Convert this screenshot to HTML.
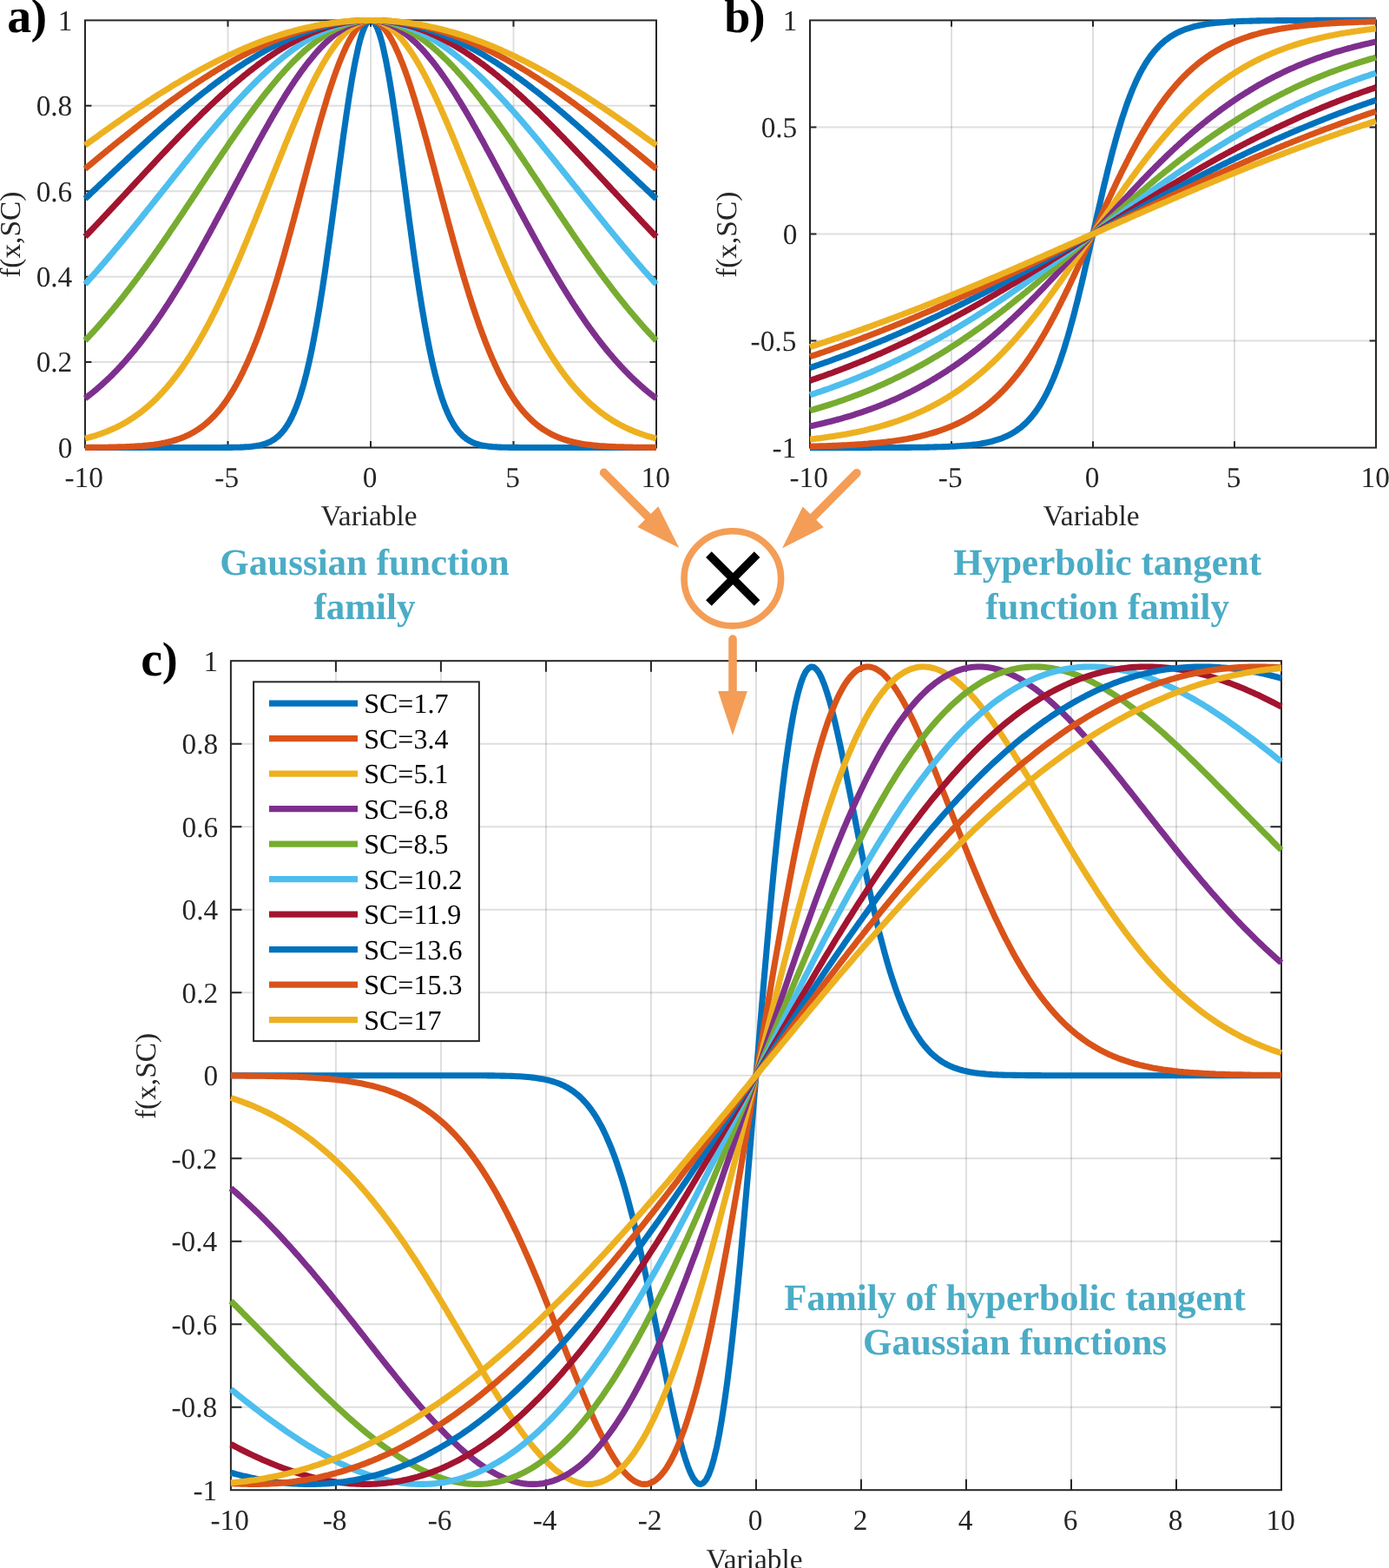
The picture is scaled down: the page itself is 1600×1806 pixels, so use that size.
<!DOCTYPE html>
<html lang="en">
<head>
<meta charset="utf-8">
<title>Gaussian and hyperbolic tangent function families</title>
<style>
html,body{margin:0;padding:0;background:#fff;}
body{width:1600px;height:1806px;overflow:hidden;}
svg{display:block;}
text{font-family:"Liberation Serif","Times New Roman",serif;text-rendering:geometricPrecision;}
.tl{font-size:33.33px;fill:#262626;}
.lg{font-size:32px;fill:#000;}
.pl{font-weight:bold;fill:#000;}
.ti{font-size:43px;font-weight:bold;fill:#4BACC6;}
</style>
</head>
<body>
<svg width="1600" height="1806" viewBox="0 0 1600 1806">
<defs><clipPath id="clipa"><rect x="0" y="20" width="1600" height="600"/></clipPath></defs>
<rect width="1600" height="1806" fill="#fff"/>
<g class="axes">
<path d="M262.5 23.4V515.5M427 23.4V515.5M591.5 23.4V515.5" stroke="#262626" stroke-opacity="0.15" stroke-width="2.0" fill="none"/>
<path d="M98 417.08H756M98 318.66H756M98 220.24H756M98 121.82H756" stroke="#262626" stroke-opacity="0.15" stroke-width="2.0" fill="none"/>
<path d="M262.5 515.5v-7.4M262.5 23.4v7.4M427 515.5v-7.4M427 23.4v7.4M591.5 515.5v-7.4M591.5 23.4v7.4M98 417.08h7.4M756 417.08h-7.4M98 318.66h7.4M756 318.66h-7.4M98 220.24h7.4M756 220.24h-7.4M98 121.82h7.4M756 121.82h-7.4" stroke="#262626" stroke-width="2.0" fill="none"/>
<rect x="98" y="23.4" width="658" height="492.1" stroke="#262626" stroke-width="2.0" fill="none"/>
<g class="tl" text-anchor="middle">
<text x="96.7" y="561">-10</text>
<text x="261.2" y="561">-5</text>
<text x="426.2" y="561">0</text>
<text x="590.7" y="561">5</text>
<text x="755.2" y="561">10</text>
</g>
<g class="tl" text-anchor="end">
<text x="83.3" y="527">0</text>
<text x="83.3" y="428">0.2</text>
<text x="83.3" y="330">0.4</text>
<text x="83.3" y="232">0.6</text>
<text x="83.3" y="133">0.8</text>
<text x="83.3" y="35">1</text>
</g>
<text class="tl" text-anchor="middle" x="425" y="605">Variable</text>
<text class="tl" text-anchor="middle" transform="translate(23.1 270.25) rotate(-90)">f(x,SC)</text>
<g fill="none" stroke-width="7.1" stroke-linejoin="round" clip-path="url(#clipa)">
<polyline stroke="#0072BD" points="98.0,515.5 99.6,515.5 101.3,515.5 102.9,515.5 104.6,515.5 106.2,515.5 107.9,515.5 109.5,515.5 111.2,515.5 112.8,515.5 114.5,515.5 116.1,515.5 117.7,515.5 119.4,515.5 121.0,515.5 122.7,515.5 124.3,515.5 126.0,515.5 127.6,515.5 129.3,515.5 130.9,515.5 132.5,515.5 134.2,515.5 135.8,515.5 137.5,515.5 139.1,515.5 140.8,515.5 142.4,515.5 144.1,515.5 145.7,515.5 147.3,515.5 149.0,515.5 150.6,515.5 152.3,515.5 153.9,515.5 155.6,515.5 157.2,515.5 158.9,515.5 160.5,515.5 162.2,515.5 163.8,515.5 165.4,515.5 167.1,515.5 168.7,515.5 170.4,515.5 172.0,515.5 173.7,515.5 175.3,515.5 177.0,515.5 178.6,515.5 180.2,515.5 181.9,515.5 183.5,515.5 185.2,515.5 186.8,515.5 188.5,515.5 190.1,515.5 191.8,515.5 193.4,515.5 195.1,515.5 196.7,515.5 198.3,515.5 200.0,515.5 201.6,515.5 203.3,515.5 204.9,515.5 206.6,515.5 208.2,515.5 209.9,515.5 211.5,515.5 213.1,515.5 214.8,515.5 216.4,515.5 218.1,515.5 219.7,515.5 221.4,515.5 223.0,515.5 224.7,515.5 226.3,515.5 228.0,515.5 229.6,515.5 231.2,515.5 232.9,515.5 234.5,515.5 236.2,515.5 237.8,515.5 239.5,515.5 241.1,515.5 242.8,515.5 244.4,515.5 246.1,515.5 247.7,515.5 249.3,515.5 251.0,515.5 252.6,515.5 254.3,515.5 255.9,515.5 257.6,515.4 259.2,515.4 260.9,515.4 262.5,515.4 264.1,515.4 265.8,515.4 267.4,515.4 269.1,515.3 270.7,515.3 272.4,515.3 274.0,515.2 275.7,515.2 277.3,515.1 279.0,515.1 280.6,515.0 282.2,514.9 283.9,514.8 285.5,514.7 287.2,514.6 288.8,514.4 290.5,514.2 292.1,514.0 293.8,513.8 295.4,513.6 297.0,513.3 298.7,513.0 300.3,512.6 302.0,512.2 303.6,511.7 305.3,511.2 306.9,510.6 308.6,509.9 310.2,509.2 311.9,508.4 313.5,507.5 315.1,506.5 316.8,505.4 318.4,504.1 320.1,502.8 321.7,501.3 323.4,499.6 325.0,497.8 326.7,495.8 328.3,493.6 329.9,491.3 331.6,488.7 333.2,485.9 334.9,482.8 336.5,479.6 338.2,476.0 339.8,472.2 341.5,468.1 343.1,463.6 344.8,458.9 346.4,453.8 348.0,448.4 349.7,442.7 351.3,436.6 353.0,430.1 354.6,423.3 356.3,416.1 357.9,408.5 359.6,400.5 361.2,392.2 362.8,383.5 364.5,374.4 366.1,364.9 367.8,355.1 369.4,345.0 371.1,334.5 372.7,323.7 374.4,312.6 376.0,301.2 377.6,289.6 379.3,277.8 380.9,265.7 382.6,253.6 384.2,241.3 385.9,228.9 387.5,216.5 389.2,204.1 390.8,191.7 392.5,179.5 394.1,167.3 395.7,155.4 397.4,143.7 399.0,132.3 400.7,121.2 402.3,110.4 404.0,100.1 405.6,90.3 407.3,81.0 408.9,72.3 410.6,64.2 412.2,56.7 413.8,49.9 415.5,43.8 417.1,38.5 418.8,33.9 420.4,30.2 422.1,27.2 423.7,25.1 425.4,23.8 427.0,23.4 428.6,23.8 430.3,25.1 431.9,27.2 433.6,30.2 435.2,33.9 436.9,38.5 438.5,43.8 440.2,49.9 441.8,56.7 443.4,64.2 445.1,72.3 446.7,81.0 448.4,90.3 450.0,100.1 451.7,110.4 453.3,121.2 455.0,132.3 456.6,143.7 458.3,155.4 459.9,167.3 461.5,179.5 463.2,191.7 464.8,204.1 466.5,216.5 468.1,228.9 469.8,241.3 471.4,253.6 473.1,265.7 474.7,277.8 476.3,289.6 478.0,301.2 479.6,312.6 481.3,323.7 482.9,334.5 484.6,345.0 486.2,355.1 487.9,364.9 489.5,374.4 491.2,383.5 492.8,392.2 494.4,400.5 496.1,408.5 497.7,416.1 499.4,423.3 501.0,430.1 502.7,436.6 504.3,442.7 506.0,448.4 507.6,453.8 509.2,458.9 510.9,463.6 512.5,468.1 514.2,472.2 515.8,476.0 517.5,479.6 519.1,482.8 520.8,485.9 522.4,488.7 524.1,491.3 525.7,493.6 527.3,495.8 529.0,497.8 530.6,499.6 532.3,501.3 533.9,502.8 535.6,504.1 537.2,505.4 538.9,506.5 540.5,507.5 542.2,508.4 543.8,509.2 545.4,509.9 547.1,510.6 548.7,511.2 550.4,511.7 552.0,512.2 553.7,512.6 555.3,513.0 557.0,513.3 558.6,513.6 560.2,513.8 561.9,514.0 563.5,514.2 565.2,514.4 566.8,514.6 568.5,514.7 570.1,514.8 571.8,514.9 573.4,515.0 575.0,515.1 576.7,515.1 578.3,515.2 580.0,515.2 581.6,515.3 583.3,515.3 584.9,515.3 586.6,515.4 588.2,515.4 589.9,515.4 591.5,515.4 593.1,515.4 594.8,515.4 596.4,515.4 598.1,515.5 599.7,515.5 601.4,515.5 603.0,515.5 604.7,515.5 606.3,515.5 608.0,515.5 609.6,515.5 611.2,515.5 612.9,515.5 614.5,515.5 616.2,515.5 617.8,515.5 619.5,515.5 621.1,515.5 622.8,515.5 624.4,515.5 626.0,515.5 627.7,515.5 629.3,515.5 631.0,515.5 632.6,515.5 634.3,515.5 635.9,515.5 637.6,515.5 639.2,515.5 640.9,515.5 642.5,515.5 644.1,515.5 645.8,515.5 647.4,515.5 649.1,515.5 650.7,515.5 652.4,515.5 654.0,515.5 655.7,515.5 657.3,515.5 658.9,515.5 660.6,515.5 662.2,515.5 663.9,515.5 665.5,515.5 667.2,515.5 668.8,515.5 670.5,515.5 672.1,515.5 673.8,515.5 675.4,515.5 677.0,515.5 678.7,515.5 680.3,515.5 682.0,515.5 683.6,515.5 685.3,515.5 686.9,515.5 688.6,515.5 690.2,515.5 691.8,515.5 693.5,515.5 695.1,515.5 696.8,515.5 698.4,515.5 700.1,515.5 701.7,515.5 703.4,515.5 705.0,515.5 706.6,515.5 708.3,515.5 709.9,515.5 711.6,515.5 713.2,515.5 714.9,515.5 716.5,515.5 718.2,515.5 719.8,515.5 721.5,515.5 723.1,515.5 724.7,515.5 726.4,515.5 728.0,515.5 729.7,515.5 731.3,515.5 733.0,515.5 734.6,515.5 736.3,515.5 737.9,515.5 739.5,515.5 741.2,515.5 742.8,515.5 744.5,515.5 746.1,515.5 747.8,515.5 749.4,515.5 751.1,515.5 752.7,515.5 754.4,515.5 756.0,515.5"/>
<polyline stroke="#D95319" points="98.0,515.4 99.6,515.4 101.3,515.4 102.9,515.4 104.6,515.4 106.2,515.4 107.9,515.4 109.5,515.3 111.2,515.3 112.8,515.3 114.5,515.3 116.1,515.3 117.7,515.3 119.4,515.2 121.0,515.2 122.7,515.2 124.3,515.2 126.0,515.1 127.6,515.1 129.3,515.1 130.9,515.1 132.5,515.0 134.2,515.0 135.8,514.9 137.5,514.9 139.1,514.8 140.8,514.8 142.4,514.7 144.1,514.7 145.7,514.6 147.3,514.6 149.0,514.5 150.6,514.4 152.3,514.3 153.9,514.2 155.6,514.1 157.2,514.0 158.9,513.9 160.5,513.8 162.2,513.7 163.8,513.6 165.4,513.4 167.1,513.3 168.7,513.1 170.4,513.0 172.0,512.8 173.7,512.6 175.3,512.4 177.0,512.2 178.6,511.9 180.2,511.7 181.9,511.5 183.5,511.2 185.2,510.9 186.8,510.6 188.5,510.3 190.1,509.9 191.8,509.6 193.4,509.2 195.1,508.8 196.7,508.4 198.3,508.0 200.0,507.5 201.6,507.0 203.3,506.5 204.9,505.9 206.6,505.4 208.2,504.8 209.9,504.1 211.5,503.5 213.1,502.8 214.8,502.0 216.4,501.3 218.1,500.5 219.7,499.6 221.4,498.7 223.0,497.8 224.7,496.8 226.3,495.8 228.0,494.8 229.6,493.6 231.2,492.5 232.9,491.3 234.5,490.0 236.2,488.7 237.8,487.3 239.5,485.9 241.1,484.4 242.8,482.8 244.4,481.2 246.1,479.6 247.7,477.8 249.3,476.0 251.0,474.1 252.6,472.2 254.3,470.2 255.9,468.1 257.6,465.9 259.2,463.6 260.9,461.3 262.5,458.9 264.1,456.4 265.8,453.8 267.4,451.2 269.1,448.4 270.7,445.6 272.4,442.7 274.0,439.7 275.7,436.6 277.3,433.4 279.0,430.1 280.6,426.8 282.2,423.3 283.9,419.7 285.5,416.1 287.2,412.4 288.8,408.5 290.5,404.6 292.1,400.5 293.8,396.4 295.4,392.2 297.0,387.9 298.7,383.5 300.3,379.0 302.0,374.4 303.6,369.7 305.3,364.9 306.9,360.1 308.6,355.1 310.2,350.1 311.9,345.0 313.5,339.8 315.1,334.5 316.8,329.1 318.4,323.7 320.1,318.2 321.7,312.6 323.4,306.9 325.0,301.2 326.7,295.4 328.3,289.6 329.9,283.7 331.6,277.8 333.2,271.8 334.9,265.7 336.5,259.7 338.2,253.6 339.8,247.4 341.5,241.3 343.1,235.1 344.8,228.9 346.4,222.7 348.0,216.5 349.7,210.3 351.3,204.1 353.0,197.9 354.6,191.7 356.3,185.6 357.9,179.5 359.6,173.4 361.2,167.3 362.8,161.3 364.5,155.4 366.1,149.5 367.8,143.7 369.4,137.9 371.1,132.3 372.7,126.7 374.4,121.2 376.0,115.7 377.6,110.4 379.3,105.2 380.9,100.1 382.6,95.2 384.2,90.3 385.9,85.6 387.5,81.0 389.2,76.6 390.8,72.3 392.5,68.2 394.1,64.2 395.7,60.4 397.4,56.7 399.0,53.2 400.7,49.9 402.3,46.8 404.0,43.8 405.6,41.1 407.3,38.5 408.9,36.1 410.6,33.9 412.2,31.9 413.8,30.2 415.5,28.6 417.1,27.2 418.8,26.1 420.4,25.1 422.1,24.4 423.7,23.8 425.4,23.5 427.0,23.4 428.6,23.5 430.3,23.8 431.9,24.4 433.6,25.1 435.2,26.1 436.9,27.2 438.5,28.6 440.2,30.2 441.8,31.9 443.4,33.9 445.1,36.1 446.7,38.5 448.4,41.1 450.0,43.8 451.7,46.8 453.3,49.9 455.0,53.2 456.6,56.7 458.3,60.4 459.9,64.2 461.5,68.2 463.2,72.3 464.8,76.6 466.5,81.0 468.1,85.6 469.8,90.3 471.4,95.2 473.1,100.1 474.7,105.2 476.3,110.4 478.0,115.7 479.6,121.2 481.3,126.7 482.9,132.3 484.6,137.9 486.2,143.7 487.9,149.5 489.5,155.4 491.2,161.3 492.8,167.3 494.4,173.4 496.1,179.5 497.7,185.6 499.4,191.7 501.0,197.9 502.7,204.1 504.3,210.3 506.0,216.5 507.6,222.7 509.2,228.9 510.9,235.1 512.5,241.3 514.2,247.4 515.8,253.6 517.5,259.7 519.1,265.7 520.8,271.8 522.4,277.8 524.1,283.7 525.7,289.6 527.3,295.4 529.0,301.2 530.6,306.9 532.3,312.6 533.9,318.2 535.6,323.7 537.2,329.1 538.9,334.5 540.5,339.8 542.2,345.0 543.8,350.1 545.4,355.1 547.1,360.1 548.7,364.9 550.4,369.7 552.0,374.4 553.7,379.0 555.3,383.5 557.0,387.9 558.6,392.2 560.2,396.4 561.9,400.5 563.5,404.6 565.2,408.5 566.8,412.4 568.5,416.1 570.1,419.7 571.8,423.3 573.4,426.8 575.0,430.1 576.7,433.4 578.3,436.6 580.0,439.7 581.6,442.7 583.3,445.6 584.9,448.4 586.6,451.2 588.2,453.8 589.9,456.4 591.5,458.9 593.1,461.3 594.8,463.6 596.4,465.9 598.1,468.1 599.7,470.2 601.4,472.2 603.0,474.1 604.7,476.0 606.3,477.8 608.0,479.6 609.6,481.2 611.2,482.8 612.9,484.4 614.5,485.9 616.2,487.3 617.8,488.7 619.5,490.0 621.1,491.3 622.8,492.5 624.4,493.6 626.0,494.8 627.7,495.8 629.3,496.8 631.0,497.8 632.6,498.7 634.3,499.6 635.9,500.5 637.6,501.3 639.2,502.0 640.9,502.8 642.5,503.5 644.1,504.1 645.8,504.8 647.4,505.4 649.1,505.9 650.7,506.5 652.4,507.0 654.0,507.5 655.7,508.0 657.3,508.4 658.9,508.8 660.6,509.2 662.2,509.6 663.9,509.9 665.5,510.3 667.2,510.6 668.8,510.9 670.5,511.2 672.1,511.5 673.8,511.7 675.4,511.9 677.0,512.2 678.7,512.4 680.3,512.6 682.0,512.8 683.6,513.0 685.3,513.1 686.9,513.3 688.6,513.4 690.2,513.6 691.8,513.7 693.5,513.8 695.1,513.9 696.8,514.0 698.4,514.1 700.1,514.2 701.7,514.3 703.4,514.4 705.0,514.5 706.6,514.6 708.3,514.6 709.9,514.7 711.6,514.7 713.2,514.8 714.9,514.8 716.5,514.9 718.2,514.9 719.8,515.0 721.5,515.0 723.1,515.1 724.7,515.1 726.4,515.1 728.0,515.1 729.7,515.2 731.3,515.2 733.0,515.2 734.6,515.2 736.3,515.3 737.9,515.3 739.5,515.3 741.2,515.3 742.8,515.3 744.5,515.3 746.1,515.4 747.8,515.4 749.4,515.4 751.1,515.4 752.7,515.4 754.4,515.4 756.0,515.4"/>
<polyline stroke="#EDB120" points="98.0,505.0 99.6,504.6 101.3,504.1 102.9,503.7 104.6,503.2 106.2,502.8 107.9,502.3 109.5,501.8 111.2,501.3 112.8,500.7 114.5,500.2 116.1,499.6 117.7,499.0 119.4,498.4 121.0,497.8 122.7,497.2 124.3,496.5 126.0,495.8 127.6,495.1 129.3,494.4 130.9,493.6 132.5,492.9 134.2,492.1 135.8,491.3 137.5,490.4 139.1,489.6 140.8,488.7 142.4,487.8 144.1,486.8 145.7,485.9 147.3,484.9 149.0,483.9 150.6,482.8 152.3,481.8 153.9,480.7 155.6,479.6 157.2,478.4 158.9,477.2 160.5,476.0 162.2,474.8 163.8,473.5 165.4,472.2 167.1,470.8 168.7,469.5 170.4,468.1 172.0,466.6 173.7,465.1 175.3,463.6 177.0,462.1 178.6,460.5 180.2,458.9 181.9,457.2 183.5,455.6 185.2,453.8 186.8,452.1 188.5,450.3 190.1,448.4 191.8,446.6 193.4,444.6 195.1,442.7 196.7,440.7 198.3,438.7 200.0,436.6 201.6,434.5 203.3,432.3 204.9,430.1 206.6,427.9 208.2,425.6 209.9,423.3 211.5,420.9 213.1,418.5 214.8,416.1 216.4,413.6 218.1,411.1 219.7,408.5 221.4,405.9 223.0,403.2 224.7,400.5 226.3,397.8 228.0,395.0 229.6,392.2 231.2,389.3 232.9,386.4 234.5,383.5 236.2,380.5 237.8,377.5 239.5,374.4 241.1,371.3 242.8,368.1 244.4,364.9 246.1,361.7 247.7,358.4 249.3,355.1 251.0,351.8 252.6,348.4 254.3,345.0 255.9,341.5 257.6,338.0 259.2,334.5 260.9,330.9 262.5,327.3 264.1,323.7 265.8,320.0 267.4,316.3 269.1,312.6 270.7,308.8 272.4,305.0 274.0,301.2 275.7,297.4 277.3,293.5 279.0,289.6 280.6,285.7 282.2,281.7 283.9,277.8 285.5,273.8 287.2,269.8 288.8,265.7 290.5,261.7 292.1,257.6 293.8,253.6 295.4,249.5 297.0,245.4 298.7,241.3 300.3,237.2 302.0,233.0 303.6,228.9 305.3,224.8 306.9,220.6 308.6,216.5 310.2,212.4 311.9,208.2 313.5,204.1 315.1,200.0 316.8,195.9 318.4,191.7 320.1,187.6 321.7,183.5 323.4,179.5 325.0,175.4 326.7,171.4 328.3,167.3 329.9,163.3 331.6,159.4 333.2,155.4 334.9,151.5 336.5,147.6 338.2,143.7 339.8,139.8 341.5,136.0 343.1,132.3 344.8,128.5 346.4,124.8 348.0,121.2 349.7,117.5 351.3,114.0 353.0,110.4 354.6,107.0 356.3,103.5 357.9,100.1 359.6,96.8 361.2,93.5 362.8,90.3 364.5,87.2 366.1,84.1 367.8,81.0 369.4,78.1 371.1,75.1 372.7,72.3 374.4,69.5 376.0,66.8 377.6,64.2 379.3,61.6 380.9,59.1 382.6,56.7 384.2,54.4 385.9,52.1 387.5,49.9 389.2,47.8 390.8,45.8 392.5,43.8 394.1,42.0 395.7,40.2 397.4,38.5 399.0,36.9 400.7,35.4 402.3,33.9 404.0,32.6 405.6,31.3 407.3,30.2 408.9,29.1 410.6,28.1 412.2,27.2 413.8,26.4 415.5,25.7 417.1,25.1 418.8,24.6 420.4,24.2 422.1,23.8 423.7,23.6 425.4,23.4 427.0,23.4 428.6,23.4 430.3,23.6 431.9,23.8 433.6,24.2 435.2,24.6 436.9,25.1 438.5,25.7 440.2,26.4 441.8,27.2 443.4,28.1 445.1,29.1 446.7,30.2 448.4,31.3 450.0,32.6 451.7,33.9 453.3,35.4 455.0,36.9 456.6,38.5 458.3,40.2 459.9,42.0 461.5,43.8 463.2,45.8 464.8,47.8 466.5,49.9 468.1,52.1 469.8,54.4 471.4,56.7 473.1,59.1 474.7,61.6 476.3,64.2 478.0,66.8 479.6,69.5 481.3,72.3 482.9,75.1 484.6,78.1 486.2,81.0 487.9,84.1 489.5,87.2 491.2,90.3 492.8,93.5 494.4,96.8 496.1,100.1 497.7,103.5 499.4,107.0 501.0,110.4 502.7,114.0 504.3,117.5 506.0,121.2 507.6,124.8 509.2,128.5 510.9,132.3 512.5,136.0 514.2,139.8 515.8,143.7 517.5,147.6 519.1,151.5 520.8,155.4 522.4,159.4 524.1,163.3 525.7,167.3 527.3,171.4 529.0,175.4 530.6,179.5 532.3,183.5 533.9,187.6 535.6,191.7 537.2,195.9 538.9,200.0 540.5,204.1 542.2,208.2 543.8,212.4 545.4,216.5 547.1,220.6 548.7,224.8 550.4,228.9 552.0,233.0 553.7,237.2 555.3,241.3 557.0,245.4 558.6,249.5 560.2,253.6 561.9,257.6 563.5,261.7 565.2,265.7 566.8,269.8 568.5,273.8 570.1,277.8 571.8,281.7 573.4,285.7 575.0,289.6 576.7,293.5 578.3,297.4 580.0,301.2 581.6,305.0 583.3,308.8 584.9,312.6 586.6,316.3 588.2,320.0 589.9,323.7 591.5,327.3 593.1,330.9 594.8,334.5 596.4,338.0 598.1,341.5 599.7,345.0 601.4,348.4 603.0,351.8 604.7,355.1 606.3,358.4 608.0,361.7 609.6,364.9 611.2,368.1 612.9,371.3 614.5,374.4 616.2,377.5 617.8,380.5 619.5,383.5 621.1,386.4 622.8,389.3 624.4,392.2 626.0,395.0 627.7,397.8 629.3,400.5 631.0,403.2 632.6,405.9 634.3,408.5 635.9,411.1 637.6,413.6 639.2,416.1 640.9,418.5 642.5,420.9 644.1,423.3 645.8,425.6 647.4,427.9 649.1,430.1 650.7,432.3 652.4,434.5 654.0,436.6 655.7,438.7 657.3,440.7 658.9,442.7 660.6,444.6 662.2,446.6 663.9,448.4 665.5,450.3 667.2,452.1 668.8,453.8 670.5,455.6 672.1,457.2 673.8,458.9 675.4,460.5 677.0,462.1 678.7,463.6 680.3,465.1 682.0,466.6 683.6,468.1 685.3,469.5 686.9,470.8 688.6,472.2 690.2,473.5 691.8,474.8 693.5,476.0 695.1,477.2 696.8,478.4 698.4,479.6 700.1,480.7 701.7,481.8 703.4,482.8 705.0,483.9 706.6,484.9 708.3,485.9 709.9,486.8 711.6,487.8 713.2,488.7 714.9,489.6 716.5,490.4 718.2,491.3 719.8,492.1 721.5,492.9 723.1,493.6 724.7,494.4 726.4,495.1 728.0,495.8 729.7,496.5 731.3,497.2 733.0,497.8 734.6,498.4 736.3,499.0 737.9,499.6 739.5,500.2 741.2,500.7 742.8,501.3 744.5,501.8 746.1,502.3 747.8,502.8 749.4,503.2 751.1,503.7 752.7,504.1 754.4,504.6 756.0,505.0"/>
<polyline stroke="#7E2F8E" points="98.0,458.9 99.6,457.7 101.3,456.4 102.9,455.1 104.6,453.8 106.2,452.5 107.9,451.2 109.5,449.8 111.2,448.4 112.8,447.0 114.5,445.6 116.1,444.2 117.7,442.7 119.4,441.2 121.0,439.7 122.7,438.2 124.3,436.6 126.0,435.0 127.6,433.4 129.3,431.8 130.9,430.1 132.5,428.5 134.2,426.8 135.8,425.0 137.5,423.3 139.1,421.5 140.8,419.7 142.4,417.9 144.1,416.1 145.7,414.2 147.3,412.4 149.0,410.4 150.6,408.5 152.3,406.6 153.9,404.6 155.6,402.6 157.2,400.5 158.9,398.5 160.5,396.4 162.2,394.3 163.8,392.2 165.4,390.1 167.1,387.9 168.7,385.7 170.4,383.5 172.0,381.2 173.7,379.0 175.3,376.7 177.0,374.4 178.6,372.1 180.2,369.7 181.9,367.3 183.5,364.9 185.2,362.5 186.8,360.1 188.5,357.6 190.1,355.1 191.8,352.6 193.4,350.1 195.1,347.5 196.7,345.0 198.3,342.4 200.0,339.8 201.6,337.1 203.3,334.5 204.9,331.8 206.6,329.1 208.2,326.4 209.9,323.7 211.5,320.9 213.1,318.2 214.8,315.4 216.4,312.6 218.1,309.8 219.7,306.9 221.4,304.1 223.0,301.2 224.7,298.3 226.3,295.4 228.0,292.5 229.6,289.6 231.2,286.7 232.9,283.7 234.5,280.7 236.2,277.8 237.8,274.8 239.5,271.8 241.1,268.8 242.8,265.7 244.4,262.7 246.1,259.7 247.7,256.6 249.3,253.6 251.0,250.5 252.6,247.4 254.3,244.4 255.9,241.3 257.6,238.2 259.2,235.1 260.9,232.0 262.5,228.9 264.1,225.8 265.8,222.7 267.4,219.6 269.1,216.5 270.7,213.4 272.4,210.3 274.0,207.2 275.7,204.1 277.3,201.0 279.0,197.9 280.6,194.8 282.2,191.7 283.9,188.7 285.5,185.6 287.2,182.5 288.8,179.5 290.5,176.4 292.1,173.4 293.8,170.4 295.4,167.3 297.0,164.3 298.7,161.3 300.3,158.4 302.0,155.4 303.6,152.4 305.3,149.5 306.9,146.6 308.6,143.7 310.2,140.8 311.9,137.9 313.5,135.1 315.1,132.3 316.8,129.4 318.4,126.7 320.1,123.9 321.7,121.2 323.4,118.4 325.0,115.7 326.7,113.1 328.3,110.4 329.9,107.8 331.6,105.2 333.2,102.7 334.9,100.1 336.5,97.6 338.2,95.2 339.8,92.7 341.5,90.3 343.1,88.0 344.8,85.6 346.4,83.3 348.0,81.0 349.7,78.8 351.3,76.6 353.0,74.4 354.6,72.3 356.3,70.2 357.9,68.2 359.6,66.2 361.2,64.2 362.8,62.2 364.5,60.4 366.1,58.5 367.8,56.7 369.4,54.9 371.1,53.2 372.7,51.5 374.4,49.9 376.0,48.3 377.6,46.8 379.3,45.3 380.9,43.8 382.6,42.4 384.2,41.1 385.9,39.8 387.5,38.5 389.2,37.3 390.8,36.1 392.5,35.0 394.1,33.9 395.7,32.9 397.4,31.9 399.0,31.0 400.7,30.2 402.3,29.4 404.0,28.6 405.6,27.9 407.3,27.2 408.9,26.6 410.6,26.1 412.2,25.6 413.8,25.1 415.5,24.7 417.1,24.4 418.8,24.1 420.4,23.8 422.1,23.6 423.7,23.5 425.4,23.4 427.0,23.4 428.6,23.4 430.3,23.5 431.9,23.6 433.6,23.8 435.2,24.1 436.9,24.4 438.5,24.7 440.2,25.1 441.8,25.6 443.4,26.1 445.1,26.6 446.7,27.2 448.4,27.9 450.0,28.6 451.7,29.4 453.3,30.2 455.0,31.0 456.6,31.9 458.3,32.9 459.9,33.9 461.5,35.0 463.2,36.1 464.8,37.3 466.5,38.5 468.1,39.8 469.8,41.1 471.4,42.4 473.1,43.8 474.7,45.3 476.3,46.8 478.0,48.3 479.6,49.9 481.3,51.5 482.9,53.2 484.6,54.9 486.2,56.7 487.9,58.5 489.5,60.4 491.2,62.2 492.8,64.2 494.4,66.2 496.1,68.2 497.7,70.2 499.4,72.3 501.0,74.4 502.7,76.6 504.3,78.8 506.0,81.0 507.6,83.3 509.2,85.6 510.9,88.0 512.5,90.3 514.2,92.7 515.8,95.2 517.5,97.6 519.1,100.1 520.8,102.7 522.4,105.2 524.1,107.8 525.7,110.4 527.3,113.1 529.0,115.7 530.6,118.4 532.3,121.2 533.9,123.9 535.6,126.7 537.2,129.4 538.9,132.3 540.5,135.1 542.2,137.9 543.8,140.8 545.4,143.7 547.1,146.6 548.7,149.5 550.4,152.4 552.0,155.4 553.7,158.4 555.3,161.3 557.0,164.3 558.6,167.3 560.2,170.4 561.9,173.4 563.5,176.4 565.2,179.5 566.8,182.5 568.5,185.6 570.1,188.7 571.8,191.7 573.4,194.8 575.0,197.9 576.7,201.0 578.3,204.1 580.0,207.2 581.6,210.3 583.3,213.4 584.9,216.5 586.6,219.6 588.2,222.7 589.9,225.8 591.5,228.9 593.1,232.0 594.8,235.1 596.4,238.2 598.1,241.3 599.7,244.4 601.4,247.4 603.0,250.5 604.7,253.6 606.3,256.6 608.0,259.7 609.6,262.7 611.2,265.7 612.9,268.8 614.5,271.8 616.2,274.8 617.8,277.8 619.5,280.7 621.1,283.7 622.8,286.7 624.4,289.6 626.0,292.5 627.7,295.4 629.3,298.3 631.0,301.2 632.6,304.1 634.3,306.9 635.9,309.8 637.6,312.6 639.2,315.4 640.9,318.2 642.5,320.9 644.1,323.7 645.8,326.4 647.4,329.1 649.1,331.8 650.7,334.5 652.4,337.1 654.0,339.8 655.7,342.4 657.3,345.0 658.9,347.5 660.6,350.1 662.2,352.6 663.9,355.1 665.5,357.6 667.2,360.1 668.8,362.5 670.5,364.9 672.1,367.3 673.8,369.7 675.4,372.1 677.0,374.4 678.7,376.7 680.3,379.0 682.0,381.2 683.6,383.5 685.3,385.7 686.9,387.9 688.6,390.1 690.2,392.2 691.8,394.3 693.5,396.4 695.1,398.5 696.8,400.5 698.4,402.6 700.1,404.6 701.7,406.6 703.4,408.5 705.0,410.4 706.6,412.4 708.3,414.2 709.9,416.1 711.6,417.9 713.2,419.7 714.9,421.5 716.5,423.3 718.2,425.0 719.8,426.8 721.5,428.5 723.1,430.1 724.7,431.8 726.4,433.4 728.0,435.0 729.7,436.6 731.3,438.2 733.0,439.7 734.6,441.2 736.3,442.7 737.9,444.2 739.5,445.6 741.2,447.0 742.8,448.4 744.5,449.8 746.1,451.2 747.8,452.5 749.4,453.8 751.1,455.1 752.7,456.4 754.4,457.7 756.0,458.9"/>
<polyline stroke="#77AC30" points="98.0,392.2 99.6,390.5 101.3,388.8 102.9,387.0 104.6,385.3 106.2,383.5 107.9,381.7 109.5,379.9 111.2,378.1 112.8,376.2 114.5,374.4 116.1,372.5 117.7,370.6 119.4,368.8 121.0,366.9 122.7,364.9 124.3,363.0 126.0,361.0 127.6,359.1 129.3,357.1 130.9,355.1 132.5,353.1 134.2,351.1 135.8,349.1 137.5,347.0 139.1,345.0 140.8,342.9 142.4,340.8 144.1,338.7 145.7,336.6 147.3,334.5 149.0,332.3 150.6,330.2 152.3,328.0 153.9,325.8 155.6,323.7 157.2,321.5 158.9,319.3 160.5,317.0 162.2,314.8 163.8,312.6 165.4,310.3 167.1,308.1 168.7,305.8 170.4,303.5 172.0,301.2 173.7,298.9 175.3,296.6 177.0,294.3 178.6,291.9 180.2,289.6 181.9,287.2 183.5,284.9 185.2,282.5 186.8,280.1 188.5,277.8 190.1,275.4 191.8,273.0 193.4,270.6 195.1,268.2 196.7,265.7 198.3,263.3 200.0,260.9 201.6,258.5 203.3,256.0 204.9,253.6 206.6,251.1 208.2,248.7 209.9,246.2 211.5,243.8 213.1,241.3 214.8,238.8 216.4,236.3 218.1,233.9 219.7,231.4 221.4,228.9 223.0,226.4 224.7,224.0 226.3,221.5 228.0,219.0 229.6,216.5 231.2,214.0 232.9,211.5 234.5,209.1 236.2,206.6 237.8,204.1 239.5,201.6 241.1,199.2 242.8,196.7 244.4,194.2 246.1,191.7 247.7,189.3 249.3,186.8 251.0,184.4 252.6,181.9 254.3,179.5 255.9,177.0 257.6,174.6 259.2,172.2 260.9,169.8 262.5,167.3 264.1,164.9 265.8,162.5 267.4,160.1 269.1,157.8 270.7,155.4 272.4,153.0 274.0,150.7 275.7,148.3 277.3,146.0 279.0,143.7 280.6,141.4 282.2,139.1 283.9,136.8 285.5,134.5 287.2,132.3 288.8,130.0 290.5,127.8 292.1,125.6 293.8,123.3 295.4,121.2 297.0,119.0 298.7,116.8 300.3,114.7 302.0,112.5 303.6,110.4 305.3,108.3 306.9,106.3 308.6,104.2 310.2,102.2 311.9,100.1 313.5,98.1 315.1,96.2 316.8,94.2 318.4,92.3 320.1,90.3 321.7,88.4 323.4,86.5 325.0,84.7 326.7,82.9 328.3,81.0 329.9,79.2 331.6,77.5 333.2,75.7 334.9,74.0 336.5,72.3 338.2,70.6 339.8,69.0 341.5,67.4 343.1,65.8 344.8,64.2 346.4,62.6 348.0,61.1 349.7,59.6 351.3,58.1 353.0,56.7 354.6,55.3 356.3,53.9 357.9,52.5 359.6,51.2 361.2,49.9 362.8,48.6 364.5,47.4 366.1,46.2 367.8,45.0 369.4,43.8 371.1,42.7 372.7,41.6 374.4,40.5 376.0,39.5 377.6,38.5 379.3,37.5 380.9,36.6 382.6,35.7 384.2,34.8 385.9,33.9 387.5,33.1 389.2,32.3 390.8,31.6 392.5,30.9 394.1,30.2 395.7,29.5 397.4,28.9 399.0,28.3 400.7,27.7 402.3,27.2 404.0,26.7 405.6,26.3 407.3,25.8 408.9,25.5 410.6,25.1 412.2,24.8 413.8,24.5 415.5,24.2 417.1,24.0 418.8,23.8 420.4,23.7 422.1,23.6 423.7,23.5 425.4,23.4 427.0,23.4 428.6,23.4 430.3,23.5 431.9,23.6 433.6,23.7 435.2,23.8 436.9,24.0 438.5,24.2 440.2,24.5 441.8,24.8 443.4,25.1 445.1,25.5 446.7,25.8 448.4,26.3 450.0,26.7 451.7,27.2 453.3,27.7 455.0,28.3 456.6,28.9 458.3,29.5 459.9,30.2 461.5,30.9 463.2,31.6 464.8,32.3 466.5,33.1 468.1,33.9 469.8,34.8 471.4,35.7 473.1,36.6 474.7,37.5 476.3,38.5 478.0,39.5 479.6,40.5 481.3,41.6 482.9,42.7 484.6,43.8 486.2,45.0 487.9,46.2 489.5,47.4 491.2,48.6 492.8,49.9 494.4,51.2 496.1,52.5 497.7,53.9 499.4,55.3 501.0,56.7 502.7,58.1 504.3,59.6 506.0,61.1 507.6,62.6 509.2,64.2 510.9,65.8 512.5,67.4 514.2,69.0 515.8,70.6 517.5,72.3 519.1,74.0 520.8,75.7 522.4,77.5 524.1,79.2 525.7,81.0 527.3,82.9 529.0,84.7 530.6,86.5 532.3,88.4 533.9,90.3 535.6,92.3 537.2,94.2 538.9,96.2 540.5,98.1 542.2,100.1 543.8,102.2 545.4,104.2 547.1,106.3 548.7,108.3 550.4,110.4 552.0,112.5 553.7,114.7 555.3,116.8 557.0,119.0 558.6,121.2 560.2,123.3 561.9,125.6 563.5,127.8 565.2,130.0 566.8,132.3 568.5,134.5 570.1,136.8 571.8,139.1 573.4,141.4 575.0,143.7 576.7,146.0 578.3,148.3 580.0,150.7 581.6,153.0 583.3,155.4 584.9,157.8 586.6,160.1 588.2,162.5 589.9,164.9 591.5,167.3 593.1,169.8 594.8,172.2 596.4,174.6 598.1,177.0 599.7,179.5 601.4,181.9 603.0,184.4 604.7,186.8 606.3,189.3 608.0,191.7 609.6,194.2 611.2,196.7 612.9,199.2 614.5,201.6 616.2,204.1 617.8,206.6 619.5,209.1 621.1,211.5 622.8,214.0 624.4,216.5 626.0,219.0 627.7,221.5 629.3,224.0 631.0,226.4 632.6,228.9 634.3,231.4 635.9,233.9 637.6,236.3 639.2,238.8 640.9,241.3 642.5,243.8 644.1,246.2 645.8,248.7 647.4,251.1 649.1,253.6 650.7,256.0 652.4,258.5 654.0,260.9 655.7,263.3 657.3,265.7 658.9,268.2 660.6,270.6 662.2,273.0 663.9,275.4 665.5,277.8 667.2,280.1 668.8,282.5 670.5,284.9 672.1,287.2 673.8,289.6 675.4,291.9 677.0,294.3 678.7,296.6 680.3,298.9 682.0,301.2 683.6,303.5 685.3,305.8 686.9,308.1 688.6,310.3 690.2,312.6 691.8,314.8 693.5,317.0 695.1,319.3 696.8,321.5 698.4,323.7 700.1,325.8 701.7,328.0 703.4,330.2 705.0,332.3 706.6,334.5 708.3,336.6 709.9,338.7 711.6,340.8 713.2,342.9 714.9,345.0 716.5,347.0 718.2,349.1 719.8,351.1 721.5,353.1 723.1,355.1 724.7,357.1 726.4,359.1 728.0,361.0 729.7,363.0 731.3,364.9 733.0,366.9 734.6,368.8 736.3,370.6 737.9,372.5 739.5,374.4 741.2,376.2 742.8,378.1 744.5,379.9 746.1,381.7 747.8,383.5 749.4,385.3 751.1,387.0 752.7,388.8 754.4,390.5 756.0,392.2"/>
<polyline stroke="#4DBEEE" points="98.0,327.3 99.6,325.5 101.3,323.7 102.9,321.8 104.6,320.0 106.2,318.2 107.9,316.3 109.5,314.4 111.2,312.6 112.8,310.7 114.5,308.8 116.1,306.9 117.7,305.0 119.4,303.1 121.0,301.2 122.7,299.3 124.3,297.4 126.0,295.4 127.6,293.5 129.3,291.5 130.9,289.6 132.5,287.6 134.2,285.7 135.8,283.7 137.5,281.7 139.1,279.7 140.8,277.8 142.4,275.8 144.1,273.8 145.7,271.8 147.3,269.8 149.0,267.8 150.6,265.7 152.3,263.7 153.9,261.7 155.6,259.7 157.2,257.6 158.9,255.6 160.5,253.6 162.2,251.5 163.8,249.5 165.4,247.4 167.1,245.4 168.7,243.3 170.4,241.3 172.0,239.2 173.7,237.2 175.3,235.1 177.0,233.0 178.6,231.0 180.2,228.9 181.9,226.9 183.5,224.8 185.2,222.7 186.8,220.6 188.5,218.6 190.1,216.5 191.8,214.4 193.4,212.4 195.1,210.3 196.7,208.2 198.3,206.2 200.0,204.1 201.6,202.0 203.3,200.0 204.9,197.9 206.6,195.9 208.2,193.8 209.9,191.7 211.5,189.7 213.1,187.6 214.8,185.6 216.4,183.5 218.1,181.5 219.7,179.5 221.4,177.4 223.0,175.4 224.7,173.4 226.3,171.4 228.0,169.4 229.6,167.3 231.2,165.3 232.9,163.3 234.5,161.3 236.2,159.4 237.8,157.4 239.5,155.4 241.1,153.4 242.8,151.5 244.4,149.5 246.1,147.6 247.7,145.6 249.3,143.7 251.0,141.8 252.6,139.8 254.3,137.9 255.9,136.0 257.6,134.1 259.2,132.3 260.9,130.4 262.5,128.5 264.1,126.7 265.8,124.8 267.4,123.0 269.1,121.2 270.7,119.3 272.4,117.5 274.0,115.7 275.7,114.0 277.3,112.2 279.0,110.4 280.6,108.7 282.2,107.0 283.9,105.2 285.5,103.5 287.2,101.8 288.8,100.1 290.5,98.5 292.1,96.8 293.8,95.2 295.4,93.5 297.0,91.9 298.7,90.3 300.3,88.7 302.0,87.2 303.6,85.6 305.3,84.1 306.9,82.5 308.6,81.0 310.2,79.5 311.9,78.1 313.5,76.6 315.1,75.1 316.8,73.7 318.4,72.3 320.1,70.9 321.7,69.5 323.4,68.2 325.0,66.8 326.7,65.5 328.3,64.2 329.9,62.9 331.6,61.6 333.2,60.4 334.9,59.1 336.5,57.9 338.2,56.7 339.8,55.5 341.5,54.4 343.1,53.2 344.8,52.1 346.4,51.0 348.0,49.9 349.7,48.8 351.3,47.8 353.0,46.8 354.6,45.8 356.3,44.8 357.9,43.8 359.6,42.9 361.2,42.0 362.8,41.1 364.5,40.2 366.1,39.3 367.8,38.5 369.4,37.7 371.1,36.9 372.7,36.1 374.4,35.4 376.0,34.6 377.6,33.9 379.3,33.2 380.9,32.6 382.6,31.9 384.2,31.3 385.9,30.7 387.5,30.2 389.2,29.6 390.8,29.1 392.5,28.6 394.1,28.1 395.7,27.7 397.4,27.2 399.0,26.8 400.7,26.4 402.3,26.1 404.0,25.7 405.6,25.4 407.3,25.1 408.9,24.8 410.6,24.6 412.2,24.4 413.8,24.2 415.5,24.0 417.1,23.8 418.8,23.7 420.4,23.6 422.1,23.5 423.7,23.4 425.4,23.4 427.0,23.4 428.6,23.4 430.3,23.4 431.9,23.5 433.6,23.6 435.2,23.7 436.9,23.8 438.5,24.0 440.2,24.2 441.8,24.4 443.4,24.6 445.1,24.8 446.7,25.1 448.4,25.4 450.0,25.7 451.7,26.1 453.3,26.4 455.0,26.8 456.6,27.2 458.3,27.7 459.9,28.1 461.5,28.6 463.2,29.1 464.8,29.6 466.5,30.2 468.1,30.7 469.8,31.3 471.4,31.9 473.1,32.6 474.7,33.2 476.3,33.9 478.0,34.6 479.6,35.4 481.3,36.1 482.9,36.9 484.6,37.7 486.2,38.5 487.9,39.3 489.5,40.2 491.2,41.1 492.8,42.0 494.4,42.9 496.1,43.8 497.7,44.8 499.4,45.8 501.0,46.8 502.7,47.8 504.3,48.8 506.0,49.9 507.6,51.0 509.2,52.1 510.9,53.2 512.5,54.4 514.2,55.5 515.8,56.7 517.5,57.9 519.1,59.1 520.8,60.4 522.4,61.6 524.1,62.9 525.7,64.2 527.3,65.5 529.0,66.8 530.6,68.2 532.3,69.5 533.9,70.9 535.6,72.3 537.2,73.7 538.9,75.1 540.5,76.6 542.2,78.1 543.8,79.5 545.4,81.0 547.1,82.5 548.7,84.1 550.4,85.6 552.0,87.2 553.7,88.7 555.3,90.3 557.0,91.9 558.6,93.5 560.2,95.2 561.9,96.8 563.5,98.5 565.2,100.1 566.8,101.8 568.5,103.5 570.1,105.2 571.8,107.0 573.4,108.7 575.0,110.4 576.7,112.2 578.3,114.0 580.0,115.7 581.6,117.5 583.3,119.3 584.9,121.2 586.6,123.0 588.2,124.8 589.9,126.7 591.5,128.5 593.1,130.4 594.8,132.3 596.4,134.1 598.1,136.0 599.7,137.9 601.4,139.8 603.0,141.8 604.7,143.7 606.3,145.6 608.0,147.6 609.6,149.5 611.2,151.5 612.9,153.4 614.5,155.4 616.2,157.4 617.8,159.4 619.5,161.3 621.1,163.3 622.8,165.3 624.4,167.3 626.0,169.4 627.7,171.4 629.3,173.4 631.0,175.4 632.6,177.4 634.3,179.5 635.9,181.5 637.6,183.5 639.2,185.6 640.9,187.6 642.5,189.7 644.1,191.7 645.8,193.8 647.4,195.9 649.1,197.9 650.7,200.0 652.4,202.0 654.0,204.1 655.7,206.2 657.3,208.2 658.9,210.3 660.6,212.4 662.2,214.4 663.9,216.5 665.5,218.6 667.2,220.6 668.8,222.7 670.5,224.8 672.1,226.9 673.8,228.9 675.4,231.0 677.0,233.0 678.7,235.1 680.3,237.2 682.0,239.2 683.6,241.3 685.3,243.3 686.9,245.4 688.6,247.4 690.2,249.5 691.8,251.5 693.5,253.6 695.1,255.6 696.8,257.6 698.4,259.7 700.1,261.7 701.7,263.7 703.4,265.7 705.0,267.8 706.6,269.8 708.3,271.8 709.9,273.8 711.6,275.8 713.2,277.8 714.9,279.7 716.5,281.7 718.2,283.7 719.8,285.7 721.5,287.6 723.1,289.6 724.7,291.5 726.4,293.5 728.0,295.4 729.7,297.4 731.3,299.3 733.0,301.2 734.6,303.1 736.3,305.0 737.9,306.9 739.5,308.8 741.2,310.7 742.8,312.6 744.5,314.4 746.1,316.3 747.8,318.2 749.4,320.0 751.1,321.8 752.7,323.7 754.4,325.5 756.0,327.3"/>
<polyline stroke="#A2142F" points="98.0,272.6 99.6,270.9 101.3,269.2 102.9,267.5 104.6,265.7 106.2,264.0 107.9,262.3 109.5,260.5 111.2,258.8 112.8,257.1 114.5,255.3 116.1,253.6 117.7,251.8 119.4,250.1 121.0,248.3 122.7,246.6 124.3,244.8 126.0,243.0 127.6,241.3 129.3,239.5 130.9,237.8 132.5,236.0 134.2,234.2 135.8,232.5 137.5,230.7 139.1,228.9 140.8,227.1 142.4,225.4 144.1,223.6 145.7,221.8 147.3,220.1 149.0,218.3 150.6,216.5 152.3,214.7 153.9,213.0 155.6,211.2 157.2,209.4 158.9,207.6 160.5,205.9 162.2,204.1 163.8,202.3 165.4,200.6 167.1,198.8 168.7,197.0 170.4,195.3 172.0,193.5 173.7,191.7 175.3,190.0 177.0,188.2 178.6,186.5 180.2,184.7 181.9,183.0 183.5,181.2 185.2,179.5 186.8,177.7 188.5,176.0 190.1,174.3 191.8,172.5 193.4,170.8 195.1,169.1 196.7,167.3 198.3,165.6 200.0,163.9 201.6,162.2 203.3,160.5 204.9,158.8 206.6,157.1 208.2,155.4 209.9,153.7 211.5,152.0 213.1,150.3 214.8,148.7 216.4,147.0 218.1,145.3 219.7,143.7 221.4,142.0 223.0,140.4 224.7,138.7 226.3,137.1 228.0,135.5 229.6,133.9 231.2,132.3 232.9,130.6 234.5,129.0 236.2,127.5 237.8,125.9 239.5,124.3 241.1,122.7 242.8,121.2 244.4,119.6 246.1,118.1 247.7,116.5 249.3,115.0 251.0,113.5 252.6,111.9 254.3,110.4 255.9,108.9 257.6,107.5 259.2,106.0 260.9,104.5 262.5,103.0 264.1,101.6 265.8,100.1 267.4,98.7 269.1,97.3 270.7,95.9 272.4,94.5 274.0,93.1 275.7,91.7 277.3,90.3 279.0,89.0 280.6,87.6 282.2,86.3 283.9,85.0 285.5,83.6 287.2,82.3 288.8,81.0 290.5,79.8 292.1,78.5 293.8,77.2 295.4,76.0 297.0,74.7 298.7,73.5 300.3,72.3 302.0,71.1 303.6,69.9 305.3,68.7 306.9,67.6 308.6,66.4 310.2,65.3 311.9,64.2 313.5,63.1 315.1,62.0 316.8,60.9 318.4,59.8 320.1,58.8 321.7,57.7 323.4,56.7 325.0,55.7 326.7,54.7 328.3,53.7 329.9,52.7 331.6,51.8 333.2,50.8 334.9,49.9 336.5,49.0 338.2,48.1 339.8,47.2 341.5,46.3 343.1,45.5 344.8,44.6 346.4,43.8 348.0,43.0 349.7,42.2 351.3,41.4 353.0,40.7 354.6,39.9 356.3,39.2 357.9,38.5 359.6,37.8 361.2,37.1 362.8,36.4 364.5,35.8 366.1,35.2 367.8,34.5 369.4,33.9 371.1,33.3 372.7,32.8 374.4,32.2 376.0,31.7 377.6,31.2 379.3,30.7 380.9,30.2 382.6,29.7 384.2,29.2 385.9,28.8 387.5,28.4 389.2,28.0 390.8,27.6 392.5,27.2 394.1,26.9 395.7,26.5 397.4,26.2 399.0,25.9 400.7,25.6 402.3,25.4 404.0,25.1 405.6,24.9 407.3,24.6 408.9,24.5 410.6,24.3 412.2,24.1 413.8,24.0 415.5,23.8 417.1,23.7 418.8,23.6 420.4,23.5 422.1,23.5 423.7,23.4 425.4,23.4 427.0,23.4 428.6,23.4 430.3,23.4 431.9,23.5 433.6,23.5 435.2,23.6 436.9,23.7 438.5,23.8 440.2,24.0 441.8,24.1 443.4,24.3 445.1,24.5 446.7,24.6 448.4,24.9 450.0,25.1 451.7,25.4 453.3,25.6 455.0,25.9 456.6,26.2 458.3,26.5 459.9,26.9 461.5,27.2 463.2,27.6 464.8,28.0 466.5,28.4 468.1,28.8 469.8,29.2 471.4,29.7 473.1,30.2 474.7,30.7 476.3,31.2 478.0,31.7 479.6,32.2 481.3,32.8 482.9,33.3 484.6,33.9 486.2,34.5 487.9,35.2 489.5,35.8 491.2,36.4 492.8,37.1 494.4,37.8 496.1,38.5 497.7,39.2 499.4,39.9 501.0,40.7 502.7,41.4 504.3,42.2 506.0,43.0 507.6,43.8 509.2,44.6 510.9,45.5 512.5,46.3 514.2,47.2 515.8,48.1 517.5,49.0 519.1,49.9 520.8,50.8 522.4,51.8 524.1,52.7 525.7,53.7 527.3,54.7 529.0,55.7 530.6,56.7 532.3,57.7 533.9,58.8 535.6,59.8 537.2,60.9 538.9,62.0 540.5,63.1 542.2,64.2 543.8,65.3 545.4,66.4 547.1,67.6 548.7,68.7 550.4,69.9 552.0,71.1 553.7,72.3 555.3,73.5 557.0,74.7 558.6,76.0 560.2,77.2 561.9,78.5 563.5,79.8 565.2,81.0 566.8,82.3 568.5,83.6 570.1,85.0 571.8,86.3 573.4,87.6 575.0,89.0 576.7,90.3 578.3,91.7 580.0,93.1 581.6,94.5 583.3,95.9 584.9,97.3 586.6,98.7 588.2,100.1 589.9,101.6 591.5,103.0 593.1,104.5 594.8,106.0 596.4,107.5 598.1,108.9 599.7,110.4 601.4,111.9 603.0,113.5 604.7,115.0 606.3,116.5 608.0,118.1 609.6,119.6 611.2,121.2 612.9,122.7 614.5,124.3 616.2,125.9 617.8,127.5 619.5,129.0 621.1,130.6 622.8,132.3 624.4,133.9 626.0,135.5 627.7,137.1 629.3,138.7 631.0,140.4 632.6,142.0 634.3,143.7 635.9,145.3 637.6,147.0 639.2,148.7 640.9,150.3 642.5,152.0 644.1,153.7 645.8,155.4 647.4,157.1 649.1,158.8 650.7,160.5 652.4,162.2 654.0,163.9 655.7,165.6 657.3,167.3 658.9,169.1 660.6,170.8 662.2,172.5 663.9,174.3 665.5,176.0 667.2,177.7 668.8,179.5 670.5,181.2 672.1,183.0 673.8,184.7 675.4,186.5 677.0,188.2 678.7,190.0 680.3,191.7 682.0,193.5 683.6,195.3 685.3,197.0 686.9,198.8 688.6,200.6 690.2,202.3 691.8,204.1 693.5,205.9 695.1,207.6 696.8,209.4 698.4,211.2 700.1,213.0 701.7,214.7 703.4,216.5 705.0,218.3 706.6,220.1 708.3,221.8 709.9,223.6 711.6,225.4 713.2,227.1 714.9,228.9 716.5,230.7 718.2,232.5 719.8,234.2 721.5,236.0 723.1,237.8 724.7,239.5 726.4,241.3 728.0,243.0 729.7,244.8 731.3,246.6 733.0,248.3 734.6,250.1 736.3,251.8 737.9,253.6 739.5,255.3 741.2,257.1 742.8,258.8 744.5,260.5 746.1,262.3 747.8,264.0 749.4,265.7 751.1,267.5 752.7,269.2 754.4,270.9 756.0,272.6"/>
<polyline stroke="#0072BD" points="98.0,228.9 99.6,227.4 101.3,225.8 102.9,224.3 104.6,222.7 106.2,221.2 107.9,219.6 109.5,218.1 111.2,216.5 112.8,215.0 114.5,213.4 116.1,211.9 117.7,210.3 119.4,208.8 121.0,207.2 122.7,205.7 124.3,204.1 126.0,202.6 127.6,201.0 129.3,199.5 130.9,197.9 132.5,196.4 134.2,194.8 135.8,193.3 137.5,191.7 139.1,190.2 140.8,188.7 142.4,187.1 144.1,185.6 145.7,184.1 147.3,182.5 149.0,181.0 150.6,179.5 152.3,177.9 153.9,176.4 155.6,174.9 157.2,173.4 158.9,171.9 160.5,170.4 162.2,168.8 163.8,167.3 165.4,165.8 167.1,164.3 168.7,162.8 170.4,161.3 172.0,159.8 173.7,158.4 175.3,156.9 177.0,155.4 178.6,153.9 180.2,152.4 181.9,151.0 183.5,149.5 185.2,148.0 186.8,146.6 188.5,145.1 190.1,143.7 191.8,142.2 193.4,140.8 195.1,139.4 196.7,137.9 198.3,136.5 200.0,135.1 201.6,133.7 203.3,132.3 204.9,130.8 206.6,129.4 208.2,128.0 209.9,126.7 211.5,125.3 213.1,123.9 214.8,122.5 216.4,121.2 218.1,119.8 219.7,118.4 221.4,117.1 223.0,115.7 224.7,114.4 226.3,113.1 228.0,111.8 229.6,110.4 231.2,109.1 232.9,107.8 234.5,106.5 236.2,105.2 237.8,104.0 239.5,102.7 241.1,101.4 242.8,100.1 244.4,98.9 246.1,97.6 247.7,96.4 249.3,95.2 251.0,94.0 252.6,92.7 254.3,91.5 255.9,90.3 257.6,89.1 259.2,88.0 260.9,86.8 262.5,85.6 264.1,84.5 265.8,83.3 267.4,82.2 269.1,81.0 270.7,79.9 272.4,78.8 274.0,77.7 275.7,76.6 277.3,75.5 279.0,74.4 280.6,73.4 282.2,72.3 283.9,71.3 285.5,70.2 287.2,69.2 288.8,68.2 290.5,67.2 292.1,66.2 293.8,65.2 295.4,64.2 297.0,63.2 298.7,62.2 300.3,61.3 302.0,60.4 303.6,59.4 305.3,58.5 306.9,57.6 308.6,56.7 310.2,55.8 311.9,54.9 313.5,54.1 315.1,53.2 316.8,52.4 318.4,51.5 320.1,50.7 321.7,49.9 323.4,49.1 325.0,48.3 326.7,47.5 328.3,46.8 329.9,46.0 331.6,45.3 333.2,44.5 334.9,43.8 336.5,43.1 338.2,42.4 339.8,41.7 341.5,41.1 343.1,40.4 344.8,39.8 346.4,39.1 348.0,38.5 349.7,37.9 351.3,37.3 353.0,36.7 354.6,36.1 356.3,35.5 357.9,35.0 359.6,34.5 361.2,33.9 362.8,33.4 364.5,32.9 366.1,32.4 367.8,31.9 369.4,31.5 371.1,31.0 372.7,30.6 374.4,30.2 376.0,29.8 377.6,29.4 379.3,29.0 380.9,28.6 382.6,28.2 384.2,27.9 385.9,27.5 387.5,27.2 389.2,26.9 390.8,26.6 392.5,26.3 394.1,26.1 395.7,25.8 397.4,25.6 399.0,25.3 400.7,25.1 402.3,24.9 404.0,24.7 405.6,24.5 407.3,24.4 408.9,24.2 410.6,24.1 412.2,23.9 413.8,23.8 415.5,23.7 417.1,23.6 418.8,23.6 420.4,23.5 422.1,23.5 423.7,23.4 425.4,23.4 427.0,23.4 428.6,23.4 430.3,23.4 431.9,23.5 433.6,23.5 435.2,23.6 436.9,23.6 438.5,23.7 440.2,23.8 441.8,23.9 443.4,24.1 445.1,24.2 446.7,24.4 448.4,24.5 450.0,24.7 451.7,24.9 453.3,25.1 455.0,25.3 456.6,25.6 458.3,25.8 459.9,26.1 461.5,26.3 463.2,26.6 464.8,26.9 466.5,27.2 468.1,27.5 469.8,27.9 471.4,28.2 473.1,28.6 474.7,29.0 476.3,29.4 478.0,29.8 479.6,30.2 481.3,30.6 482.9,31.0 484.6,31.5 486.2,31.9 487.9,32.4 489.5,32.9 491.2,33.4 492.8,33.9 494.4,34.5 496.1,35.0 497.7,35.5 499.4,36.1 501.0,36.7 502.7,37.3 504.3,37.9 506.0,38.5 507.6,39.1 509.2,39.8 510.9,40.4 512.5,41.1 514.2,41.7 515.8,42.4 517.5,43.1 519.1,43.8 520.8,44.5 522.4,45.3 524.1,46.0 525.7,46.8 527.3,47.5 529.0,48.3 530.6,49.1 532.3,49.9 533.9,50.7 535.6,51.5 537.2,52.4 538.9,53.2 540.5,54.1 542.2,54.9 543.8,55.8 545.4,56.7 547.1,57.6 548.7,58.5 550.4,59.4 552.0,60.4 553.7,61.3 555.3,62.2 557.0,63.2 558.6,64.2 560.2,65.2 561.9,66.2 563.5,67.2 565.2,68.2 566.8,69.2 568.5,70.2 570.1,71.3 571.8,72.3 573.4,73.4 575.0,74.4 576.7,75.5 578.3,76.6 580.0,77.7 581.6,78.8 583.3,79.9 584.9,81.0 586.6,82.2 588.2,83.3 589.9,84.5 591.5,85.6 593.1,86.8 594.8,88.0 596.4,89.1 598.1,90.3 599.7,91.5 601.4,92.7 603.0,94.0 604.7,95.2 606.3,96.4 608.0,97.6 609.6,98.9 611.2,100.1 612.9,101.4 614.5,102.7 616.2,104.0 617.8,105.2 619.5,106.5 621.1,107.8 622.8,109.1 624.4,110.4 626.0,111.8 627.7,113.1 629.3,114.4 631.0,115.7 632.6,117.1 634.3,118.4 635.9,119.8 637.6,121.2 639.2,122.5 640.9,123.9 642.5,125.3 644.1,126.7 645.8,128.0 647.4,129.4 649.1,130.8 650.7,132.3 652.4,133.7 654.0,135.1 655.7,136.5 657.3,137.9 658.9,139.4 660.6,140.8 662.2,142.2 663.9,143.7 665.5,145.1 667.2,146.6 668.8,148.0 670.5,149.5 672.1,151.0 673.8,152.4 675.4,153.9 677.0,155.4 678.7,156.9 680.3,158.4 682.0,159.8 683.6,161.3 685.3,162.8 686.9,164.3 688.6,165.8 690.2,167.3 691.8,168.8 693.5,170.4 695.1,171.9 696.8,173.4 698.4,174.9 700.1,176.4 701.7,177.9 703.4,179.5 705.0,181.0 706.6,182.5 708.3,184.1 709.9,185.6 711.6,187.1 713.2,188.7 714.9,190.2 716.5,191.7 718.2,193.3 719.8,194.8 721.5,196.4 723.1,197.9 724.7,199.5 726.4,201.0 728.0,202.6 729.7,204.1 731.3,205.7 733.0,207.2 734.6,208.8 736.3,210.3 737.9,211.9 739.5,213.4 741.2,215.0 742.8,216.5 744.5,218.1 746.1,219.6 747.8,221.2 749.4,222.7 751.1,224.3 752.7,225.8 754.4,227.4 756.0,228.9"/>
<polyline stroke="#D95319" points="98.0,194.5 99.6,193.1 101.3,191.7 102.9,190.4 104.6,189.0 106.2,187.6 107.9,186.3 109.5,184.9 111.2,183.5 112.8,182.2 114.5,180.8 116.1,179.5 117.7,178.1 119.4,176.8 121.0,175.4 122.7,174.1 124.3,172.7 126.0,171.4 127.6,170.0 129.3,168.7 130.9,167.3 132.5,166.0 134.2,164.7 135.8,163.3 137.5,162.0 139.1,160.7 140.8,159.4 142.4,158.0 144.1,156.7 145.7,155.4 147.3,154.1 149.0,152.8 150.6,151.5 152.3,150.2 153.9,148.9 155.6,147.6 157.2,146.3 158.9,145.0 160.5,143.7 162.2,142.4 163.8,141.1 165.4,139.8 167.1,138.6 168.7,137.3 170.4,136.0 172.0,134.8 173.7,133.5 175.3,132.3 177.0,131.0 178.6,129.8 180.2,128.5 181.9,127.3 183.5,126.0 185.2,124.8 186.8,123.6 188.5,122.4 190.1,121.2 191.8,119.9 193.4,118.7 195.1,117.5 196.7,116.3 198.3,115.1 200.0,114.0 201.6,112.8 203.3,111.6 204.9,110.4 206.6,109.3 208.2,108.1 209.9,107.0 211.5,105.8 213.1,104.7 214.8,103.5 216.4,102.4 218.1,101.3 219.7,100.1 221.4,99.0 223.0,97.9 224.7,96.8 226.3,95.7 228.0,94.6 229.6,93.5 231.2,92.5 232.9,91.4 234.5,90.3 236.2,89.3 237.8,88.2 239.5,87.2 241.1,86.1 242.8,85.1 244.4,84.1 246.1,83.1 247.7,82.0 249.3,81.0 251.0,80.0 252.6,79.0 254.3,78.1 255.9,77.1 257.6,76.1 259.2,75.1 260.9,74.2 262.5,73.2 264.1,72.3 265.8,71.4 267.4,70.4 269.1,69.5 270.7,68.6 272.4,67.7 274.0,66.8 275.7,65.9 277.3,65.1 279.0,64.2 280.6,63.3 282.2,62.5 283.9,61.6 285.5,60.8 287.2,59.9 288.8,59.1 290.5,58.3 292.1,57.5 293.8,56.7 295.4,55.9 297.0,55.1 298.7,54.4 300.3,53.6 302.0,52.8 303.6,52.1 305.3,51.4 306.9,50.6 308.6,49.9 310.2,49.2 311.9,48.5 313.5,47.8 315.1,47.1 316.8,46.4 318.4,45.8 320.1,45.1 321.7,44.5 323.4,43.8 325.0,43.2 326.7,42.6 328.3,42.0 329.9,41.4 331.6,40.8 333.2,40.2 334.9,39.6 336.5,39.0 338.2,38.5 339.8,37.9 341.5,37.4 343.1,36.9 344.8,36.4 346.4,35.9 348.0,35.4 349.7,34.9 351.3,34.4 353.0,33.9 354.6,33.5 356.3,33.0 357.9,32.6 359.6,32.2 361.2,31.7 362.8,31.3 364.5,30.9 366.1,30.5 367.8,30.2 369.4,29.8 371.1,29.4 372.7,29.1 374.4,28.8 376.0,28.4 377.6,28.1 379.3,27.8 380.9,27.5 382.6,27.2 384.2,26.9 385.9,26.7 387.5,26.4 389.2,26.2 390.8,25.9 392.5,25.7 394.1,25.5 395.7,25.3 397.4,25.1 399.0,24.9 400.7,24.7 402.3,24.6 404.0,24.4 405.6,24.3 407.3,24.2 408.9,24.0 410.6,23.9 412.2,23.8 413.8,23.7 415.5,23.7 417.1,23.6 418.8,23.5 420.4,23.5 422.1,23.4 423.7,23.4 425.4,23.4 427.0,23.4 428.6,23.4 430.3,23.4 431.9,23.4 433.6,23.5 435.2,23.5 436.9,23.6 438.5,23.7 440.2,23.7 441.8,23.8 443.4,23.9 445.1,24.0 446.7,24.2 448.4,24.3 450.0,24.4 451.7,24.6 453.3,24.7 455.0,24.9 456.6,25.1 458.3,25.3 459.9,25.5 461.5,25.7 463.2,25.9 464.8,26.2 466.5,26.4 468.1,26.7 469.8,26.9 471.4,27.2 473.1,27.5 474.7,27.8 476.3,28.1 478.0,28.4 479.6,28.8 481.3,29.1 482.9,29.4 484.6,29.8 486.2,30.2 487.9,30.5 489.5,30.9 491.2,31.3 492.8,31.7 494.4,32.2 496.1,32.6 497.7,33.0 499.4,33.5 501.0,33.9 502.7,34.4 504.3,34.9 506.0,35.4 507.6,35.9 509.2,36.4 510.9,36.9 512.5,37.4 514.2,37.9 515.8,38.5 517.5,39.0 519.1,39.6 520.8,40.2 522.4,40.8 524.1,41.4 525.7,42.0 527.3,42.6 529.0,43.2 530.6,43.8 532.3,44.5 533.9,45.1 535.6,45.8 537.2,46.4 538.9,47.1 540.5,47.8 542.2,48.5 543.8,49.2 545.4,49.9 547.1,50.6 548.7,51.4 550.4,52.1 552.0,52.8 553.7,53.6 555.3,54.4 557.0,55.1 558.6,55.9 560.2,56.7 561.9,57.5 563.5,58.3 565.2,59.1 566.8,59.9 568.5,60.8 570.1,61.6 571.8,62.5 573.4,63.3 575.0,64.2 576.7,65.1 578.3,65.9 580.0,66.8 581.6,67.7 583.3,68.6 584.9,69.5 586.6,70.4 588.2,71.4 589.9,72.3 591.5,73.2 593.1,74.2 594.8,75.1 596.4,76.1 598.1,77.1 599.7,78.1 601.4,79.0 603.0,80.0 604.7,81.0 606.3,82.0 608.0,83.1 609.6,84.1 611.2,85.1 612.9,86.1 614.5,87.2 616.2,88.2 617.8,89.3 619.5,90.3 621.1,91.4 622.8,92.5 624.4,93.5 626.0,94.6 627.7,95.7 629.3,96.8 631.0,97.9 632.6,99.0 634.3,100.1 635.9,101.3 637.6,102.4 639.2,103.5 640.9,104.7 642.5,105.8 644.1,107.0 645.8,108.1 647.4,109.3 649.1,110.4 650.7,111.6 652.4,112.8 654.0,114.0 655.7,115.1 657.3,116.3 658.9,117.5 660.6,118.7 662.2,119.9 663.9,121.2 665.5,122.4 667.2,123.6 668.8,124.8 670.5,126.0 672.1,127.3 673.8,128.5 675.4,129.8 677.0,131.0 678.7,132.3 680.3,133.5 682.0,134.8 683.6,136.0 685.3,137.3 686.9,138.6 688.6,139.8 690.2,141.1 691.8,142.4 693.5,143.7 695.1,145.0 696.8,146.3 698.4,147.6 700.1,148.9 701.7,150.2 703.4,151.5 705.0,152.8 706.6,154.1 708.3,155.4 709.9,156.7 711.6,158.0 713.2,159.4 714.9,160.7 716.5,162.0 718.2,163.3 719.8,164.7 721.5,166.0 723.1,167.3 724.7,168.7 726.4,170.0 728.0,171.4 729.7,172.7 731.3,174.1 733.0,175.4 734.6,176.8 736.3,178.1 737.9,179.5 739.5,180.8 741.2,182.2 742.8,183.5 744.5,184.9 746.1,186.3 747.8,187.6 749.4,189.0 751.1,190.4 752.7,191.7 754.4,193.1 756.0,194.5"/>
<polyline stroke="#EDB120" points="98.0,167.3 99.6,166.1 101.3,164.9 102.9,163.7 104.6,162.5 106.2,161.3 107.9,160.1 109.5,159.0 111.2,157.8 112.8,156.6 114.5,155.4 116.1,154.2 117.7,153.0 119.4,151.9 121.0,150.7 122.7,149.5 124.3,148.3 126.0,147.2 127.6,146.0 129.3,144.8 130.9,143.7 132.5,142.5 134.2,141.4 135.8,140.2 137.5,139.1 139.1,137.9 140.8,136.8 142.4,135.6 144.1,134.5 145.7,133.4 147.3,132.3 149.0,131.1 150.6,130.0 152.3,128.9 153.9,127.8 155.6,126.7 157.2,125.6 158.9,124.4 160.5,123.3 162.2,122.2 163.8,121.2 165.4,120.1 167.1,119.0 168.7,117.9 170.4,116.8 172.0,115.7 173.7,114.7 175.3,113.6 177.0,112.5 178.6,111.5 180.2,110.4 181.9,109.4 183.5,108.3 185.2,107.3 186.8,106.3 188.5,105.2 190.1,104.2 191.8,103.2 193.4,102.2 195.1,101.2 196.7,100.1 198.3,99.1 200.0,98.1 201.6,97.1 203.3,96.2 204.9,95.2 206.6,94.2 208.2,93.2 209.9,92.3 211.5,91.3 213.1,90.3 214.8,89.4 216.4,88.4 218.1,87.5 219.7,86.5 221.4,85.6 223.0,84.7 224.7,83.8 226.3,82.9 228.0,81.9 229.6,81.0 231.2,80.1 232.9,79.2 234.5,78.4 236.2,77.5 237.8,76.6 239.5,75.7 241.1,74.9 242.8,74.0 244.4,73.2 246.1,72.3 247.7,71.5 249.3,70.6 251.0,69.8 252.6,69.0 254.3,68.2 255.9,67.4 257.6,66.6 259.2,65.8 260.9,65.0 262.5,64.2 264.1,63.4 265.8,62.6 267.4,61.9 269.1,61.1 270.7,60.4 272.4,59.6 274.0,58.9 275.7,58.1 277.3,57.4 279.0,56.7 280.6,56.0 282.2,55.3 283.9,54.6 285.5,53.9 287.2,53.2 288.8,52.5 290.5,51.9 292.1,51.2 293.8,50.6 295.4,49.9 297.0,49.3 298.7,48.6 300.3,48.0 302.0,47.4 303.6,46.8 305.3,46.2 306.9,45.6 308.6,45.0 310.2,44.4 311.9,43.8 313.5,43.3 315.1,42.7 316.8,42.1 318.4,41.6 320.1,41.1 321.7,40.5 323.4,40.0 325.0,39.5 326.7,39.0 328.3,38.5 329.9,38.0 331.6,37.5 333.2,37.0 334.9,36.6 336.5,36.1 338.2,35.7 339.8,35.2 341.5,34.8 343.1,34.3 344.8,33.9 346.4,33.5 348.0,33.1 349.7,32.7 351.3,32.3 353.0,31.9 354.6,31.6 356.3,31.2 357.9,30.9 359.6,30.5 361.2,30.2 362.8,29.8 364.5,29.5 366.1,29.2 367.8,28.9 369.4,28.6 371.1,28.3 372.7,28.0 374.4,27.7 376.0,27.5 377.6,27.2 379.3,27.0 380.9,26.7 382.6,26.5 384.2,26.3 385.9,26.1 387.5,25.8 389.2,25.6 390.8,25.5 392.5,25.3 394.1,25.1 395.7,24.9 397.4,24.8 399.0,24.6 400.7,24.5 402.3,24.4 404.0,24.2 405.6,24.1 407.3,24.0 408.9,23.9 410.6,23.8 412.2,23.7 413.8,23.7 415.5,23.6 417.1,23.6 418.8,23.5 420.4,23.5 422.1,23.4 423.7,23.4 425.4,23.4 427.0,23.4 428.6,23.4 430.3,23.4 431.9,23.4 433.6,23.5 435.2,23.5 436.9,23.6 438.5,23.6 440.2,23.7 441.8,23.7 443.4,23.8 445.1,23.9 446.7,24.0 448.4,24.1 450.0,24.2 451.7,24.4 453.3,24.5 455.0,24.6 456.6,24.8 458.3,24.9 459.9,25.1 461.5,25.3 463.2,25.5 464.8,25.6 466.5,25.8 468.1,26.1 469.8,26.3 471.4,26.5 473.1,26.7 474.7,27.0 476.3,27.2 478.0,27.5 479.6,27.7 481.3,28.0 482.9,28.3 484.6,28.6 486.2,28.9 487.9,29.2 489.5,29.5 491.2,29.8 492.8,30.2 494.4,30.5 496.1,30.9 497.7,31.2 499.4,31.6 501.0,31.9 502.7,32.3 504.3,32.7 506.0,33.1 507.6,33.5 509.2,33.9 510.9,34.3 512.5,34.8 514.2,35.2 515.8,35.7 517.5,36.1 519.1,36.6 520.8,37.0 522.4,37.5 524.1,38.0 525.7,38.5 527.3,39.0 529.0,39.5 530.6,40.0 532.3,40.5 533.9,41.1 535.6,41.6 537.2,42.1 538.9,42.7 540.5,43.3 542.2,43.8 543.8,44.4 545.4,45.0 547.1,45.6 548.7,46.2 550.4,46.8 552.0,47.4 553.7,48.0 555.3,48.6 557.0,49.3 558.6,49.9 560.2,50.6 561.9,51.2 563.5,51.9 565.2,52.5 566.8,53.2 568.5,53.9 570.1,54.6 571.8,55.3 573.4,56.0 575.0,56.7 576.7,57.4 578.3,58.1 580.0,58.9 581.6,59.6 583.3,60.4 584.9,61.1 586.6,61.9 588.2,62.6 589.9,63.4 591.5,64.2 593.1,65.0 594.8,65.8 596.4,66.6 598.1,67.4 599.7,68.2 601.4,69.0 603.0,69.8 604.7,70.6 606.3,71.5 608.0,72.3 609.6,73.2 611.2,74.0 612.9,74.9 614.5,75.7 616.2,76.6 617.8,77.5 619.5,78.4 621.1,79.2 622.8,80.1 624.4,81.0 626.0,81.9 627.7,82.9 629.3,83.8 631.0,84.7 632.6,85.6 634.3,86.5 635.9,87.5 637.6,88.4 639.2,89.4 640.9,90.3 642.5,91.3 644.1,92.3 645.8,93.2 647.4,94.2 649.1,95.2 650.7,96.2 652.4,97.1 654.0,98.1 655.7,99.1 657.3,100.1 658.9,101.2 660.6,102.2 662.2,103.2 663.9,104.2 665.5,105.2 667.2,106.3 668.8,107.3 670.5,108.3 672.1,109.4 673.8,110.4 675.4,111.5 677.0,112.5 678.7,113.6 680.3,114.7 682.0,115.7 683.6,116.8 685.3,117.9 686.9,119.0 688.6,120.1 690.2,121.2 691.8,122.2 693.5,123.3 695.1,124.4 696.8,125.6 698.4,126.7 700.1,127.8 701.7,128.9 703.4,130.0 705.0,131.1 706.6,132.3 708.3,133.4 709.9,134.5 711.6,135.6 713.2,136.8 714.9,137.9 716.5,139.1 718.2,140.2 719.8,141.4 721.5,142.5 723.1,143.7 724.7,144.8 726.4,146.0 728.0,147.2 729.7,148.3 731.3,149.5 733.0,150.7 734.6,151.9 736.3,153.0 737.9,154.2 739.5,155.4 741.2,156.6 742.8,157.8 744.5,159.0 746.1,160.1 747.8,161.3 749.4,162.5 751.1,163.7 752.7,164.9 754.4,166.1 756.0,167.3"/>
</g>
</g>
<g class="axes">
<path d="M1096 23.4V515.6M1259 23.4V515.6M1422 23.4V515.6" stroke="#262626" stroke-opacity="0.15" stroke-width="2.0" fill="none"/>
<path d="M933 392.55H1585M933 269.5H1585M933 146.45H1585" stroke="#262626" stroke-opacity="0.15" stroke-width="2.0" fill="none"/>
<path d="M1096 515.6v-7.4M1096 23.4v7.4M1259 515.6v-7.4M1259 23.4v7.4M1422 515.6v-7.4M1422 23.4v7.4M933 392.55h7.4M1585 392.55h-7.4M933 269.5h7.4M1585 269.5h-7.4M933 146.45h7.4M1585 146.45h-7.4" stroke="#262626" stroke-width="2.0" fill="none"/>
<rect x="933" y="23.4" width="652" height="492.2" stroke="#262626" stroke-width="2.0" fill="none"/>
<g class="tl" text-anchor="middle">
<text x="931.7" y="561">-10</text>
<text x="1094.7" y="561">-5</text>
<text x="1258.2" y="561">0</text>
<text x="1421.2" y="561">5</text>
<text x="1584.2" y="561">10</text>
</g>
<g class="tl" text-anchor="end">
<text x="917.3" y="527">-1</text>
<text x="917.3" y="404">-0.5</text>
<text x="918.3" y="281">0</text>
<text x="918.3" y="158">0.5</text>
<text x="918.3" y="35">1</text>
</g>
<text class="tl" text-anchor="middle" x="1257" y="605">Variable</text>
<text class="tl" text-anchor="middle" transform="translate(848.1 270.3) rotate(-90)">f(x,SC)</text>
<g fill="none" stroke-width="7.1" stroke-linejoin="round">
<polyline stroke="#0072BD" points="933.0,515.6 934.6,515.6 936.3,515.6 937.9,515.6 939.5,515.6 941.1,515.6 942.8,515.6 944.4,515.6 946.0,515.6 947.7,515.6 949.3,515.6 950.9,515.6 952.6,515.6 954.2,515.6 955.8,515.6 957.5,515.6 959.1,515.6 960.7,515.6 962.3,515.6 964.0,515.6 965.6,515.6 967.2,515.6 968.9,515.6 970.5,515.6 972.1,515.6 973.8,515.6 975.4,515.6 977.0,515.6 978.6,515.6 980.3,515.6 981.9,515.6 983.5,515.6 985.2,515.6 986.8,515.6 988.4,515.6 990.0,515.6 991.7,515.6 993.3,515.6 994.9,515.6 996.6,515.6 998.2,515.6 999.8,515.6 1001.5,515.6 1003.1,515.6 1004.7,515.5 1006.4,515.5 1008.0,515.5 1009.6,515.5 1011.2,515.5 1012.9,515.5 1014.5,515.5 1016.1,515.5 1017.8,515.5 1019.4,515.5 1021.0,515.5 1022.6,515.5 1024.3,515.5 1025.9,515.5 1027.5,515.5 1029.2,515.5 1030.8,515.5 1032.4,515.5 1034.1,515.5 1035.7,515.4 1037.3,515.4 1039.0,515.4 1040.6,515.4 1042.2,515.4 1043.8,515.4 1045.5,515.4 1047.1,515.4 1048.7,515.4 1050.4,515.3 1052.0,515.3 1053.6,515.3 1055.2,515.3 1056.9,515.3 1058.5,515.2 1060.1,515.2 1061.8,515.2 1063.4,515.2 1065.0,515.2 1066.7,515.1 1068.3,515.1 1069.9,515.1 1071.5,515.0 1073.2,515.0 1074.8,515.0 1076.4,514.9 1078.1,514.9 1079.7,514.8 1081.3,514.8 1083.0,514.7 1084.6,514.7 1086.2,514.6 1087.8,514.6 1089.5,514.5 1091.1,514.5 1092.7,514.4 1094.4,514.3 1096.0,514.2 1097.6,514.1 1099.3,514.1 1100.9,514.0 1102.5,513.9 1104.2,513.8 1105.8,513.7 1107.4,513.5 1109.0,513.4 1110.7,513.3 1112.3,513.1 1113.9,513.0 1115.6,512.8 1117.2,512.7 1118.8,512.5 1120.5,512.3 1122.1,512.1 1123.7,511.9 1125.3,511.7 1127.0,511.4 1128.6,511.2 1130.2,510.9 1131.9,510.6 1133.5,510.3 1135.1,510.0 1136.8,509.7 1138.4,509.3 1140.0,509.0 1141.6,508.6 1143.3,508.2 1144.9,507.7 1146.5,507.2 1148.2,506.7 1149.8,506.2 1151.4,505.7 1153.0,505.1 1154.7,504.5 1156.3,503.8 1157.9,503.1 1159.6,502.4 1161.2,501.6 1162.8,500.8 1164.5,499.9 1166.1,499.0 1167.7,498.0 1169.3,497.0 1171.0,495.9 1172.6,494.7 1174.2,493.5 1175.9,492.3 1177.5,490.9 1179.1,489.5 1180.8,488.0 1182.4,486.4 1184.0,484.8 1185.7,483.0 1187.3,481.2 1188.9,479.3 1190.5,477.2 1192.2,475.1 1193.8,472.9 1195.4,470.5 1197.1,468.0 1198.7,465.5 1200.3,462.7 1202.0,459.9 1203.6,456.9 1205.2,453.8 1206.8,450.6 1208.5,447.2 1210.1,443.6 1211.7,439.9 1213.4,436.1 1215.0,432.1 1216.6,427.9 1218.2,423.6 1219.9,419.2 1221.5,414.5 1223.1,409.7 1224.8,404.7 1226.4,399.6 1228.0,394.3 1229.7,388.8 1231.3,383.2 1232.9,377.5 1234.5,371.5 1236.2,365.5 1237.8,359.3 1239.4,352.9 1241.1,346.5 1242.7,339.9 1244.3,333.2 1246.0,326.4 1247.6,319.5 1249.2,312.5 1250.8,305.4 1252.5,298.3 1254.1,291.2 1255.7,284.0 1257.4,276.7 1259.0,269.5 1260.6,262.3 1262.3,255.0 1263.9,247.8 1265.5,240.7 1267.2,233.6 1268.8,226.5 1270.4,219.5 1272.0,212.6 1273.7,205.8 1275.3,199.1 1276.9,192.5 1278.6,186.1 1280.2,179.7 1281.8,173.5 1283.5,167.5 1285.1,161.5 1286.7,155.8 1288.3,150.2 1290.0,144.7 1291.6,139.4 1293.2,134.3 1294.9,129.3 1296.5,124.5 1298.1,119.8 1299.8,115.4 1301.4,111.1 1303.0,106.9 1304.6,102.9 1306.3,99.1 1307.9,95.4 1309.5,91.8 1311.2,88.4 1312.8,85.2 1314.4,82.1 1316.0,79.1 1317.7,76.3 1319.3,73.5 1320.9,71.0 1322.6,68.5 1324.2,66.1 1325.8,63.9 1327.5,61.8 1329.1,59.7 1330.7,57.8 1332.3,56.0 1334.0,54.2 1335.6,52.6 1337.2,51.0 1338.9,49.5 1340.5,48.1 1342.1,46.7 1343.8,45.5 1345.4,44.3 1347.0,43.1 1348.7,42.0 1350.3,41.0 1351.9,40.0 1353.5,39.1 1355.2,38.2 1356.8,37.4 1358.4,36.6 1360.1,35.9 1361.7,35.2 1363.3,34.5 1365.0,33.9 1366.6,33.3 1368.2,32.8 1369.8,32.3 1371.5,31.8 1373.1,31.3 1374.7,30.8 1376.4,30.4 1378.0,30.0 1379.6,29.7 1381.2,29.3 1382.9,29.0 1384.5,28.7 1386.1,28.4 1387.8,28.1 1389.4,27.8 1391.0,27.6 1392.7,27.3 1394.3,27.1 1395.9,26.9 1397.5,26.7 1399.2,26.5 1400.8,26.3 1402.4,26.2 1404.1,26.0 1405.7,25.9 1407.3,25.7 1409.0,25.6 1410.6,25.5 1412.2,25.3 1413.8,25.2 1415.5,25.1 1417.1,25.0 1418.7,24.9 1420.4,24.9 1422.0,24.8 1423.6,24.7 1425.3,24.6 1426.9,24.5 1428.5,24.5 1430.2,24.4 1431.8,24.4 1433.4,24.3 1435.0,24.3 1436.7,24.2 1438.3,24.2 1439.9,24.1 1441.6,24.1 1443.2,24.0 1444.8,24.0 1446.4,24.0 1448.1,23.9 1449.7,23.9 1451.3,23.9 1453.0,23.8 1454.6,23.8 1456.2,23.8 1457.9,23.8 1459.5,23.8 1461.1,23.7 1462.8,23.7 1464.4,23.7 1466.0,23.7 1467.6,23.7 1469.3,23.6 1470.9,23.6 1472.5,23.6 1474.2,23.6 1475.8,23.6 1477.4,23.6 1479.1,23.6 1480.7,23.6 1482.3,23.6 1483.9,23.5 1485.6,23.5 1487.2,23.5 1488.8,23.5 1490.5,23.5 1492.1,23.5 1493.7,23.5 1495.3,23.5 1497.0,23.5 1498.6,23.5 1500.2,23.5 1501.9,23.5 1503.5,23.5 1505.1,23.5 1506.8,23.5 1508.4,23.5 1510.0,23.5 1511.7,23.5 1513.3,23.5 1514.9,23.4 1516.5,23.4 1518.2,23.4 1519.8,23.4 1521.4,23.4 1523.1,23.4 1524.7,23.4 1526.3,23.4 1527.9,23.4 1529.6,23.4 1531.2,23.4 1532.8,23.4 1534.5,23.4 1536.1,23.4 1537.7,23.4 1539.4,23.4 1541.0,23.4 1542.6,23.4 1544.2,23.4 1545.9,23.4 1547.5,23.4 1549.1,23.4 1550.8,23.4 1552.4,23.4 1554.0,23.4 1555.7,23.4 1557.3,23.4 1558.9,23.4 1560.6,23.4 1562.2,23.4 1563.8,23.4 1565.4,23.4 1567.1,23.4 1568.7,23.4 1570.3,23.4 1572.0,23.4 1573.6,23.4 1575.2,23.4 1576.8,23.4 1578.5,23.4 1580.1,23.4 1581.7,23.4 1583.4,23.4 1585.0,23.4"/>
<polyline stroke="#D95319" points="933.0,514.2 934.6,514.2 936.3,514.1 937.9,514.1 939.5,514.1 941.1,514.0 942.8,514.0 944.4,513.9 946.0,513.9 947.7,513.8 949.3,513.8 950.9,513.7 952.6,513.7 954.2,513.6 955.8,513.5 957.5,513.5 959.1,513.4 960.7,513.3 962.3,513.3 964.0,513.2 965.6,513.1 967.2,513.1 968.9,513.0 970.5,512.9 972.1,512.8 973.8,512.8 975.4,512.7 977.0,512.6 978.6,512.5 980.3,512.4 981.9,512.3 983.5,512.2 985.2,512.1 986.8,512.0 988.4,511.9 990.0,511.8 991.7,511.7 993.3,511.6 994.9,511.4 996.6,511.3 998.2,511.2 999.8,511.1 1001.5,510.9 1003.1,510.8 1004.7,510.6 1006.4,510.5 1008.0,510.3 1009.6,510.2 1011.2,510.0 1012.9,509.9 1014.5,509.7 1016.1,509.5 1017.8,509.3 1019.4,509.2 1021.0,509.0 1022.6,508.8 1024.3,508.6 1025.9,508.4 1027.5,508.2 1029.2,507.9 1030.8,507.7 1032.4,507.5 1034.1,507.2 1035.7,507.0 1037.3,506.7 1039.0,506.5 1040.6,506.2 1042.2,505.9 1043.8,505.7 1045.5,505.4 1047.1,505.1 1048.7,504.8 1050.4,504.5 1052.0,504.1 1053.6,503.8 1055.2,503.4 1056.9,503.1 1058.5,502.7 1060.1,502.4 1061.8,502.0 1063.4,501.6 1065.0,501.2 1066.7,500.8 1068.3,500.3 1069.9,499.9 1071.5,499.4 1073.2,499.0 1074.8,498.5 1076.4,498.0 1078.1,497.5 1079.7,497.0 1081.3,496.4 1083.0,495.9 1084.6,495.3 1086.2,494.7 1087.8,494.1 1089.5,493.5 1091.1,492.9 1092.7,492.3 1094.4,491.6 1096.0,490.9 1097.6,490.2 1099.3,489.5 1100.9,488.8 1102.5,488.0 1104.2,487.2 1105.8,486.4 1107.4,485.6 1109.0,484.8 1110.7,483.9 1112.3,483.0 1113.9,482.1 1115.6,481.2 1117.2,480.2 1118.8,479.3 1120.5,478.3 1122.1,477.2 1123.7,476.2 1125.3,475.1 1127.0,474.0 1128.6,472.9 1130.2,471.7 1131.9,470.5 1133.5,469.3 1135.1,468.0 1136.8,466.8 1138.4,465.5 1140.0,464.1 1141.6,462.7 1143.3,461.3 1144.9,459.9 1146.5,458.4 1148.2,456.9 1149.8,455.4 1151.4,453.8 1153.0,452.2 1154.7,450.6 1156.3,448.9 1157.9,447.2 1159.6,445.4 1161.2,443.6 1162.8,441.8 1164.5,439.9 1166.1,438.0 1167.7,436.1 1169.3,434.1 1171.0,432.1 1172.6,430.0 1174.2,427.9 1175.9,425.8 1177.5,423.6 1179.1,421.4 1180.8,419.2 1182.4,416.8 1184.0,414.5 1185.7,412.1 1187.3,409.7 1188.9,407.2 1190.5,404.7 1192.2,402.2 1193.8,399.6 1195.4,397.0 1197.1,394.3 1198.7,391.6 1200.3,388.8 1202.0,386.1 1203.6,383.2 1205.2,380.4 1206.8,377.5 1208.5,374.5 1210.1,371.5 1211.7,368.5 1213.4,365.5 1215.0,362.4 1216.6,359.3 1218.2,356.1 1219.9,352.9 1221.5,349.7 1223.1,346.5 1224.8,343.2 1226.4,339.9 1228.0,336.5 1229.7,333.2 1231.3,329.8 1232.9,326.4 1234.5,322.9 1236.2,319.5 1237.8,316.0 1239.4,312.5 1241.1,309.0 1242.7,305.4 1244.3,301.9 1246.0,298.3 1247.6,294.7 1249.2,291.2 1250.8,287.6 1252.5,284.0 1254.1,280.4 1255.7,276.7 1257.4,273.1 1259.0,269.5 1260.6,265.9 1262.3,262.3 1263.9,258.6 1265.5,255.0 1267.2,251.4 1268.8,247.8 1270.4,244.3 1272.0,240.7 1273.7,237.1 1275.3,233.6 1276.9,230.0 1278.6,226.5 1280.2,223.0 1281.8,219.5 1283.5,216.1 1285.1,212.6 1286.7,209.2 1288.3,205.8 1290.0,202.5 1291.6,199.1 1293.2,195.8 1294.9,192.5 1296.5,189.3 1298.1,186.1 1299.8,182.9 1301.4,179.7 1303.0,176.6 1304.6,173.5 1306.3,170.5 1307.9,167.5 1309.5,164.5 1311.2,161.5 1312.8,158.6 1314.4,155.8 1316.0,152.9 1317.7,150.2 1319.3,147.4 1320.9,144.7 1322.6,142.0 1324.2,139.4 1325.8,136.8 1327.5,134.3 1329.1,131.8 1330.7,129.3 1332.3,126.9 1334.0,124.5 1335.6,122.2 1337.2,119.8 1338.9,117.6 1340.5,115.4 1342.1,113.2 1343.8,111.1 1345.4,109.0 1347.0,106.9 1348.7,104.9 1350.3,102.9 1351.9,101.0 1353.5,99.1 1355.2,97.2 1356.8,95.4 1358.4,93.6 1360.1,91.8 1361.7,90.1 1363.3,88.4 1365.0,86.8 1366.6,85.2 1368.2,83.6 1369.8,82.1 1371.5,80.6 1373.1,79.1 1374.7,77.7 1376.4,76.3 1378.0,74.9 1379.6,73.5 1381.2,72.2 1382.9,71.0 1384.5,69.7 1386.1,68.5 1387.8,67.3 1389.4,66.1 1391.0,65.0 1392.7,63.9 1394.3,62.8 1395.9,61.8 1397.5,60.7 1399.2,59.7 1400.8,58.8 1402.4,57.8 1404.1,56.9 1405.7,56.0 1407.3,55.1 1409.0,54.2 1410.6,53.4 1412.2,52.6 1413.8,51.8 1415.5,51.0 1417.1,50.2 1418.7,49.5 1420.4,48.8 1422.0,48.1 1423.6,47.4 1425.3,46.7 1426.9,46.1 1428.5,45.5 1430.2,44.9 1431.8,44.3 1433.4,43.7 1435.0,43.1 1436.7,42.6 1438.3,42.0 1439.9,41.5 1441.6,41.0 1443.2,40.5 1444.8,40.0 1446.4,39.6 1448.1,39.1 1449.7,38.7 1451.3,38.2 1453.0,37.8 1454.6,37.4 1456.2,37.0 1457.9,36.6 1459.5,36.3 1461.1,35.9 1462.8,35.6 1464.4,35.2 1466.0,34.9 1467.6,34.5 1469.3,34.2 1470.9,33.9 1472.5,33.6 1474.2,33.3 1475.8,33.1 1477.4,32.8 1479.1,32.5 1480.7,32.3 1482.3,32.0 1483.9,31.8 1485.6,31.5 1487.2,31.3 1488.8,31.1 1490.5,30.8 1492.1,30.6 1493.7,30.4 1495.3,30.2 1497.0,30.0 1498.6,29.8 1500.2,29.7 1501.9,29.5 1503.5,29.3 1505.1,29.1 1506.8,29.0 1508.4,28.8 1510.0,28.7 1511.7,28.5 1513.3,28.4 1514.9,28.2 1516.5,28.1 1518.2,27.9 1519.8,27.8 1521.4,27.7 1523.1,27.6 1524.7,27.4 1526.3,27.3 1527.9,27.2 1529.6,27.1 1531.2,27.0 1532.8,26.9 1534.5,26.8 1536.1,26.7 1537.7,26.6 1539.4,26.5 1541.0,26.4 1542.6,26.3 1544.2,26.2 1545.9,26.2 1547.5,26.1 1549.1,26.0 1550.8,25.9 1552.4,25.9 1554.0,25.8 1555.7,25.7 1557.3,25.7 1558.9,25.6 1560.6,25.5 1562.2,25.5 1563.8,25.4 1565.4,25.3 1567.1,25.3 1568.7,25.2 1570.3,25.2 1572.0,25.1 1573.6,25.1 1575.2,25.0 1576.8,25.0 1578.5,24.9 1580.1,24.9 1581.7,24.9 1583.4,24.8 1585.0,24.8"/>
<polyline stroke="#EDB120" points="933.0,506.0 934.6,505.9 936.3,505.7 937.9,505.5 939.5,505.3 941.1,505.1 942.8,504.9 944.4,504.7 946.0,504.5 947.7,504.2 949.3,504.0 950.9,503.8 952.6,503.6 954.2,503.3 955.8,503.1 957.5,502.9 959.1,502.6 960.7,502.4 962.3,502.1 964.0,501.8 965.6,501.6 967.2,501.3 968.9,501.0 970.5,500.8 972.1,500.5 973.8,500.2 975.4,499.9 977.0,499.6 978.6,499.3 980.3,499.0 981.9,498.6 983.5,498.3 985.2,498.0 986.8,497.7 988.4,497.3 990.0,497.0 991.7,496.6 993.3,496.2 994.9,495.9 996.6,495.5 998.2,495.1 999.8,494.7 1001.5,494.3 1003.1,493.9 1004.7,493.5 1006.4,493.1 1008.0,492.7 1009.6,492.3 1011.2,491.8 1012.9,491.4 1014.5,490.9 1016.1,490.4 1017.8,490.0 1019.4,489.5 1021.0,489.0 1022.6,488.5 1024.3,488.0 1025.9,487.5 1027.5,487.0 1029.2,486.4 1030.8,485.9 1032.4,485.3 1034.1,484.8 1035.7,484.2 1037.3,483.6 1039.0,483.0 1040.6,482.4 1042.2,481.8 1043.8,481.2 1045.5,480.6 1047.1,479.9 1048.7,479.3 1050.4,478.6 1052.0,477.9 1053.6,477.2 1055.2,476.5 1056.9,475.8 1058.5,475.1 1060.1,474.4 1061.8,473.6 1063.4,472.9 1065.0,472.1 1066.7,471.3 1068.3,470.5 1069.9,469.7 1071.5,468.9 1073.2,468.0 1074.8,467.2 1076.4,466.3 1078.1,465.5 1079.7,464.6 1081.3,463.7 1083.0,462.7 1084.6,461.8 1086.2,460.9 1087.8,459.9 1089.5,458.9 1091.1,457.9 1092.7,456.9 1094.4,455.9 1096.0,454.9 1097.6,453.8 1099.3,452.8 1100.9,451.7 1102.5,450.6 1104.2,449.5 1105.8,448.3 1107.4,447.2 1109.0,446.0 1110.7,444.8 1112.3,443.6 1113.9,442.4 1115.6,441.2 1117.2,439.9 1118.8,438.7 1120.5,437.4 1122.1,436.1 1123.7,434.8 1125.3,433.5 1127.0,432.1 1128.6,430.7 1130.2,429.4 1131.9,427.9 1133.5,426.5 1135.1,425.1 1136.8,423.6 1138.4,422.2 1140.0,420.7 1141.6,419.2 1143.3,417.6 1144.9,416.1 1146.5,414.5 1148.2,412.9 1149.8,411.3 1151.4,409.7 1153.0,408.1 1154.7,406.4 1156.3,404.7 1157.9,403.0 1159.6,401.3 1161.2,399.6 1162.8,397.8 1164.5,396.1 1166.1,394.3 1167.7,392.5 1169.3,390.7 1171.0,388.8 1172.6,387.0 1174.2,385.1 1175.9,383.2 1177.5,381.3 1179.1,379.4 1180.8,377.5 1182.4,375.5 1184.0,373.5 1185.7,371.5 1187.3,369.5 1188.9,367.5 1190.5,365.5 1192.2,363.4 1193.8,361.3 1195.4,359.3 1197.1,357.2 1198.7,355.1 1200.3,352.9 1202.0,350.8 1203.6,348.6 1205.2,346.5 1206.8,344.3 1208.5,342.1 1210.1,339.9 1211.7,337.6 1213.4,335.4 1215.0,333.2 1216.6,330.9 1218.2,328.6 1219.9,326.4 1221.5,324.1 1223.1,321.8 1224.8,319.5 1226.4,317.1 1228.0,314.8 1229.7,312.5 1231.3,310.1 1232.9,307.8 1234.5,305.4 1236.2,303.1 1237.8,300.7 1239.4,298.3 1241.1,295.9 1242.7,293.6 1244.3,291.2 1246.0,288.8 1247.6,286.4 1249.2,284.0 1250.8,281.6 1252.5,279.1 1254.1,276.7 1255.7,274.3 1257.4,271.9 1259.0,269.5 1260.6,267.1 1262.3,264.7 1263.9,262.3 1265.5,259.9 1267.2,257.4 1268.8,255.0 1270.4,252.6 1272.0,250.2 1273.7,247.8 1275.3,245.4 1276.9,243.1 1278.6,240.7 1280.2,238.3 1281.8,235.9 1283.5,233.6 1285.1,231.2 1286.7,228.9 1288.3,226.5 1290.0,224.2 1291.6,221.9 1293.2,219.5 1294.9,217.2 1296.5,214.9 1298.1,212.6 1299.8,210.4 1301.4,208.1 1303.0,205.8 1304.6,203.6 1306.3,201.4 1307.9,199.1 1309.5,196.9 1311.2,194.7 1312.8,192.5 1314.4,190.4 1316.0,188.2 1317.7,186.1 1319.3,183.9 1320.9,181.8 1322.6,179.7 1324.2,177.7 1325.8,175.6 1327.5,173.5 1329.1,171.5 1330.7,169.5 1332.3,167.5 1334.0,165.5 1335.6,163.5 1337.2,161.5 1338.9,159.6 1340.5,157.7 1342.1,155.8 1343.8,153.9 1345.4,152.0 1347.0,150.2 1348.7,148.3 1350.3,146.5 1351.9,144.7 1353.5,142.9 1355.2,141.2 1356.8,139.4 1358.4,137.7 1360.1,136.0 1361.7,134.3 1363.3,132.6 1365.0,130.9 1366.6,129.3 1368.2,127.7 1369.8,126.1 1371.5,124.5 1373.1,122.9 1374.7,121.4 1376.4,119.8 1378.0,118.3 1379.6,116.8 1381.2,115.4 1382.9,113.9 1384.5,112.5 1386.1,111.1 1387.8,109.6 1389.4,108.3 1391.0,106.9 1392.7,105.5 1394.3,104.2 1395.9,102.9 1397.5,101.6 1399.2,100.3 1400.8,99.1 1402.4,97.8 1404.1,96.6 1405.7,95.4 1407.3,94.2 1409.0,93.0 1410.6,91.8 1412.2,90.7 1413.8,89.5 1415.5,88.4 1417.1,87.3 1418.7,86.2 1420.4,85.2 1422.0,84.1 1423.6,83.1 1425.3,82.1 1426.9,81.1 1428.5,80.1 1430.2,79.1 1431.8,78.1 1433.4,77.2 1435.0,76.3 1436.7,75.3 1438.3,74.4 1439.9,73.5 1441.6,72.7 1443.2,71.8 1444.8,71.0 1446.4,70.1 1448.1,69.3 1449.7,68.5 1451.3,67.7 1453.0,66.9 1454.6,66.1 1456.2,65.4 1457.9,64.6 1459.5,63.9 1461.1,63.2 1462.8,62.5 1464.4,61.8 1466.0,61.1 1467.6,60.4 1469.3,59.7 1470.9,59.1 1472.5,58.4 1474.2,57.8 1475.8,57.2 1477.4,56.6 1479.1,56.0 1480.7,55.4 1482.3,54.8 1483.9,54.2 1485.6,53.7 1487.2,53.1 1488.8,52.6 1490.5,52.0 1492.1,51.5 1493.7,51.0 1495.3,50.5 1497.0,50.0 1498.6,49.5 1500.2,49.0 1501.9,48.6 1503.5,48.1 1505.1,47.6 1506.8,47.2 1508.4,46.7 1510.0,46.3 1511.7,45.9 1513.3,45.5 1514.9,45.1 1516.5,44.7 1518.2,44.3 1519.8,43.9 1521.4,43.5 1523.1,43.1 1524.7,42.8 1526.3,42.4 1527.9,42.0 1529.6,41.7 1531.2,41.3 1532.8,41.0 1534.5,40.7 1536.1,40.4 1537.7,40.0 1539.4,39.7 1541.0,39.4 1542.6,39.1 1544.2,38.8 1545.9,38.5 1547.5,38.2 1549.1,38.0 1550.8,37.7 1552.4,37.4 1554.0,37.2 1555.7,36.9 1557.3,36.6 1558.9,36.4 1560.6,36.1 1562.2,35.9 1563.8,35.7 1565.4,35.4 1567.1,35.2 1568.7,35.0 1570.3,34.8 1572.0,34.5 1573.6,34.3 1575.2,34.1 1576.8,33.9 1578.5,33.7 1580.1,33.5 1581.7,33.3 1583.4,33.1 1585.0,33.0"/>
<polyline stroke="#7E2F8E" points="933.0,490.9 934.6,490.6 936.3,490.2 937.9,489.9 939.5,489.5 941.1,489.1 942.8,488.8 944.4,488.4 946.0,488.0 947.7,487.6 949.3,487.2 950.9,486.8 952.6,486.4 954.2,486.0 955.8,485.6 957.5,485.2 959.1,484.8 960.7,484.3 962.3,483.9 964.0,483.5 965.6,483.0 967.2,482.6 968.9,482.1 970.5,481.7 972.1,481.2 973.8,480.7 975.4,480.2 977.0,479.8 978.6,479.3 980.3,478.8 981.9,478.3 983.5,477.8 985.2,477.2 986.8,476.7 988.4,476.2 990.0,475.6 991.7,475.1 993.3,474.6 994.9,474.0 996.6,473.4 998.2,472.9 999.8,472.3 1001.5,471.7 1003.1,471.1 1004.7,470.5 1006.4,469.9 1008.0,469.3 1009.6,468.7 1011.2,468.0 1012.9,467.4 1014.5,466.8 1016.1,466.1 1017.8,465.5 1019.4,464.8 1021.0,464.1 1022.6,463.4 1024.3,462.7 1025.9,462.0 1027.5,461.3 1029.2,460.6 1030.8,459.9 1032.4,459.2 1034.1,458.4 1035.7,457.7 1037.3,456.9 1039.0,456.2 1040.6,455.4 1042.2,454.6 1043.8,453.8 1045.5,453.0 1047.1,452.2 1048.7,451.4 1050.4,450.6 1052.0,449.7 1053.6,448.9 1055.2,448.0 1056.9,447.2 1058.5,446.3 1060.1,445.4 1061.8,444.5 1063.4,443.6 1065.0,442.7 1066.7,441.8 1068.3,440.9 1069.9,439.9 1071.5,439.0 1073.2,438.0 1074.8,437.1 1076.4,436.1 1078.1,435.1 1079.7,434.1 1081.3,433.1 1083.0,432.1 1084.6,431.1 1086.2,430.0 1087.8,429.0 1089.5,427.9 1091.1,426.9 1092.7,425.8 1094.4,424.7 1096.0,423.6 1097.6,422.5 1099.3,421.4 1100.9,420.3 1102.5,419.2 1104.2,418.0 1105.8,416.8 1107.4,415.7 1109.0,414.5 1110.7,413.3 1112.3,412.1 1113.9,410.9 1115.6,409.7 1117.2,408.5 1118.8,407.2 1120.5,406.0 1122.1,404.7 1123.7,403.5 1125.3,402.2 1127.0,400.9 1128.6,399.6 1130.2,398.3 1131.9,397.0 1133.5,395.6 1135.1,394.3 1136.8,392.9 1138.4,391.6 1140.0,390.2 1141.6,388.8 1143.3,387.5 1144.9,386.1 1146.5,384.6 1148.2,383.2 1149.8,381.8 1151.4,380.4 1153.0,378.9 1154.7,377.5 1156.3,376.0 1157.9,374.5 1159.6,373.0 1161.2,371.5 1162.8,370.0 1164.5,368.5 1166.1,367.0 1167.7,365.5 1169.3,363.9 1171.0,362.4 1172.6,360.8 1174.2,359.3 1175.9,357.7 1177.5,356.1 1179.1,354.5 1180.8,352.9 1182.4,351.3 1184.0,349.7 1185.7,348.1 1187.3,346.5 1188.9,344.8 1190.5,343.2 1192.2,341.5 1193.8,339.9 1195.4,338.2 1197.1,336.5 1198.7,334.8 1200.3,333.2 1202.0,331.5 1203.6,329.8 1205.2,328.1 1206.8,326.4 1208.5,324.6 1210.1,322.9 1211.7,321.2 1213.4,319.5 1215.0,317.7 1216.6,316.0 1218.2,314.2 1219.9,312.5 1221.5,310.7 1223.1,309.0 1224.8,307.2 1226.4,305.4 1228.0,303.7 1229.7,301.9 1231.3,300.1 1232.9,298.3 1234.5,296.5 1236.2,294.7 1237.8,293.0 1239.4,291.2 1241.1,289.4 1242.7,287.6 1244.3,285.8 1246.0,284.0 1247.6,282.2 1249.2,280.4 1250.8,278.5 1252.5,276.7 1254.1,274.9 1255.7,273.1 1257.4,271.3 1259.0,269.5 1260.6,267.7 1262.3,265.9 1263.9,264.1 1265.5,262.3 1267.2,260.5 1268.8,258.6 1270.4,256.8 1272.0,255.0 1273.7,253.2 1275.3,251.4 1276.9,249.6 1278.6,247.8 1280.2,246.0 1281.8,244.3 1283.5,242.5 1285.1,240.7 1286.7,238.9 1288.3,237.1 1290.0,235.3 1291.6,233.6 1293.2,231.8 1294.9,230.0 1296.5,228.3 1298.1,226.5 1299.8,224.8 1301.4,223.0 1303.0,221.3 1304.6,219.5 1306.3,217.8 1307.9,216.1 1309.5,214.4 1311.2,212.6 1312.8,210.9 1314.4,209.2 1316.0,207.5 1317.7,205.8 1319.3,204.2 1320.9,202.5 1322.6,200.8 1324.2,199.1 1325.8,197.5 1327.5,195.8 1329.1,194.2 1330.7,192.5 1332.3,190.9 1334.0,189.3 1335.6,187.7 1337.2,186.1 1338.9,184.5 1340.5,182.9 1342.1,181.3 1343.8,179.7 1345.4,178.2 1347.0,176.6 1348.7,175.1 1350.3,173.5 1351.9,172.0 1353.5,170.5 1355.2,169.0 1356.8,167.5 1358.4,166.0 1360.1,164.5 1361.7,163.0 1363.3,161.5 1365.0,160.1 1366.6,158.6 1368.2,157.2 1369.8,155.8 1371.5,154.4 1373.1,152.9 1374.7,151.5 1376.4,150.2 1378.0,148.8 1379.6,147.4 1381.2,146.1 1382.9,144.7 1384.5,143.4 1386.1,142.0 1387.8,140.7 1389.4,139.4 1391.0,138.1 1392.7,136.8 1394.3,135.5 1395.9,134.3 1397.5,133.0 1399.2,131.8 1400.8,130.5 1402.4,129.3 1404.1,128.1 1405.7,126.9 1407.3,125.7 1409.0,124.5 1410.6,123.3 1412.2,122.2 1413.8,121.0 1415.5,119.8 1417.1,118.7 1418.7,117.6 1420.4,116.5 1422.0,115.4 1423.6,114.3 1425.3,113.2 1426.9,112.1 1428.5,111.1 1430.2,110.0 1431.8,109.0 1433.4,107.9 1435.0,106.9 1436.7,105.9 1438.3,104.9 1439.9,103.9 1441.6,102.9 1443.2,101.9 1444.8,101.0 1446.4,100.0 1448.1,99.1 1449.7,98.1 1451.3,97.2 1453.0,96.3 1454.6,95.4 1456.2,94.5 1457.9,93.6 1459.5,92.7 1461.1,91.8 1462.8,91.0 1464.4,90.1 1466.0,89.3 1467.6,88.4 1469.3,87.6 1470.9,86.8 1472.5,86.0 1474.2,85.2 1475.8,84.4 1477.4,83.6 1479.1,82.8 1480.7,82.1 1482.3,81.3 1483.9,80.6 1485.6,79.8 1487.2,79.1 1488.8,78.4 1490.5,77.7 1492.1,77.0 1493.7,76.3 1495.3,75.6 1497.0,74.9 1498.6,74.2 1500.2,73.5 1501.9,72.9 1503.5,72.2 1505.1,71.6 1506.8,71.0 1508.4,70.3 1510.0,69.7 1511.7,69.1 1513.3,68.5 1514.9,67.9 1516.5,67.3 1518.2,66.7 1519.8,66.1 1521.4,65.6 1523.1,65.0 1524.7,64.4 1526.3,63.9 1527.9,63.4 1529.6,62.8 1531.2,62.3 1532.8,61.8 1534.5,61.2 1536.1,60.7 1537.7,60.2 1539.4,59.7 1541.0,59.2 1542.6,58.8 1544.2,58.3 1545.9,57.8 1547.5,57.3 1549.1,56.9 1550.8,56.4 1552.4,56.0 1554.0,55.5 1555.7,55.1 1557.3,54.7 1558.9,54.2 1560.6,53.8 1562.2,53.4 1563.8,53.0 1565.4,52.6 1567.1,52.2 1568.7,51.8 1570.3,51.4 1572.0,51.0 1573.6,50.6 1575.2,50.2 1576.8,49.9 1578.5,49.5 1580.1,49.1 1581.7,48.8 1583.4,48.4 1585.0,48.1"/>
<polyline stroke="#77AC30" points="933.0,472.9 934.6,472.4 936.3,471.9 937.9,471.5 939.5,471.0 941.1,470.5 942.8,470.0 944.4,469.5 946.0,469.0 947.7,468.5 949.3,468.0 950.9,467.5 952.6,467.0 954.2,466.5 955.8,466.0 957.5,465.5 959.1,464.9 960.7,464.4 962.3,463.8 964.0,463.3 965.6,462.7 967.2,462.2 968.9,461.6 970.5,461.1 972.1,460.5 973.8,459.9 975.4,459.3 977.0,458.7 978.6,458.1 980.3,457.5 981.9,456.9 983.5,456.3 985.2,455.7 986.8,455.1 988.4,454.5 990.0,453.8 991.7,453.2 993.3,452.5 994.9,451.9 996.6,451.2 998.2,450.6 999.8,449.9 1001.5,449.2 1003.1,448.6 1004.7,447.9 1006.4,447.2 1008.0,446.5 1009.6,445.8 1011.2,445.1 1012.9,444.4 1014.5,443.6 1016.1,442.9 1017.8,442.2 1019.4,441.4 1021.0,440.7 1022.6,439.9 1024.3,439.2 1025.9,438.4 1027.5,437.7 1029.2,436.9 1030.8,436.1 1032.4,435.3 1034.1,434.5 1035.7,433.7 1037.3,432.9 1039.0,432.1 1040.6,431.3 1042.2,430.5 1043.8,429.6 1045.5,428.8 1047.1,427.9 1048.7,427.1 1050.4,426.2 1052.0,425.4 1053.6,424.5 1055.2,423.6 1056.9,422.7 1058.5,421.9 1060.1,421.0 1061.8,420.1 1063.4,419.2 1065.0,418.2 1066.7,417.3 1068.3,416.4 1069.9,415.4 1071.5,414.5 1073.2,413.6 1074.8,412.6 1076.4,411.6 1078.1,410.7 1079.7,409.7 1081.3,408.7 1083.0,407.7 1084.6,406.7 1086.2,405.7 1087.8,404.7 1089.5,403.7 1091.1,402.7 1092.7,401.7 1094.4,400.6 1096.0,399.6 1097.6,398.5 1099.3,397.5 1100.9,396.4 1102.5,395.4 1104.2,394.3 1105.8,393.2 1107.4,392.1 1109.0,391.0 1110.7,389.9 1112.3,388.8 1113.9,387.7 1115.6,386.6 1117.2,385.5 1118.8,384.4 1120.5,383.2 1122.1,382.1 1123.7,380.9 1125.3,379.8 1127.0,378.6 1128.6,377.5 1130.2,376.3 1131.9,375.1 1133.5,373.9 1135.1,372.7 1136.8,371.5 1138.4,370.3 1140.0,369.1 1141.6,367.9 1143.3,366.7 1144.9,365.5 1146.5,364.2 1148.2,363.0 1149.8,361.8 1151.4,360.5 1153.0,359.3 1154.7,358.0 1156.3,356.7 1157.9,355.5 1159.6,354.2 1161.2,352.9 1162.8,351.6 1164.5,350.4 1166.1,349.1 1167.7,347.8 1169.3,346.5 1171.0,345.1 1172.6,343.8 1174.2,342.5 1175.9,341.2 1177.5,339.9 1179.1,338.5 1180.8,337.2 1182.4,335.9 1184.0,334.5 1185.7,333.2 1187.3,331.8 1188.9,330.5 1190.5,329.1 1192.2,327.7 1193.8,326.4 1195.4,325.0 1197.1,323.6 1198.7,322.2 1200.3,320.8 1202.0,319.5 1203.6,318.1 1205.2,316.7 1206.8,315.3 1208.5,313.9 1210.1,312.5 1211.7,311.1 1213.4,309.7 1215.0,308.3 1216.6,306.8 1218.2,305.4 1219.9,304.0 1221.5,302.6 1223.1,301.2 1224.8,299.7 1226.4,298.3 1228.0,296.9 1229.7,295.5 1231.3,294.0 1232.9,292.6 1234.5,291.2 1236.2,289.7 1237.8,288.3 1239.4,286.8 1241.1,285.4 1242.7,284.0 1244.3,282.5 1246.0,281.1 1247.6,279.6 1249.2,278.2 1250.8,276.7 1252.5,275.3 1254.1,273.8 1255.7,272.4 1257.4,270.9 1259.0,269.5 1260.6,268.1 1262.3,266.6 1263.9,265.2 1265.5,263.7 1267.2,262.3 1268.8,260.8 1270.4,259.4 1272.0,257.9 1273.7,256.5 1275.3,255.0 1276.9,253.6 1278.6,252.2 1280.2,250.7 1281.8,249.3 1283.5,247.8 1285.1,246.4 1286.7,245.0 1288.3,243.5 1290.0,242.1 1291.6,240.7 1293.2,239.3 1294.9,237.8 1296.5,236.4 1298.1,235.0 1299.8,233.6 1301.4,232.2 1303.0,230.7 1304.6,229.3 1306.3,227.9 1307.9,226.5 1309.5,225.1 1311.2,223.7 1312.8,222.3 1314.4,220.9 1316.0,219.5 1317.7,218.2 1319.3,216.8 1320.9,215.4 1322.6,214.0 1324.2,212.6 1325.8,211.3 1327.5,209.9 1329.1,208.5 1330.7,207.2 1332.3,205.8 1334.0,204.5 1335.6,203.1 1337.2,201.8 1338.9,200.5 1340.5,199.1 1342.1,197.8 1343.8,196.5 1345.4,195.2 1347.0,193.9 1348.7,192.5 1350.3,191.2 1351.9,189.9 1353.5,188.6 1355.2,187.4 1356.8,186.1 1358.4,184.8 1360.1,183.5 1361.7,182.3 1363.3,181.0 1365.0,179.7 1366.6,178.5 1368.2,177.2 1369.8,176.0 1371.5,174.8 1373.1,173.5 1374.7,172.3 1376.4,171.1 1378.0,169.9 1379.6,168.7 1381.2,167.5 1382.9,166.3 1384.5,165.1 1386.1,163.9 1387.8,162.7 1389.4,161.5 1391.0,160.4 1392.7,159.2 1394.3,158.1 1395.9,156.9 1397.5,155.8 1399.2,154.6 1400.8,153.5 1402.4,152.4 1404.1,151.3 1405.7,150.2 1407.3,149.1 1409.0,148.0 1410.6,146.9 1412.2,145.8 1413.8,144.7 1415.5,143.6 1417.1,142.6 1418.7,141.5 1420.4,140.5 1422.0,139.4 1423.6,138.4 1425.3,137.3 1426.9,136.3 1428.5,135.3 1430.2,134.3 1431.8,133.3 1433.4,132.3 1435.0,131.3 1436.7,130.3 1438.3,129.3 1439.9,128.3 1441.6,127.4 1443.2,126.4 1444.8,125.4 1446.4,124.5 1448.1,123.6 1449.7,122.6 1451.3,121.7 1453.0,120.8 1454.6,119.8 1456.2,118.9 1457.9,118.0 1459.5,117.1 1461.1,116.3 1462.8,115.4 1464.4,114.5 1466.0,113.6 1467.6,112.8 1469.3,111.9 1470.9,111.1 1472.5,110.2 1474.2,109.4 1475.8,108.5 1477.4,107.7 1479.1,106.9 1480.7,106.1 1482.3,105.3 1483.9,104.5 1485.6,103.7 1487.2,102.9 1488.8,102.1 1490.5,101.3 1492.1,100.6 1493.7,99.8 1495.3,99.1 1497.0,98.3 1498.6,97.6 1500.2,96.8 1501.9,96.1 1503.5,95.4 1505.1,94.6 1506.8,93.9 1508.4,93.2 1510.0,92.5 1511.7,91.8 1513.3,91.1 1514.9,90.4 1516.5,89.8 1518.2,89.1 1519.8,88.4 1521.4,87.8 1523.1,87.1 1524.7,86.5 1526.3,85.8 1527.9,85.2 1529.6,84.5 1531.2,83.9 1532.8,83.3 1534.5,82.7 1536.1,82.1 1537.7,81.5 1539.4,80.9 1541.0,80.3 1542.6,79.7 1544.2,79.1 1545.9,78.5 1547.5,77.9 1549.1,77.4 1550.8,76.8 1552.4,76.3 1554.0,75.7 1555.7,75.2 1557.3,74.6 1558.9,74.1 1560.6,73.5 1562.2,73.0 1563.8,72.5 1565.4,72.0 1567.1,71.5 1568.7,71.0 1570.3,70.5 1572.0,70.0 1573.6,69.5 1575.2,69.0 1576.8,68.5 1578.5,68.0 1580.1,67.5 1581.7,67.1 1583.4,66.6 1585.0,66.1"/>
<polyline stroke="#4DBEEE" points="933.0,454.9 934.6,454.3 936.3,453.8 937.9,453.3 939.5,452.8 941.1,452.2 942.8,451.7 944.4,451.1 946.0,450.6 947.7,450.0 949.3,449.5 950.9,448.9 952.6,448.3 954.2,447.8 955.8,447.2 957.5,446.6 959.1,446.0 960.7,445.4 962.3,444.8 964.0,444.2 965.6,443.6 967.2,443.0 968.9,442.4 970.5,441.8 972.1,441.2 973.8,440.6 975.4,439.9 977.0,439.3 978.6,438.7 980.3,438.0 981.9,437.4 983.5,436.8 985.2,436.1 986.8,435.5 988.4,434.8 990.0,434.1 991.7,433.5 993.3,432.8 994.9,432.1 996.6,431.4 998.2,430.7 999.8,430.0 1001.5,429.4 1003.1,428.7 1004.7,427.9 1006.4,427.2 1008.0,426.5 1009.6,425.8 1011.2,425.1 1012.9,424.4 1014.5,423.6 1016.1,422.9 1017.8,422.2 1019.4,421.4 1021.0,420.7 1022.6,419.9 1024.3,419.2 1025.9,418.4 1027.5,417.6 1029.2,416.8 1030.8,416.1 1032.4,415.3 1034.1,414.5 1035.7,413.7 1037.3,412.9 1039.0,412.1 1040.6,411.3 1042.2,410.5 1043.8,409.7 1045.5,408.9 1047.1,408.1 1048.7,407.2 1050.4,406.4 1052.0,405.6 1053.6,404.7 1055.2,403.9 1056.9,403.0 1058.5,402.2 1060.1,401.3 1061.8,400.5 1063.4,399.6 1065.0,398.7 1066.7,397.8 1068.3,397.0 1069.9,396.1 1071.5,395.2 1073.2,394.3 1074.8,393.4 1076.4,392.5 1078.1,391.6 1079.7,390.7 1081.3,389.8 1083.0,388.8 1084.6,387.9 1086.2,387.0 1087.8,386.1 1089.5,385.1 1091.1,384.2 1092.7,383.2 1094.4,382.3 1096.0,381.3 1097.6,380.4 1099.3,379.4 1100.9,378.4 1102.5,377.5 1104.2,376.5 1105.8,375.5 1107.4,374.5 1109.0,373.5 1110.7,372.5 1112.3,371.5 1113.9,370.5 1115.6,369.5 1117.2,368.5 1118.8,367.5 1120.5,366.5 1122.1,365.5 1123.7,364.4 1125.3,363.4 1127.0,362.4 1128.6,361.3 1130.2,360.3 1131.9,359.3 1133.5,358.2 1135.1,357.2 1136.8,356.1 1138.4,355.1 1140.0,354.0 1141.6,352.9 1143.3,351.9 1144.9,350.8 1146.5,349.7 1148.2,348.6 1149.8,347.5 1151.4,346.5 1153.0,345.4 1154.7,344.3 1156.3,343.2 1157.9,342.1 1159.6,341.0 1161.2,339.9 1162.8,338.8 1164.5,337.6 1166.1,336.5 1167.7,335.4 1169.3,334.3 1171.0,333.2 1172.6,332.0 1174.2,330.9 1175.9,329.8 1177.5,328.6 1179.1,327.5 1180.8,326.4 1182.4,325.2 1184.0,324.1 1185.7,322.9 1187.3,321.8 1188.9,320.6 1190.5,319.5 1192.2,318.3 1193.8,317.1 1195.4,316.0 1197.1,314.8 1198.7,313.7 1200.3,312.5 1202.0,311.3 1203.6,310.1 1205.2,309.0 1206.8,307.8 1208.5,306.6 1210.1,305.4 1211.7,304.3 1213.4,303.1 1215.0,301.9 1216.6,300.7 1218.2,299.5 1219.9,298.3 1221.5,297.1 1223.1,295.9 1224.8,294.7 1226.4,293.6 1228.0,292.4 1229.7,291.2 1231.3,290.0 1232.9,288.8 1234.5,287.6 1236.2,286.4 1237.8,285.2 1239.4,284.0 1241.1,282.8 1242.7,281.6 1244.3,280.4 1246.0,279.1 1247.6,277.9 1249.2,276.7 1250.8,275.5 1252.5,274.3 1254.1,273.1 1255.7,271.9 1257.4,270.7 1259.0,269.5 1260.6,268.3 1262.3,267.1 1263.9,265.9 1265.5,264.7 1267.2,263.5 1268.8,262.3 1270.4,261.1 1272.0,259.9 1273.7,258.6 1275.3,257.4 1276.9,256.2 1278.6,255.0 1280.2,253.8 1281.8,252.6 1283.5,251.4 1285.1,250.2 1286.7,249.0 1288.3,247.8 1290.0,246.6 1291.6,245.4 1293.2,244.3 1294.9,243.1 1296.5,241.9 1298.1,240.7 1299.8,239.5 1301.4,238.3 1303.0,237.1 1304.6,235.9 1306.3,234.7 1307.9,233.6 1309.5,232.4 1311.2,231.2 1312.8,230.0 1314.4,228.9 1316.0,227.7 1317.7,226.5 1319.3,225.3 1320.9,224.2 1322.6,223.0 1324.2,221.9 1325.8,220.7 1327.5,219.5 1329.1,218.4 1330.7,217.2 1332.3,216.1 1334.0,214.9 1335.6,213.8 1337.2,212.6 1338.9,211.5 1340.5,210.4 1342.1,209.2 1343.8,208.1 1345.4,207.0 1347.0,205.8 1348.7,204.7 1350.3,203.6 1351.9,202.5 1353.5,201.4 1355.2,200.2 1356.8,199.1 1358.4,198.0 1360.1,196.9 1361.7,195.8 1363.3,194.7 1365.0,193.6 1366.6,192.5 1368.2,191.5 1369.8,190.4 1371.5,189.3 1373.1,188.2 1374.7,187.1 1376.4,186.1 1378.0,185.0 1379.6,183.9 1381.2,182.9 1382.9,181.8 1384.5,180.8 1386.1,179.7 1387.8,178.7 1389.4,177.7 1391.0,176.6 1392.7,175.6 1394.3,174.6 1395.9,173.5 1397.5,172.5 1399.2,171.5 1400.8,170.5 1402.4,169.5 1404.1,168.5 1405.7,167.5 1407.3,166.5 1409.0,165.5 1410.6,164.5 1412.2,163.5 1413.8,162.5 1415.5,161.5 1417.1,160.6 1418.7,159.6 1420.4,158.6 1422.0,157.7 1423.6,156.7 1425.3,155.8 1426.9,154.8 1428.5,153.9 1430.2,152.9 1431.8,152.0 1433.4,151.1 1435.0,150.2 1436.7,149.2 1438.3,148.3 1439.9,147.4 1441.6,146.5 1443.2,145.6 1444.8,144.7 1446.4,143.8 1448.1,142.9 1449.7,142.0 1451.3,141.2 1453.0,140.3 1454.6,139.4 1456.2,138.5 1457.9,137.7 1459.5,136.8 1461.1,136.0 1462.8,135.1 1464.4,134.3 1466.0,133.4 1467.6,132.6 1469.3,131.8 1470.9,130.9 1472.5,130.1 1474.2,129.3 1475.8,128.5 1477.4,127.7 1479.1,126.9 1480.7,126.1 1482.3,125.3 1483.9,124.5 1485.6,123.7 1487.2,122.9 1488.8,122.2 1490.5,121.4 1492.1,120.6 1493.7,119.8 1495.3,119.1 1497.0,118.3 1498.6,117.6 1500.2,116.8 1501.9,116.1 1503.5,115.4 1505.1,114.6 1506.8,113.9 1508.4,113.2 1510.0,112.5 1511.7,111.8 1513.3,111.1 1514.9,110.3 1516.5,109.6 1518.2,109.0 1519.8,108.3 1521.4,107.6 1523.1,106.9 1524.7,106.2 1526.3,105.5 1527.9,104.9 1529.6,104.2 1531.2,103.5 1532.8,102.9 1534.5,102.2 1536.1,101.6 1537.7,101.0 1539.4,100.3 1541.0,99.7 1542.6,99.1 1544.2,98.4 1545.9,97.8 1547.5,97.2 1549.1,96.6 1550.8,96.0 1552.4,95.4 1554.0,94.8 1555.7,94.2 1557.3,93.6 1558.9,93.0 1560.6,92.4 1562.2,91.8 1563.8,91.2 1565.4,90.7 1567.1,90.1 1568.7,89.5 1570.3,89.0 1572.0,88.4 1573.6,87.9 1575.2,87.3 1576.8,86.8 1578.5,86.2 1580.1,85.7 1581.7,85.2 1583.4,84.7 1585.0,84.1"/>
<polyline stroke="#A2142F" points="933.0,438.3 934.6,437.8 936.3,437.2 937.9,436.7 939.5,436.1 941.1,435.5 942.8,435.0 944.4,434.4 946.0,433.8 947.7,433.3 949.3,432.7 950.9,432.1 952.6,431.5 954.2,430.9 955.8,430.3 957.5,429.8 959.1,429.2 960.7,428.6 962.3,427.9 964.0,427.3 965.6,426.7 967.2,426.1 968.9,425.5 970.5,424.9 972.1,424.3 973.8,423.6 975.4,423.0 977.0,422.4 978.6,421.7 980.3,421.1 981.9,420.4 983.5,419.8 985.2,419.2 986.8,418.5 988.4,417.8 990.0,417.2 991.7,416.5 993.3,415.9 994.9,415.2 996.6,414.5 998.2,413.8 999.8,413.2 1001.5,412.5 1003.1,411.8 1004.7,411.1 1006.4,410.4 1008.0,409.7 1009.6,409.0 1011.2,408.3 1012.9,407.6 1014.5,406.9 1016.1,406.2 1017.8,405.4 1019.4,404.7 1021.0,404.0 1022.6,403.3 1024.3,402.5 1025.9,401.8 1027.5,401.1 1029.2,400.3 1030.8,399.6 1032.4,398.8 1034.1,398.1 1035.7,397.3 1037.3,396.6 1039.0,395.8 1040.6,395.1 1042.2,394.3 1043.8,393.5 1045.5,392.8 1047.1,392.0 1048.7,391.2 1050.4,390.4 1052.0,389.6 1053.6,388.8 1055.2,388.0 1056.9,387.3 1058.5,386.5 1060.1,385.7 1061.8,384.8 1063.4,384.0 1065.0,383.2 1066.7,382.4 1068.3,381.6 1069.9,380.8 1071.5,379.9 1073.2,379.1 1074.8,378.3 1076.4,377.5 1078.1,376.6 1079.7,375.8 1081.3,374.9 1083.0,374.1 1084.6,373.2 1086.2,372.4 1087.8,371.5 1089.5,370.7 1091.1,369.8 1092.7,369.0 1094.4,368.1 1096.0,367.2 1097.6,366.3 1099.3,365.5 1100.9,364.6 1102.5,363.7 1104.2,362.8 1105.8,361.9 1107.4,361.1 1109.0,360.2 1110.7,359.3 1112.3,358.4 1113.9,357.5 1115.6,356.6 1117.2,355.7 1118.8,354.7 1120.5,353.8 1122.1,352.9 1123.7,352.0 1125.3,351.1 1127.0,350.2 1128.6,349.2 1130.2,348.3 1131.9,347.4 1133.5,346.5 1135.1,345.5 1136.8,344.6 1138.4,343.6 1140.0,342.7 1141.6,341.8 1143.3,340.8 1144.9,339.9 1146.5,338.9 1148.2,338.0 1149.8,337.0 1151.4,336.0 1153.0,335.1 1154.7,334.1 1156.3,333.2 1157.9,332.2 1159.6,331.2 1161.2,330.3 1162.8,329.3 1164.5,328.3 1166.1,327.3 1167.7,326.4 1169.3,325.4 1171.0,324.4 1172.6,323.4 1174.2,322.4 1175.9,321.4 1177.5,320.5 1179.1,319.5 1180.8,318.5 1182.4,317.5 1184.0,316.5 1185.7,315.5 1187.3,314.5 1188.9,313.5 1190.5,312.5 1192.2,311.5 1193.8,310.5 1195.4,309.5 1197.1,308.5 1198.7,307.5 1200.3,306.4 1202.0,305.4 1203.6,304.4 1205.2,303.4 1206.8,302.4 1208.5,301.4 1210.1,300.4 1211.7,299.3 1213.4,298.3 1215.0,297.3 1216.6,296.3 1218.2,295.3 1219.9,294.2 1221.5,293.2 1223.1,292.2 1224.8,291.2 1226.4,290.1 1228.0,289.1 1229.7,288.1 1231.3,287.0 1232.9,286.0 1234.5,285.0 1236.2,284.0 1237.8,282.9 1239.4,281.9 1241.1,280.9 1242.7,279.8 1244.3,278.8 1246.0,277.8 1247.6,276.7 1249.2,275.7 1250.8,274.7 1252.5,273.6 1254.1,272.6 1255.7,271.6 1257.4,270.5 1259.0,269.5 1260.6,268.5 1262.3,267.4 1263.9,266.4 1265.5,265.4 1267.2,264.3 1268.8,263.3 1270.4,262.3 1272.0,261.2 1273.7,260.2 1275.3,259.2 1276.9,258.1 1278.6,257.1 1280.2,256.1 1281.8,255.0 1283.5,254.0 1285.1,253.0 1286.7,252.0 1288.3,250.9 1290.0,249.9 1291.6,248.9 1293.2,247.8 1294.9,246.8 1296.5,245.8 1298.1,244.8 1299.8,243.7 1301.4,242.7 1303.0,241.7 1304.6,240.7 1306.3,239.7 1307.9,238.6 1309.5,237.6 1311.2,236.6 1312.8,235.6 1314.4,234.6 1316.0,233.6 1317.7,232.6 1319.3,231.5 1320.9,230.5 1322.6,229.5 1324.2,228.5 1325.8,227.5 1327.5,226.5 1329.1,225.5 1330.7,224.5 1332.3,223.5 1334.0,222.5 1335.6,221.5 1337.2,220.5 1338.9,219.5 1340.5,218.5 1342.1,217.6 1343.8,216.6 1345.4,215.6 1347.0,214.6 1348.7,213.6 1350.3,212.6 1351.9,211.7 1353.5,210.7 1355.2,209.7 1356.8,208.7 1358.4,207.8 1360.1,206.8 1361.7,205.8 1363.3,204.9 1365.0,203.9 1366.6,203.0 1368.2,202.0 1369.8,201.0 1371.5,200.1 1373.1,199.1 1374.7,198.2 1376.4,197.2 1378.0,196.3 1379.6,195.4 1381.2,194.4 1382.9,193.5 1384.5,192.5 1386.1,191.6 1387.8,190.7 1389.4,189.8 1391.0,188.8 1392.7,187.9 1394.3,187.0 1395.9,186.1 1397.5,185.2 1399.2,184.3 1400.8,183.3 1402.4,182.4 1404.1,181.5 1405.7,180.6 1407.3,179.7 1409.0,178.8 1410.6,177.9 1412.2,177.1 1413.8,176.2 1415.5,175.3 1417.1,174.4 1418.7,173.5 1420.4,172.7 1422.0,171.8 1423.6,170.9 1425.3,170.0 1426.9,169.2 1428.5,168.3 1430.2,167.5 1431.8,166.6 1433.4,165.8 1435.0,164.9 1436.7,164.1 1438.3,163.2 1439.9,162.4 1441.6,161.5 1443.2,160.7 1444.8,159.9 1446.4,159.1 1448.1,158.2 1449.7,157.4 1451.3,156.6 1453.0,155.8 1454.6,155.0 1456.2,154.2 1457.9,153.3 1459.5,152.5 1461.1,151.7 1462.8,151.0 1464.4,150.2 1466.0,149.4 1467.6,148.6 1469.3,147.8 1470.9,147.0 1472.5,146.2 1474.2,145.5 1475.8,144.7 1477.4,143.9 1479.1,143.2 1480.7,142.4 1482.3,141.7 1483.9,140.9 1485.6,140.2 1487.2,139.4 1488.8,138.7 1490.5,137.9 1492.1,137.2 1493.7,136.5 1495.3,135.7 1497.0,135.0 1498.6,134.3 1500.2,133.6 1501.9,132.8 1503.5,132.1 1505.1,131.4 1506.8,130.7 1508.4,130.0 1510.0,129.3 1511.7,128.6 1513.3,127.9 1514.9,127.2 1516.5,126.5 1518.2,125.8 1519.8,125.2 1521.4,124.5 1523.1,123.8 1524.7,123.1 1526.3,122.5 1527.9,121.8 1529.6,121.2 1531.2,120.5 1532.8,119.8 1534.5,119.2 1536.1,118.6 1537.7,117.9 1539.4,117.3 1541.0,116.6 1542.6,116.0 1544.2,115.4 1545.9,114.7 1547.5,114.1 1549.1,113.5 1550.8,112.9 1552.4,112.3 1554.0,111.7 1555.7,111.1 1557.3,110.4 1558.9,109.8 1560.6,109.2 1562.2,108.7 1563.8,108.1 1565.4,107.5 1567.1,106.9 1568.7,106.3 1570.3,105.7 1572.0,105.2 1573.6,104.6 1575.2,104.0 1576.8,103.5 1578.5,102.9 1580.1,102.3 1581.7,101.8 1583.4,101.2 1585.0,100.7"/>
<polyline stroke="#0072BD" points="933.0,423.6 934.6,423.1 936.3,422.5 937.9,422.0 939.5,421.4 941.1,420.8 942.8,420.3 944.4,419.7 946.0,419.2 947.7,418.6 949.3,418.0 950.9,417.4 952.6,416.8 954.2,416.3 955.8,415.7 957.5,415.1 959.1,414.5 960.7,413.9 962.3,413.3 964.0,412.7 965.6,412.1 967.2,411.5 968.9,410.9 970.5,410.3 972.1,409.7 973.8,409.1 975.4,408.5 977.0,407.9 978.6,407.2 980.3,406.6 981.9,406.0 983.5,405.4 985.2,404.7 986.8,404.1 988.4,403.5 990.0,402.8 991.7,402.2 993.3,401.5 994.9,400.9 996.6,400.2 998.2,399.6 999.8,398.9 1001.5,398.3 1003.1,397.6 1004.7,397.0 1006.4,396.3 1008.0,395.6 1009.6,395.0 1011.2,394.3 1012.9,393.6 1014.5,392.9 1016.1,392.3 1017.8,391.6 1019.4,390.9 1021.0,390.2 1022.6,389.5 1024.3,388.8 1025.9,388.1 1027.5,387.5 1029.2,386.8 1030.8,386.1 1032.4,385.4 1034.1,384.6 1035.7,383.9 1037.3,383.2 1039.0,382.5 1040.6,381.8 1042.2,381.1 1043.8,380.4 1045.5,379.6 1047.1,378.9 1048.7,378.2 1050.4,377.5 1052.0,376.7 1053.6,376.0 1055.2,375.3 1056.9,374.5 1058.5,373.8 1060.1,373.0 1061.8,372.3 1063.4,371.5 1065.0,370.8 1066.7,370.0 1068.3,369.3 1069.9,368.5 1071.5,367.8 1073.2,367.0 1074.8,366.2 1076.4,365.5 1078.1,364.7 1079.7,363.9 1081.3,363.2 1083.0,362.4 1084.6,361.6 1086.2,360.8 1087.8,360.0 1089.5,359.3 1091.1,358.5 1092.7,357.7 1094.4,356.9 1096.0,356.1 1097.6,355.3 1099.3,354.5 1100.9,353.7 1102.5,352.9 1104.2,352.1 1105.8,351.3 1107.4,350.5 1109.0,349.7 1110.7,348.9 1112.3,348.1 1113.9,347.3 1115.6,346.5 1117.2,345.6 1118.8,344.8 1120.5,344.0 1122.1,343.2 1123.7,342.3 1125.3,341.5 1127.0,340.7 1128.6,339.9 1130.2,339.0 1131.9,338.2 1133.5,337.4 1135.1,336.5 1136.8,335.7 1138.4,334.8 1140.0,334.0 1141.6,333.2 1143.3,332.3 1144.9,331.5 1146.5,330.6 1148.2,329.8 1149.8,328.9 1151.4,328.1 1153.0,327.2 1154.7,326.4 1156.3,325.5 1157.9,324.6 1159.6,323.8 1161.2,322.9 1162.8,322.1 1164.5,321.2 1166.1,320.3 1167.7,319.5 1169.3,318.6 1171.0,317.7 1172.6,316.9 1174.2,316.0 1175.9,315.1 1177.5,314.2 1179.1,313.4 1180.8,312.5 1182.4,311.6 1184.0,310.7 1185.7,309.8 1187.3,309.0 1188.9,308.1 1190.5,307.2 1192.2,306.3 1193.8,305.4 1195.4,304.5 1197.1,303.7 1198.7,302.8 1200.3,301.9 1202.0,301.0 1203.6,300.1 1205.2,299.2 1206.8,298.3 1208.5,297.4 1210.1,296.5 1211.7,295.6 1213.4,294.7 1215.0,293.8 1216.6,293.0 1218.2,292.1 1219.9,291.2 1221.5,290.3 1223.1,289.4 1224.8,288.5 1226.4,287.6 1228.0,286.7 1229.7,285.8 1231.3,284.9 1232.9,284.0 1234.5,283.1 1236.2,282.2 1237.8,281.3 1239.4,280.4 1241.1,279.4 1242.7,278.5 1244.3,277.6 1246.0,276.7 1247.6,275.8 1249.2,274.9 1250.8,274.0 1252.5,273.1 1254.1,272.2 1255.7,271.3 1257.4,270.4 1259.0,269.5 1260.6,268.6 1262.3,267.7 1263.9,266.8 1265.5,265.9 1267.2,265.0 1268.8,264.1 1270.4,263.2 1272.0,262.3 1273.7,261.4 1275.3,260.5 1276.9,259.6 1278.6,258.6 1280.2,257.7 1281.8,256.8 1283.5,255.9 1285.1,255.0 1286.7,254.1 1288.3,253.2 1290.0,252.3 1291.6,251.4 1293.2,250.5 1294.9,249.6 1296.5,248.7 1298.1,247.8 1299.8,246.9 1301.4,246.0 1303.0,245.2 1304.6,244.3 1306.3,243.4 1307.9,242.5 1309.5,241.6 1311.2,240.7 1312.8,239.8 1314.4,238.9 1316.0,238.0 1317.7,237.1 1319.3,236.2 1320.9,235.3 1322.6,234.5 1324.2,233.6 1325.8,232.7 1327.5,231.8 1329.1,230.9 1330.7,230.0 1332.3,229.2 1334.0,228.3 1335.6,227.4 1337.2,226.5 1338.9,225.6 1340.5,224.8 1342.1,223.9 1343.8,223.0 1345.4,222.1 1347.0,221.3 1348.7,220.4 1350.3,219.5 1351.9,218.7 1353.5,217.8 1355.2,216.9 1356.8,216.1 1358.4,215.2 1360.1,214.4 1361.7,213.5 1363.3,212.6 1365.0,211.8 1366.6,210.9 1368.2,210.1 1369.8,209.2 1371.5,208.4 1373.1,207.5 1374.7,206.7 1376.4,205.8 1378.0,205.0 1379.6,204.2 1381.2,203.3 1382.9,202.5 1384.5,201.6 1386.1,200.8 1387.8,200.0 1389.4,199.1 1391.0,198.3 1392.7,197.5 1394.3,196.7 1395.9,195.8 1397.5,195.0 1399.2,194.2 1400.8,193.4 1402.4,192.5 1404.1,191.7 1405.7,190.9 1407.3,190.1 1409.0,189.3 1410.6,188.5 1412.2,187.7 1413.8,186.9 1415.5,186.1 1417.1,185.3 1418.7,184.5 1420.4,183.7 1422.0,182.9 1423.6,182.1 1425.3,181.3 1426.9,180.5 1428.5,179.7 1430.2,179.0 1431.8,178.2 1433.4,177.4 1435.0,176.6 1436.7,175.8 1438.3,175.1 1439.9,174.3 1441.6,173.5 1443.2,172.8 1444.8,172.0 1446.4,171.2 1448.1,170.5 1449.7,169.7 1451.3,169.0 1453.0,168.2 1454.6,167.5 1456.2,166.7 1457.9,166.0 1459.5,165.2 1461.1,164.5 1462.8,163.7 1464.4,163.0 1466.0,162.3 1467.6,161.5 1469.3,160.8 1470.9,160.1 1472.5,159.4 1474.2,158.6 1475.8,157.9 1477.4,157.2 1479.1,156.5 1480.7,155.8 1482.3,155.1 1483.9,154.4 1485.6,153.6 1487.2,152.9 1488.8,152.2 1490.5,151.5 1492.1,150.9 1493.7,150.2 1495.3,149.5 1497.0,148.8 1498.6,148.1 1500.2,147.4 1501.9,146.7 1503.5,146.1 1505.1,145.4 1506.8,144.7 1508.4,144.0 1510.0,143.4 1511.7,142.7 1513.3,142.0 1514.9,141.4 1516.5,140.7 1518.2,140.1 1519.8,139.4 1521.4,138.8 1523.1,138.1 1524.7,137.5 1526.3,136.8 1527.9,136.2 1529.6,135.5 1531.2,134.9 1532.8,134.3 1534.5,133.6 1536.1,133.0 1537.7,132.4 1539.4,131.8 1541.0,131.1 1542.6,130.5 1544.2,129.9 1545.9,129.3 1547.5,128.7 1549.1,128.1 1550.8,127.5 1552.4,126.9 1554.0,126.3 1555.7,125.7 1557.3,125.1 1558.9,124.5 1560.6,123.9 1562.2,123.3 1563.8,122.7 1565.4,122.2 1567.1,121.6 1568.7,121.0 1570.3,120.4 1572.0,119.8 1573.6,119.3 1575.2,118.7 1576.8,118.2 1578.5,117.6 1580.1,117.0 1581.7,116.5 1583.4,115.9 1585.0,115.4"/>
<polyline stroke="#D95319" points="933.0,410.8 934.6,410.2 936.3,409.7 937.9,409.2 939.5,408.6 941.1,408.1 942.8,407.5 944.4,407.0 946.0,406.4 947.7,405.8 949.3,405.3 950.9,404.7 952.6,404.2 954.2,403.6 955.8,403.0 957.5,402.5 959.1,401.9 960.7,401.3 962.3,400.7 964.0,400.2 965.6,399.6 967.2,399.0 968.9,398.4 970.5,397.8 972.1,397.3 973.8,396.7 975.4,396.1 977.0,395.5 978.6,394.9 980.3,394.3 981.9,393.7 983.5,393.1 985.2,392.5 986.8,391.9 988.4,391.3 990.0,390.7 991.7,390.1 993.3,389.5 994.9,388.8 996.6,388.2 998.2,387.6 999.8,387.0 1001.5,386.4 1003.1,385.7 1004.7,385.1 1006.4,384.5 1008.0,383.9 1009.6,383.2 1011.2,382.6 1012.9,382.0 1014.5,381.3 1016.1,380.7 1017.8,380.0 1019.4,379.4 1021.0,378.8 1022.6,378.1 1024.3,377.5 1025.9,376.8 1027.5,376.2 1029.2,375.5 1030.8,374.8 1032.4,374.2 1034.1,373.5 1035.7,372.9 1037.3,372.2 1039.0,371.5 1040.6,370.9 1042.2,370.2 1043.8,369.5 1045.5,368.9 1047.1,368.2 1048.7,367.5 1050.4,366.8 1052.0,366.2 1053.6,365.5 1055.2,364.8 1056.9,364.1 1058.5,363.4 1060.1,362.7 1061.8,362.0 1063.4,361.3 1065.0,360.7 1066.7,360.0 1068.3,359.3 1069.9,358.6 1071.5,357.9 1073.2,357.2 1074.8,356.5 1076.4,355.8 1078.1,355.1 1079.7,354.3 1081.3,353.6 1083.0,352.9 1084.6,352.2 1086.2,351.5 1087.8,350.8 1089.5,350.1 1091.1,349.3 1092.7,348.6 1094.4,347.9 1096.0,347.2 1097.6,346.5 1099.3,345.7 1100.9,345.0 1102.5,344.3 1104.2,343.5 1105.8,342.8 1107.4,342.1 1109.0,341.3 1110.7,340.6 1112.3,339.9 1113.9,339.1 1115.6,338.4 1117.2,337.6 1118.8,336.9 1120.5,336.2 1122.1,335.4 1123.7,334.7 1125.3,333.9 1127.0,333.2 1128.6,332.4 1130.2,331.7 1131.9,330.9 1133.5,330.2 1135.1,329.4 1136.8,328.6 1138.4,327.9 1140.0,327.1 1141.6,326.4 1143.3,325.6 1144.9,324.8 1146.5,324.1 1148.2,323.3 1149.8,322.5 1151.4,321.8 1153.0,321.0 1154.7,320.2 1156.3,319.5 1157.9,318.7 1159.6,317.9 1161.2,317.1 1162.8,316.4 1164.5,315.6 1166.1,314.8 1167.7,314.0 1169.3,313.3 1171.0,312.5 1172.6,311.7 1174.2,310.9 1175.9,310.1 1177.5,309.4 1179.1,308.6 1180.8,307.8 1182.4,307.0 1184.0,306.2 1185.7,305.4 1187.3,304.6 1188.9,303.9 1190.5,303.1 1192.2,302.3 1193.8,301.5 1195.4,300.7 1197.1,299.9 1198.7,299.1 1200.3,298.3 1202.0,297.5 1203.6,296.7 1205.2,295.9 1206.8,295.1 1208.5,294.3 1210.1,293.6 1211.7,292.8 1213.4,292.0 1215.0,291.2 1216.6,290.4 1218.2,289.6 1219.9,288.8 1221.5,288.0 1223.1,287.2 1224.8,286.4 1226.4,285.6 1228.0,284.8 1229.7,284.0 1231.3,283.2 1232.9,282.4 1234.5,281.6 1236.2,280.8 1237.8,279.9 1239.4,279.1 1241.1,278.3 1242.7,277.5 1244.3,276.7 1246.0,275.9 1247.6,275.1 1249.2,274.3 1250.8,273.5 1252.5,272.7 1254.1,271.9 1255.7,271.1 1257.4,270.3 1259.0,269.5 1260.6,268.7 1262.3,267.9 1263.9,267.1 1265.5,266.3 1267.2,265.5 1268.8,264.7 1270.4,263.9 1272.0,263.1 1273.7,262.3 1275.3,261.5 1276.9,260.7 1278.6,259.9 1280.2,259.1 1281.8,258.2 1283.5,257.4 1285.1,256.6 1286.7,255.8 1288.3,255.0 1290.0,254.2 1291.6,253.4 1293.2,252.6 1294.9,251.8 1296.5,251.0 1298.1,250.2 1299.8,249.4 1301.4,248.6 1303.0,247.8 1304.6,247.0 1306.3,246.2 1307.9,245.4 1309.5,244.7 1311.2,243.9 1312.8,243.1 1314.4,242.3 1316.0,241.5 1317.7,240.7 1319.3,239.9 1320.9,239.1 1322.6,238.3 1324.2,237.5 1325.8,236.7 1327.5,235.9 1329.1,235.1 1330.7,234.4 1332.3,233.6 1334.0,232.8 1335.6,232.0 1337.2,231.2 1338.9,230.4 1340.5,229.6 1342.1,228.9 1343.8,228.1 1345.4,227.3 1347.0,226.5 1348.7,225.7 1350.3,225.0 1351.9,224.2 1353.5,223.4 1355.2,222.6 1356.8,221.9 1358.4,221.1 1360.1,220.3 1361.7,219.5 1363.3,218.8 1365.0,218.0 1366.6,217.2 1368.2,216.5 1369.8,215.7 1371.5,214.9 1373.1,214.2 1374.7,213.4 1376.4,212.6 1378.0,211.9 1379.6,211.1 1381.2,210.4 1382.9,209.6 1384.5,208.8 1386.1,208.1 1387.8,207.3 1389.4,206.6 1391.0,205.8 1392.7,205.1 1394.3,204.3 1395.9,203.6 1397.5,202.8 1399.2,202.1 1400.8,201.4 1402.4,200.6 1404.1,199.9 1405.7,199.1 1407.3,198.4 1409.0,197.7 1410.6,196.9 1412.2,196.2 1413.8,195.5 1415.5,194.7 1417.1,194.0 1418.7,193.3 1420.4,192.5 1422.0,191.8 1423.6,191.1 1425.3,190.4 1426.9,189.7 1428.5,188.9 1430.2,188.2 1431.8,187.5 1433.4,186.8 1435.0,186.1 1436.7,185.4 1438.3,184.7 1439.9,183.9 1441.6,183.2 1443.2,182.5 1444.8,181.8 1446.4,181.1 1448.1,180.4 1449.7,179.7 1451.3,179.0 1453.0,178.3 1454.6,177.7 1456.2,177.0 1457.9,176.3 1459.5,175.6 1461.1,174.9 1462.8,174.2 1464.4,173.5 1466.0,172.8 1467.6,172.2 1469.3,171.5 1470.9,170.8 1472.5,170.1 1474.2,169.5 1475.8,168.8 1477.4,168.1 1479.1,167.5 1480.7,166.8 1482.3,166.1 1483.9,165.5 1485.6,164.8 1487.2,164.2 1488.8,163.5 1490.5,162.8 1492.1,162.2 1493.7,161.5 1495.3,160.9 1497.0,160.2 1498.6,159.6 1500.2,159.0 1501.9,158.3 1503.5,157.7 1505.1,157.0 1506.8,156.4 1508.4,155.8 1510.0,155.1 1511.7,154.5 1513.3,153.9 1514.9,153.3 1516.5,152.6 1518.2,152.0 1519.8,151.4 1521.4,150.8 1523.1,150.2 1524.7,149.5 1526.3,148.9 1527.9,148.3 1529.6,147.7 1531.2,147.1 1532.8,146.5 1534.5,145.9 1536.1,145.3 1537.7,144.7 1539.4,144.1 1541.0,143.5 1542.6,142.9 1544.2,142.3 1545.9,141.7 1547.5,141.2 1549.1,140.6 1550.8,140.0 1552.4,139.4 1554.0,138.8 1555.7,138.3 1557.3,137.7 1558.9,137.1 1560.6,136.5 1562.2,136.0 1563.8,135.4 1565.4,134.8 1567.1,134.3 1568.7,133.7 1570.3,133.2 1572.0,132.6 1573.6,132.0 1575.2,131.5 1576.8,130.9 1578.5,130.4 1580.1,129.8 1581.7,129.3 1583.4,128.8 1585.0,128.2"/>
<polyline stroke="#EDB120" points="933.0,399.6 934.6,399.1 936.3,398.5 937.9,398.0 939.5,397.5 941.1,397.0 942.8,396.4 944.4,395.9 946.0,395.4 947.7,394.8 949.3,394.3 950.9,393.8 952.6,393.2 954.2,392.7 955.8,392.1 957.5,391.6 959.1,391.0 960.7,390.5 962.3,389.9 964.0,389.4 965.6,388.8 967.2,388.3 968.9,387.7 970.5,387.2 972.1,386.6 973.8,386.1 975.4,385.5 977.0,384.9 978.6,384.4 980.3,383.8 981.9,383.2 983.5,382.7 985.2,382.1 986.8,381.5 988.4,380.9 990.0,380.4 991.7,379.8 993.3,379.2 994.9,378.6 996.6,378.0 998.2,377.5 999.8,376.9 1001.5,376.3 1003.1,375.7 1004.7,375.1 1006.4,374.5 1008.0,373.9 1009.6,373.3 1011.2,372.7 1012.9,372.1 1014.5,371.5 1016.1,370.9 1017.8,370.3 1019.4,369.7 1021.0,369.1 1022.6,368.5 1024.3,367.9 1025.9,367.3 1027.5,366.7 1029.2,366.1 1030.8,365.5 1032.4,364.9 1034.1,364.2 1035.7,363.6 1037.3,363.0 1039.0,362.4 1040.6,361.8 1042.2,361.1 1043.8,360.5 1045.5,359.9 1047.1,359.3 1048.7,358.6 1050.4,358.0 1052.0,357.4 1053.6,356.7 1055.2,356.1 1056.9,355.5 1058.5,354.8 1060.1,354.2 1061.8,353.6 1063.4,352.9 1065.0,352.3 1066.7,351.6 1068.3,351.0 1069.9,350.4 1071.5,349.7 1073.2,349.1 1074.8,348.4 1076.4,347.8 1078.1,347.1 1079.7,346.5 1081.3,345.8 1083.0,345.1 1084.6,344.5 1086.2,343.8 1087.8,343.2 1089.5,342.5 1091.1,341.9 1092.7,341.2 1094.4,340.5 1096.0,339.9 1097.6,339.2 1099.3,338.5 1100.9,337.9 1102.5,337.2 1104.2,336.5 1105.8,335.9 1107.4,335.2 1109.0,334.5 1110.7,333.8 1112.3,333.2 1113.9,332.5 1115.6,331.8 1117.2,331.1 1118.8,330.5 1120.5,329.8 1122.1,329.1 1123.7,328.4 1125.3,327.7 1127.0,327.0 1128.6,326.4 1130.2,325.7 1131.9,325.0 1133.5,324.3 1135.1,323.6 1136.8,322.9 1138.4,322.2 1140.0,321.5 1141.6,320.8 1143.3,320.2 1144.9,319.5 1146.5,318.8 1148.2,318.1 1149.8,317.4 1151.4,316.7 1153.0,316.0 1154.7,315.3 1156.3,314.6 1157.9,313.9 1159.6,313.2 1161.2,312.5 1162.8,311.8 1164.5,311.1 1166.1,310.4 1167.7,309.7 1169.3,309.0 1171.0,308.3 1172.6,307.6 1174.2,306.8 1175.9,306.1 1177.5,305.4 1179.1,304.7 1180.8,304.0 1182.4,303.3 1184.0,302.6 1185.7,301.9 1187.3,301.2 1188.9,300.5 1190.5,299.7 1192.2,299.0 1193.8,298.3 1195.4,297.6 1197.1,296.9 1198.7,296.2 1200.3,295.5 1202.0,294.7 1203.6,294.0 1205.2,293.3 1206.8,292.6 1208.5,291.9 1210.1,291.2 1211.7,290.4 1213.4,289.7 1215.0,289.0 1216.6,288.3 1218.2,287.6 1219.9,286.8 1221.5,286.1 1223.1,285.4 1224.8,284.7 1226.4,284.0 1228.0,283.2 1229.7,282.5 1231.3,281.8 1232.9,281.1 1234.5,280.4 1236.2,279.6 1237.8,278.9 1239.4,278.2 1241.1,277.5 1242.7,276.7 1244.3,276.0 1246.0,275.3 1247.6,274.6 1249.2,273.8 1250.8,273.1 1252.5,272.4 1254.1,271.7 1255.7,270.9 1257.4,270.2 1259.0,269.5 1260.6,268.8 1262.3,268.1 1263.9,267.3 1265.5,266.6 1267.2,265.9 1268.8,265.2 1270.4,264.4 1272.0,263.7 1273.7,263.0 1275.3,262.3 1276.9,261.5 1278.6,260.8 1280.2,260.1 1281.8,259.4 1283.5,258.6 1285.1,257.9 1286.7,257.2 1288.3,256.5 1290.0,255.8 1291.6,255.0 1293.2,254.3 1294.9,253.6 1296.5,252.9 1298.1,252.2 1299.8,251.4 1301.4,250.7 1303.0,250.0 1304.6,249.3 1306.3,248.6 1307.9,247.8 1309.5,247.1 1311.2,246.4 1312.8,245.7 1314.4,245.0 1316.0,244.3 1317.7,243.5 1319.3,242.8 1320.9,242.1 1322.6,241.4 1324.2,240.7 1325.8,240.0 1327.5,239.3 1329.1,238.5 1330.7,237.8 1332.3,237.1 1334.0,236.4 1335.6,235.7 1337.2,235.0 1338.9,234.3 1340.5,233.6 1342.1,232.9 1343.8,232.2 1345.4,231.4 1347.0,230.7 1348.7,230.0 1350.3,229.3 1351.9,228.6 1353.5,227.9 1355.2,227.2 1356.8,226.5 1358.4,225.8 1360.1,225.1 1361.7,224.4 1363.3,223.7 1365.0,223.0 1366.6,222.3 1368.2,221.6 1369.8,220.9 1371.5,220.2 1373.1,219.5 1374.7,218.8 1376.4,218.2 1378.0,217.5 1379.6,216.8 1381.2,216.1 1382.9,215.4 1384.5,214.7 1386.1,214.0 1387.8,213.3 1389.4,212.6 1391.0,212.0 1392.7,211.3 1394.3,210.6 1395.9,209.9 1397.5,209.2 1399.2,208.5 1400.8,207.9 1402.4,207.2 1404.1,206.5 1405.7,205.8 1407.3,205.2 1409.0,204.5 1410.6,203.8 1412.2,203.1 1413.8,202.5 1415.5,201.8 1417.1,201.1 1418.7,200.5 1420.4,199.8 1422.0,199.1 1423.6,198.5 1425.3,197.8 1426.9,197.1 1428.5,196.5 1430.2,195.8 1431.8,195.2 1433.4,194.5 1435.0,193.9 1436.7,193.2 1438.3,192.5 1439.9,191.9 1441.6,191.2 1443.2,190.6 1444.8,189.9 1446.4,189.3 1448.1,188.6 1449.7,188.0 1451.3,187.4 1453.0,186.7 1454.6,186.1 1456.2,185.4 1457.9,184.8 1459.5,184.2 1461.1,183.5 1462.8,182.9 1464.4,182.3 1466.0,181.6 1467.6,181.0 1469.3,180.4 1470.9,179.7 1472.5,179.1 1474.2,178.5 1475.8,177.9 1477.4,177.2 1479.1,176.6 1480.7,176.0 1482.3,175.4 1483.9,174.8 1485.6,174.1 1487.2,173.5 1488.8,172.9 1490.5,172.3 1492.1,171.7 1493.7,171.1 1495.3,170.5 1497.0,169.9 1498.6,169.3 1500.2,168.7 1501.9,168.1 1503.5,167.5 1505.1,166.9 1506.8,166.3 1508.4,165.7 1510.0,165.1 1511.7,164.5 1513.3,163.9 1514.9,163.3 1516.5,162.7 1518.2,162.1 1519.8,161.5 1521.4,161.0 1523.1,160.4 1524.7,159.8 1526.3,159.2 1527.9,158.6 1529.6,158.1 1531.2,157.5 1532.8,156.9 1534.5,156.3 1536.1,155.8 1537.7,155.2 1539.4,154.6 1541.0,154.1 1542.6,153.5 1544.2,152.9 1545.9,152.4 1547.5,151.8 1549.1,151.3 1550.8,150.7 1552.4,150.2 1554.0,149.6 1555.7,149.1 1557.3,148.5 1558.9,148.0 1560.6,147.4 1562.2,146.9 1563.8,146.3 1565.4,145.8 1567.1,145.2 1568.7,144.7 1570.3,144.2 1572.0,143.6 1573.6,143.1 1575.2,142.6 1576.8,142.0 1578.5,141.5 1580.1,141.0 1581.7,140.5 1583.4,139.9 1585.0,139.4"/>
</g>
</g>
<g class="axes">
<path d="M386.91 761.2V1716.2M507.92 761.2V1716.2M628.93 761.2V1716.2M749.94 761.2V1716.2M870.95 761.2V1716.2M991.96 761.2V1716.2M1112.97 761.2V1716.2M1233.98 761.2V1716.2M1354.99 761.2V1716.2" stroke="#262626" stroke-opacity="0.15" stroke-width="2.0" fill="none"/>
<path d="M265.9 1620.7H1476M265.9 1525.2H1476M265.9 1429.7H1476M265.9 1334.2H1476M265.9 1238.7H1476M265.9 1143.2H1476M265.9 1047.7H1476M265.9 952.2H1476M265.9 856.7H1476" stroke="#262626" stroke-opacity="0.15" stroke-width="2.0" fill="none"/>
<path d="M386.91 1716.2v-12.5M386.91 761.2v12.5M507.92 1716.2v-12.5M507.92 761.2v12.5M628.93 1716.2v-12.5M628.93 761.2v12.5M749.94 1716.2v-12.5M749.94 761.2v12.5M870.95 1716.2v-12.5M870.95 761.2v12.5M991.96 1716.2v-12.5M991.96 761.2v12.5M1112.97 1716.2v-12.5M1112.97 761.2v12.5M1233.98 1716.2v-12.5M1233.98 761.2v12.5M1354.99 1716.2v-12.5M1354.99 761.2v12.5M265.9 1620.7h12.5M1476 1620.7h-12.5M265.9 1525.2h12.5M1476 1525.2h-12.5M265.9 1429.7h12.5M1476 1429.7h-12.5M265.9 1334.2h12.5M1476 1334.2h-12.5M265.9 1238.7h12.5M1476 1238.7h-12.5M265.9 1143.2h12.5M1476 1143.2h-12.5M265.9 1047.7h12.5M1476 1047.7h-12.5M265.9 952.2h12.5M1476 952.2h-12.5M265.9 856.7h12.5M1476 856.7h-12.5" stroke="#262626" stroke-width="2.0" fill="none"/>
<rect x="265.9" y="761.2" width="1210.1" height="955" stroke="#262626" stroke-width="2.0" fill="none"/>
<g class="tl" text-anchor="middle">
<text x="264.6" y="1762">-10</text>
<text x="385.61" y="1762">-8</text>
<text x="506.62" y="1762">-6</text>
<text x="627.63" y="1762">-4</text>
<text x="748.64" y="1762">-2</text>
<text x="870.15" y="1762">0</text>
<text x="991.16" y="1762">2</text>
<text x="1112.17" y="1762">4</text>
<text x="1233.18" y="1762">6</text>
<text x="1354.19" y="1762">8</text>
<text x="1475.2" y="1762">10</text>
</g>
<g class="tl" text-anchor="end">
<text x="250.2" y="1728">-1</text>
<text x="250.2" y="1632">-0.8</text>
<text x="250.2" y="1537">-0.6</text>
<text x="250.2" y="1441">-0.4</text>
<text x="250.2" y="1346">-0.2</text>
<text x="251.2" y="1250">0</text>
<text x="251.2" y="1155">0.2</text>
<text x="251.2" y="1059">0.4</text>
<text x="251.2" y="964">0.6</text>
<text x="251.2" y="868">0.8</text>
<text x="251.2" y="773">1</text>
</g>
<text class="tl" text-anchor="middle" x="868.95" y="1807">Variable</text>
<text class="tl" text-anchor="middle" transform="translate(178.75 1239.5) rotate(-90)">f(x,SC)</text>
<g fill="none" stroke-width="7.1" stroke-linejoin="round">
<polyline stroke="#0072BD" points="265.9,1238.7 268.9,1238.7 272.0,1238.7 275.0,1238.7 278.0,1238.7 281.0,1238.7 284.1,1238.7 287.1,1238.7 290.1,1238.7 293.1,1238.7 296.2,1238.7 299.2,1238.7 302.2,1238.7 305.2,1238.7 308.3,1238.7 311.3,1238.7 314.3,1238.7 317.3,1238.7 320.4,1238.7 323.4,1238.7 326.4,1238.7 329.4,1238.7 332.5,1238.7 335.5,1238.7 338.5,1238.7 341.5,1238.7 344.6,1238.7 347.6,1238.7 350.6,1238.7 353.6,1238.7 356.7,1238.7 359.7,1238.7 362.7,1238.7 365.7,1238.7 368.8,1238.7 371.8,1238.7 374.8,1238.7 377.8,1238.7 380.9,1238.7 383.9,1238.7 386.9,1238.7 389.9,1238.7 393.0,1238.7 396.0,1238.7 399.0,1238.7 402.0,1238.7 405.1,1238.7 408.1,1238.7 411.1,1238.7 414.1,1238.7 417.2,1238.7 420.2,1238.7 423.2,1238.7 426.2,1238.7 429.3,1238.7 432.3,1238.7 435.3,1238.7 438.3,1238.7 441.4,1238.7 444.4,1238.7 447.4,1238.7 450.4,1238.7 453.5,1238.7 456.5,1238.7 459.5,1238.7 462.5,1238.7 465.6,1238.7 468.6,1238.7 471.6,1238.7 474.6,1238.7 477.7,1238.7 480.7,1238.7 483.7,1238.7 486.7,1238.7 489.8,1238.7 492.8,1238.7 495.8,1238.7 498.8,1238.7 501.9,1238.7 504.9,1238.7 507.9,1238.7 510.9,1238.7 514.0,1238.7 517.0,1238.7 520.0,1238.7 523.0,1238.7 526.1,1238.7 529.1,1238.7 532.1,1238.7 535.1,1238.7 538.2,1238.7 541.2,1238.7 544.2,1238.8 547.2,1238.8 550.3,1238.8 553.3,1238.8 556.3,1238.8 559.3,1238.8 562.4,1238.9 565.4,1238.9 568.4,1238.9 571.5,1239.0 574.5,1239.0 577.5,1239.1 580.5,1239.1 583.6,1239.2 586.6,1239.3 589.6,1239.4 592.6,1239.5 595.7,1239.7 598.7,1239.8 601.7,1240.0 604.7,1240.2 607.8,1240.5 610.8,1240.8 613.8,1241.1 616.8,1241.5 619.9,1241.9 622.9,1242.4 625.9,1242.9 628.9,1243.6 632.0,1244.3 635.0,1245.1 638.0,1246.0 641.0,1247.0 644.1,1248.1 647.1,1249.4 650.1,1250.8 653.1,1252.4 656.2,1254.2 659.2,1256.2 662.2,1258.4 665.2,1260.8 668.3,1263.5 671.3,1266.5 674.3,1269.8 677.3,1273.3 680.4,1277.2 683.4,1281.5 686.4,1286.2 689.4,1291.2 692.5,1296.7 695.5,1302.7 698.5,1309.1 701.5,1316.0 704.6,1323.4 707.6,1331.3 710.6,1339.8 713.6,1348.8 716.7,1358.4 719.7,1368.5 722.7,1379.2 725.7,1390.5 728.8,1402.3 731.8,1414.6 734.8,1427.5 737.8,1440.9 740.9,1454.7 743.9,1468.9 746.9,1483.5 749.9,1498.4 753.0,1513.6 756.0,1528.9 759.0,1544.3 762.0,1559.7 765.1,1575.0 768.1,1590.1 771.1,1604.9 774.1,1619.3 777.2,1633.1 780.2,1646.2 783.2,1658.4 786.2,1669.7 789.3,1679.8 792.3,1688.7 795.3,1696.2 798.3,1702.2 801.4,1706.4 804.4,1708.9 807.4,1709.4 810.4,1707.8 813.5,1704.2 816.5,1698.3 819.5,1690.2 822.5,1679.7 825.6,1666.8 828.6,1651.6 831.6,1634.0 834.6,1614.1 837.7,1592.0 840.7,1567.6 843.7,1541.2 846.7,1512.9 849.8,1482.8 852.8,1451.1 855.8,1417.9 858.8,1383.6 861.9,1348.2 864.9,1312.1 867.9,1275.6 870.9,1238.7 874.0,1201.8 877.0,1165.3 880.0,1129.2 883.1,1093.8 886.1,1059.5 889.1,1026.3 892.1,994.6 895.2,964.5 898.2,936.2 901.2,909.8 904.2,885.4 907.3,863.3 910.3,843.4 913.3,825.8 916.3,810.6 919.4,797.7 922.4,787.2 925.4,779.1 928.4,773.2 931.5,769.6 934.5,768.0 937.5,768.5 940.5,771.0 943.6,775.2 946.6,781.2 949.6,788.7 952.6,797.6 955.7,807.7 958.7,819.0 961.7,831.2 964.7,844.3 967.8,858.1 970.8,872.5 973.8,887.3 976.8,902.4 979.9,917.7 982.9,933.1 985.9,948.5 988.9,963.8 992.0,979.0 995.0,993.9 998.0,1008.5 1001.0,1022.7 1004.1,1036.5 1007.1,1049.9 1010.1,1062.8 1013.1,1075.1 1016.2,1086.9 1019.2,1098.2 1022.2,1108.9 1025.2,1119.0 1028.3,1128.6 1031.3,1137.6 1034.3,1146.1 1037.3,1154.0 1040.4,1161.4 1043.4,1168.3 1046.4,1174.7 1049.4,1180.7 1052.5,1186.2 1055.5,1191.2 1058.5,1195.9 1061.5,1200.2 1064.6,1204.1 1067.6,1207.6 1070.6,1210.9 1073.6,1213.9 1076.7,1216.6 1079.7,1219.0 1082.7,1221.2 1085.7,1223.2 1088.8,1225.0 1091.8,1226.6 1094.8,1228.0 1097.8,1229.3 1100.9,1230.4 1103.9,1231.4 1106.9,1232.3 1109.9,1233.1 1113.0,1233.8 1116.0,1234.5 1119.0,1235.0 1122.0,1235.5 1125.1,1235.9 1128.1,1236.3 1131.1,1236.6 1134.1,1236.9 1137.2,1237.2 1140.2,1237.4 1143.2,1237.6 1146.2,1237.7 1149.3,1237.9 1152.3,1238.0 1155.3,1238.1 1158.3,1238.2 1161.4,1238.3 1164.4,1238.3 1167.4,1238.4 1170.4,1238.4 1173.5,1238.5 1176.5,1238.5 1179.5,1238.5 1182.6,1238.6 1185.6,1238.6 1188.6,1238.6 1191.6,1238.6 1194.7,1238.6 1197.7,1238.6 1200.7,1238.7 1203.7,1238.7 1206.8,1238.7 1209.8,1238.7 1212.8,1238.7 1215.8,1238.7 1218.9,1238.7 1221.9,1238.7 1224.9,1238.7 1227.9,1238.7 1231.0,1238.7 1234.0,1238.7 1237.0,1238.7 1240.0,1238.7 1243.1,1238.7 1246.1,1238.7 1249.1,1238.7 1252.1,1238.7 1255.2,1238.7 1258.2,1238.7 1261.2,1238.7 1264.2,1238.7 1267.3,1238.7 1270.3,1238.7 1273.3,1238.7 1276.3,1238.7 1279.4,1238.7 1282.4,1238.7 1285.4,1238.7 1288.4,1238.7 1291.5,1238.7 1294.5,1238.7 1297.5,1238.7 1300.5,1238.7 1303.6,1238.7 1306.6,1238.7 1309.6,1238.7 1312.6,1238.7 1315.7,1238.7 1318.7,1238.7 1321.7,1238.7 1324.7,1238.7 1327.8,1238.7 1330.8,1238.7 1333.8,1238.7 1336.8,1238.7 1339.9,1238.7 1342.9,1238.7 1345.9,1238.7 1348.9,1238.7 1352.0,1238.7 1355.0,1238.7 1358.0,1238.7 1361.0,1238.7 1364.1,1238.7 1367.1,1238.7 1370.1,1238.7 1373.1,1238.7 1376.2,1238.7 1379.2,1238.7 1382.2,1238.7 1385.2,1238.7 1388.3,1238.7 1391.3,1238.7 1394.3,1238.7 1397.3,1238.7 1400.4,1238.7 1403.4,1238.7 1406.4,1238.7 1409.4,1238.7 1412.5,1238.7 1415.5,1238.7 1418.5,1238.7 1421.5,1238.7 1424.6,1238.7 1427.6,1238.7 1430.6,1238.7 1433.6,1238.7 1436.7,1238.7 1439.7,1238.7 1442.7,1238.7 1445.7,1238.7 1448.8,1238.7 1451.8,1238.7 1454.8,1238.7 1457.8,1238.7 1460.9,1238.7 1463.9,1238.7 1466.9,1238.7 1469.9,1238.7 1473.0,1238.7 1476.0,1238.7"/>
<polyline stroke="#D95319" points="265.9,1238.9 268.9,1238.9 272.0,1239.0 275.0,1239.0 278.0,1239.0 281.0,1239.0 284.1,1239.1 287.1,1239.1 290.1,1239.1 293.1,1239.2 296.2,1239.2 299.2,1239.2 302.2,1239.3 305.2,1239.3 308.3,1239.4 311.3,1239.5 314.3,1239.5 317.3,1239.6 320.4,1239.7 323.4,1239.7 326.4,1239.8 329.4,1239.9 332.5,1240.0 335.5,1240.1 338.5,1240.2 341.5,1240.3 344.6,1240.5 347.6,1240.6 350.6,1240.8 353.6,1240.9 356.7,1241.1 359.7,1241.3 362.7,1241.5 365.7,1241.7 368.8,1241.9 371.8,1242.1 374.8,1242.4 377.8,1242.6 380.9,1242.9 383.9,1243.2 386.9,1243.6 389.9,1243.9 393.0,1244.3 396.0,1244.7 399.0,1245.1 402.0,1245.5 405.1,1246.0 408.1,1246.5 411.1,1247.0 414.1,1247.5 417.2,1248.1 420.2,1248.8 423.2,1249.4 426.2,1250.1 429.3,1250.8 432.3,1251.6 435.3,1252.4 438.3,1253.3 441.4,1254.2 444.4,1255.2 447.4,1256.2 450.4,1257.3 453.5,1258.4 456.5,1259.6 459.5,1260.8 462.5,1262.2 465.6,1263.5 468.6,1265.0 471.6,1266.5 474.6,1268.1 477.7,1269.8 480.7,1271.5 483.7,1273.3 486.7,1275.2 489.8,1277.2 492.8,1279.3 495.8,1281.5 498.8,1283.8 501.9,1286.2 504.9,1288.7 507.9,1291.2 510.9,1293.9 514.0,1296.7 517.0,1299.6 520.0,1302.7 523.0,1305.8 526.1,1309.1 529.1,1312.5 532.1,1316.0 535.1,1319.6 538.2,1323.4 541.2,1327.3 544.2,1331.3 547.2,1335.5 550.3,1339.8 553.3,1344.2 556.3,1348.8 559.3,1353.5 562.4,1358.4 565.4,1363.4 568.4,1368.5 571.5,1373.8 574.5,1379.2 577.5,1384.8 580.5,1390.5 583.6,1396.3 586.6,1402.3 589.6,1408.4 592.6,1414.6 595.7,1421.0 598.7,1427.5 601.7,1434.1 604.7,1440.9 607.8,1447.7 610.8,1454.7 613.8,1461.7 616.8,1468.9 619.9,1476.2 622.9,1483.5 625.9,1490.9 628.9,1498.4 632.0,1506.0 635.0,1513.6 638.0,1521.2 641.0,1528.9 644.1,1536.6 647.1,1544.3 650.1,1552.0 653.1,1559.7 656.2,1567.4 659.2,1575.0 662.2,1582.6 665.2,1590.1 668.3,1597.6 671.3,1604.9 674.3,1612.2 677.3,1619.3 680.4,1626.3 683.4,1633.1 686.4,1639.7 689.4,1646.2 692.5,1652.4 695.5,1658.4 698.5,1664.2 701.5,1669.7 704.6,1674.9 707.6,1679.8 710.6,1684.5 713.6,1688.7 716.7,1692.7 719.7,1696.2 722.7,1699.4 725.7,1702.2 728.8,1704.5 731.8,1706.4 734.8,1707.9 737.8,1708.9 740.9,1709.4 743.9,1709.4 746.9,1708.9 749.9,1707.8 753.0,1706.3 756.0,1704.2 759.0,1701.5 762.0,1698.3 765.1,1694.5 768.1,1690.2 771.1,1685.2 774.1,1679.7 777.2,1673.5 780.2,1666.8 783.2,1659.5 786.2,1651.6 789.3,1643.1 792.3,1634.0 795.3,1624.3 798.3,1614.1 801.4,1603.3 804.4,1592.0 807.4,1580.1 810.4,1567.6 813.5,1554.7 816.5,1541.2 819.5,1527.3 822.5,1512.9 825.6,1498.1 828.6,1482.8 831.6,1467.1 834.6,1451.1 837.7,1434.7 840.7,1417.9 843.7,1400.9 846.7,1383.6 849.8,1366.0 852.8,1348.2 855.8,1330.3 858.8,1312.1 861.9,1293.9 864.9,1275.6 867.9,1257.1 870.9,1238.7 874.0,1220.3 877.0,1201.8 880.0,1183.5 883.1,1165.3 886.1,1147.1 889.1,1129.2 892.1,1111.4 895.2,1093.8 898.2,1076.5 901.2,1059.5 904.2,1042.7 907.3,1026.3 910.3,1010.3 913.3,994.6 916.3,979.3 919.4,964.5 922.4,950.1 925.4,936.2 928.4,922.7 931.5,909.8 934.5,897.3 937.5,885.4 940.5,874.1 943.6,863.3 946.6,853.1 949.6,843.4 952.6,834.3 955.7,825.8 958.7,817.9 961.7,810.6 964.7,803.9 967.8,797.7 970.8,792.2 973.8,787.2 976.8,782.9 979.9,779.1 982.9,775.9 985.9,773.2 988.9,771.1 992.0,769.6 995.0,768.5 998.0,768.0 1001.0,768.0 1004.1,768.5 1007.1,769.5 1010.1,771.0 1013.1,772.9 1016.2,775.2 1019.2,778.0 1022.2,781.2 1025.2,784.7 1028.3,788.7 1031.3,792.9 1034.3,797.6 1037.3,802.5 1040.4,807.7 1043.4,813.2 1046.4,819.0 1049.4,825.0 1052.5,831.2 1055.5,837.7 1058.5,844.3 1061.5,851.1 1064.6,858.1 1067.6,865.2 1070.6,872.5 1073.6,879.8 1076.7,887.3 1079.7,894.8 1082.7,902.4 1085.7,910.0 1088.8,917.7 1091.8,925.4 1094.8,933.1 1097.8,940.8 1100.9,948.5 1103.9,956.2 1106.9,963.8 1109.9,971.4 1113.0,979.0 1116.0,986.5 1119.0,993.9 1122.0,1001.2 1125.1,1008.5 1128.1,1015.7 1131.1,1022.7 1134.1,1029.7 1137.2,1036.5 1140.2,1043.3 1143.2,1049.9 1146.2,1056.4 1149.3,1062.8 1152.3,1069.0 1155.3,1075.1 1158.3,1081.1 1161.4,1086.9 1164.4,1092.6 1167.4,1098.2 1170.4,1103.6 1173.5,1108.9 1176.5,1114.0 1179.5,1119.0 1182.6,1123.9 1185.6,1128.6 1188.6,1133.2 1191.6,1137.6 1194.7,1141.9 1197.7,1146.1 1200.7,1150.1 1203.7,1154.0 1206.8,1157.8 1209.8,1161.4 1212.8,1164.9 1215.8,1168.3 1218.9,1171.6 1221.9,1174.7 1224.9,1177.8 1227.9,1180.7 1231.0,1183.5 1234.0,1186.2 1237.0,1188.7 1240.0,1191.2 1243.1,1193.6 1246.1,1195.9 1249.1,1198.1 1252.1,1200.2 1255.2,1202.2 1258.2,1204.1 1261.2,1205.9 1264.2,1207.6 1267.3,1209.3 1270.3,1210.9 1273.3,1212.4 1276.3,1213.9 1279.4,1215.2 1282.4,1216.6 1285.4,1217.8 1288.4,1219.0 1291.5,1220.1 1294.5,1221.2 1297.5,1222.2 1300.5,1223.2 1303.6,1224.1 1306.6,1225.0 1309.6,1225.8 1312.6,1226.6 1315.7,1227.3 1318.7,1228.0 1321.7,1228.6 1324.7,1229.3 1327.8,1229.9 1330.8,1230.4 1333.8,1230.9 1336.8,1231.4 1339.9,1231.9 1342.9,1232.3 1345.9,1232.7 1348.9,1233.1 1352.0,1233.5 1355.0,1233.8 1358.0,1234.2 1361.0,1234.5 1364.1,1234.8 1367.1,1235.0 1370.1,1235.3 1373.1,1235.5 1376.2,1235.7 1379.2,1235.9 1382.2,1236.1 1385.2,1236.3 1388.3,1236.5 1391.3,1236.6 1394.3,1236.8 1397.3,1236.9 1400.4,1237.1 1403.4,1237.2 1406.4,1237.3 1409.4,1237.4 1412.5,1237.5 1415.5,1237.6 1418.5,1237.7 1421.5,1237.7 1424.6,1237.8 1427.6,1237.9 1430.6,1237.9 1433.6,1238.0 1436.7,1238.1 1439.7,1238.1 1442.7,1238.2 1445.7,1238.2 1448.8,1238.2 1451.8,1238.3 1454.8,1238.3 1457.8,1238.3 1460.9,1238.4 1463.9,1238.4 1466.9,1238.4 1469.9,1238.4 1473.0,1238.5 1476.0,1238.5"/>
<polyline stroke="#EDB120" points="265.9,1264.5 268.9,1265.5 272.0,1266.5 275.0,1267.6 278.0,1268.6 281.0,1269.8 284.1,1270.9 287.1,1272.1 290.1,1273.3 293.1,1274.6 296.2,1275.9 299.2,1277.2 302.2,1278.6 305.2,1280.1 308.3,1281.5 311.3,1283.0 314.3,1284.6 317.3,1286.2 320.4,1287.8 323.4,1289.5 326.4,1291.2 329.4,1293.0 332.5,1294.9 335.5,1296.7 338.5,1298.7 341.5,1300.6 344.6,1302.7 347.6,1304.8 350.6,1306.9 353.6,1309.1 356.7,1311.3 359.7,1313.6 362.7,1316.0 365.7,1318.4 368.8,1320.9 371.8,1323.4 374.8,1326.0 377.8,1328.6 380.9,1331.3 383.9,1334.1 386.9,1336.9 389.9,1339.8 393.0,1342.7 396.0,1345.7 399.0,1348.8 402.0,1351.9 405.1,1355.1 408.1,1358.4 411.1,1361.7 414.1,1365.1 417.2,1368.5 420.2,1372.0 423.2,1375.6 426.2,1379.2 429.3,1382.9 432.3,1386.7 435.3,1390.5 438.3,1394.4 441.4,1398.3 444.4,1402.3 447.4,1406.3 450.4,1410.5 453.5,1414.6 456.5,1418.9 459.5,1423.2 462.5,1427.5 465.6,1431.9 468.6,1436.4 471.6,1440.9 474.6,1445.4 477.7,1450.0 480.7,1454.7 483.7,1459.4 486.7,1464.1 489.8,1468.9 492.8,1473.7 495.8,1478.6 498.8,1483.5 501.9,1488.4 504.9,1493.4 507.9,1498.4 510.9,1503.4 514.0,1508.5 517.0,1513.6 520.0,1518.7 523.0,1523.8 526.1,1528.9 529.1,1534.0 532.1,1539.2 535.1,1544.3 538.2,1549.4 541.2,1554.6 544.2,1559.7 547.2,1564.8 550.3,1569.9 553.3,1575.0 556.3,1580.1 559.3,1585.1 562.4,1590.1 565.4,1595.1 568.4,1600.1 571.5,1604.9 574.5,1609.8 577.5,1614.6 580.5,1619.3 583.6,1624.0 586.6,1628.6 589.6,1633.1 592.6,1637.5 595.7,1641.9 598.7,1646.2 601.7,1650.4 604.7,1654.4 607.8,1658.4 610.8,1662.3 613.8,1666.1 616.8,1669.7 619.9,1673.2 622.9,1676.6 625.9,1679.8 628.9,1683.0 632.0,1685.9 635.0,1688.7 638.0,1691.4 641.0,1693.9 644.1,1696.2 647.1,1698.4 650.1,1700.4 653.1,1702.2 656.2,1703.8 659.2,1705.2 662.2,1706.4 665.2,1707.4 668.3,1708.2 671.3,1708.9 674.3,1709.2 677.3,1709.4 680.4,1709.4 683.4,1709.1 686.4,1708.6 689.4,1707.8 692.5,1706.9 695.5,1705.6 698.5,1704.2 701.5,1702.5 704.6,1700.5 707.6,1698.3 710.6,1695.8 713.6,1693.1 716.7,1690.2 719.7,1686.9 722.7,1683.4 725.7,1679.7 728.8,1675.6 731.8,1671.4 734.8,1666.8 737.8,1662.0 740.9,1656.9 743.9,1651.6 746.9,1646.0 749.9,1640.1 753.0,1634.0 756.0,1627.6 759.0,1621.0 762.0,1614.1 765.1,1607.0 768.1,1599.6 771.1,1592.0 774.1,1584.1 777.2,1576.0 780.2,1567.6 783.2,1559.1 786.2,1550.3 789.3,1541.2 792.3,1532.0 795.3,1522.6 798.3,1512.9 801.4,1503.1 804.4,1493.0 807.4,1482.8 810.4,1472.4 813.5,1461.8 816.5,1451.1 819.5,1440.2 822.5,1429.1 825.6,1417.9 828.6,1406.6 831.6,1395.2 834.6,1383.6 837.7,1371.9 840.7,1360.1 843.7,1348.2 846.7,1336.3 849.8,1324.2 852.8,1312.1 855.8,1300.0 858.8,1287.8 861.9,1275.6 864.9,1263.3 867.9,1251.0 870.9,1238.7 874.0,1226.4 877.0,1214.1 880.0,1201.8 883.1,1189.6 886.1,1177.4 889.1,1165.3 892.1,1153.2 895.2,1141.1 898.2,1129.2 901.2,1117.3 904.2,1105.5 907.3,1093.8 910.3,1082.2 913.3,1070.8 916.3,1059.5 919.4,1048.3 922.4,1037.2 925.4,1026.3 928.4,1015.6 931.5,1005.0 934.5,994.6 937.5,984.4 940.5,974.3 943.6,964.5 946.6,954.8 949.6,945.4 952.6,936.2 955.7,927.1 958.7,918.3 961.7,909.8 964.7,901.4 967.8,893.3 970.8,885.4 973.8,877.8 976.8,870.4 979.9,863.3 982.9,856.4 985.9,849.8 988.9,843.4 992.0,837.3 995.0,831.4 998.0,825.8 1001.0,820.5 1004.1,815.4 1007.1,810.6 1010.1,806.0 1013.1,801.8 1016.2,797.7 1019.2,794.0 1022.2,790.5 1025.2,787.2 1028.3,784.3 1031.3,781.6 1034.3,779.1 1037.3,776.9 1040.4,774.9 1043.4,773.2 1046.4,771.8 1049.4,770.5 1052.5,769.6 1055.5,768.8 1058.5,768.3 1061.5,768.0 1064.6,768.0 1067.6,768.2 1070.6,768.5 1073.6,769.2 1076.7,770.0 1079.7,771.0 1082.7,772.2 1085.7,773.6 1088.8,775.2 1091.8,777.0 1094.8,779.0 1097.8,781.2 1100.9,783.5 1103.9,786.0 1106.9,788.7 1109.9,791.5 1113.0,794.4 1116.0,797.6 1119.0,800.8 1122.0,804.2 1125.1,807.7 1128.1,811.3 1131.1,815.1 1134.1,819.0 1137.2,823.0 1140.2,827.0 1143.2,831.2 1146.2,835.5 1149.3,839.9 1152.3,844.3 1155.3,848.8 1158.3,853.4 1161.4,858.1 1164.4,862.8 1167.4,867.6 1170.4,872.5 1173.5,877.3 1176.5,882.3 1179.5,887.3 1182.6,892.3 1185.6,897.3 1188.6,902.4 1191.6,907.5 1194.7,912.6 1197.7,917.7 1200.7,922.8 1203.7,928.0 1206.8,933.1 1209.8,938.2 1212.8,943.4 1215.8,948.5 1218.9,953.6 1221.9,958.7 1224.9,963.8 1227.9,968.9 1231.0,974.0 1234.0,979.0 1237.0,984.0 1240.0,989.0 1243.1,993.9 1246.1,998.8 1249.1,1003.7 1252.1,1008.5 1255.2,1013.3 1258.2,1018.0 1261.2,1022.7 1264.2,1027.4 1267.3,1032.0 1270.3,1036.5 1273.3,1041.0 1276.3,1045.5 1279.4,1049.9 1282.4,1054.2 1285.4,1058.5 1288.4,1062.8 1291.5,1066.9 1294.5,1071.1 1297.5,1075.1 1300.5,1079.1 1303.6,1083.0 1306.6,1086.9 1309.6,1090.7 1312.6,1094.5 1315.7,1098.2 1318.7,1101.8 1321.7,1105.4 1324.7,1108.9 1327.8,1112.3 1330.8,1115.7 1333.8,1119.0 1336.8,1122.3 1339.9,1125.5 1342.9,1128.6 1345.9,1131.7 1348.9,1134.7 1352.0,1137.6 1355.0,1140.5 1358.0,1143.3 1361.0,1146.1 1364.1,1148.8 1367.1,1151.4 1370.1,1154.0 1373.1,1156.5 1376.2,1159.0 1379.2,1161.4 1382.2,1163.8 1385.2,1166.1 1388.3,1168.3 1391.3,1170.5 1394.3,1172.6 1397.3,1174.7 1400.4,1176.8 1403.4,1178.7 1406.4,1180.7 1409.4,1182.5 1412.5,1184.4 1415.5,1186.2 1418.5,1187.9 1421.5,1189.6 1424.6,1191.2 1427.6,1192.8 1430.6,1194.4 1433.6,1195.9 1436.7,1197.3 1439.7,1198.8 1442.7,1200.2 1445.7,1201.5 1448.8,1202.8 1451.8,1204.1 1454.8,1205.3 1457.8,1206.5 1460.9,1207.6 1463.9,1208.8 1466.9,1209.8 1469.9,1210.9 1473.0,1211.9 1476.0,1212.9"/>
<polyline stroke="#7E2F8E" points="265.9,1368.5 268.9,1371.1 272.0,1373.8 275.0,1376.5 278.0,1379.2 281.0,1382.0 284.1,1384.8 287.1,1387.6 290.1,1390.5 293.1,1393.4 296.2,1396.3 299.2,1399.3 302.2,1402.3 305.2,1405.3 308.3,1408.4 311.3,1411.5 314.3,1414.6 317.3,1417.8 320.4,1421.0 323.4,1424.2 326.4,1427.5 329.4,1430.8 332.5,1434.1 335.5,1437.5 338.5,1440.9 341.5,1444.3 344.6,1447.7 347.6,1451.2 350.6,1454.7 353.6,1458.2 356.7,1461.7 359.7,1465.3 362.7,1468.9 365.7,1472.5 368.8,1476.2 371.8,1479.8 374.8,1483.5 377.8,1487.2 380.9,1490.9 383.9,1494.7 386.9,1498.4 389.9,1502.2 393.0,1506.0 396.0,1509.8 399.0,1513.6 402.0,1517.4 405.1,1521.2 408.1,1525.0 411.1,1528.9 414.1,1532.7 417.2,1536.6 420.2,1540.4 423.2,1544.3 426.2,1548.2 429.3,1552.0 432.3,1555.9 435.3,1559.7 438.3,1563.6 441.4,1567.4 444.4,1571.2 447.4,1575.0 450.4,1578.8 453.5,1582.6 456.5,1586.4 459.5,1590.1 462.5,1593.9 465.6,1597.6 468.6,1601.3 471.6,1604.9 474.6,1608.6 477.7,1612.2 480.7,1615.8 483.7,1619.3 486.7,1622.8 489.8,1626.3 492.8,1629.7 495.8,1633.1 498.8,1636.4 501.9,1639.7 504.9,1643.0 507.9,1646.2 510.9,1649.3 514.0,1652.4 517.0,1655.4 520.0,1658.4 523.0,1661.3 526.1,1664.2 529.1,1667.0 532.1,1669.7 535.1,1672.3 538.2,1674.9 541.2,1677.4 544.2,1679.8 547.2,1682.2 550.3,1684.5 553.3,1686.6 556.3,1688.7 559.3,1690.7 562.4,1692.7 565.4,1694.5 568.4,1696.2 571.5,1697.9 574.5,1699.4 577.5,1700.8 580.5,1702.2 583.6,1703.4 586.6,1704.5 589.6,1705.5 592.6,1706.4 595.7,1707.2 598.7,1707.9 601.7,1708.4 604.7,1708.9 607.8,1709.2 610.8,1709.4 613.8,1709.4 616.8,1709.4 619.9,1709.2 622.9,1708.9 625.9,1708.4 628.9,1707.8 632.0,1707.1 635.0,1706.3 638.0,1705.3 641.0,1704.2 644.1,1702.9 647.1,1701.5 650.1,1700.0 653.1,1698.3 656.2,1696.5 659.2,1694.5 662.2,1692.4 665.2,1690.2 668.3,1687.7 671.3,1685.2 674.3,1682.5 677.3,1679.7 680.4,1676.7 683.4,1673.5 686.4,1670.2 689.4,1666.8 692.5,1663.2 695.5,1659.5 698.5,1655.6 701.5,1651.6 704.6,1647.4 707.6,1643.1 710.6,1638.6 713.6,1634.0 716.7,1629.3 719.7,1624.3 722.7,1619.3 725.7,1614.1 728.8,1608.8 731.8,1603.3 734.8,1597.7 737.8,1592.0 740.9,1586.1 743.9,1580.1 746.9,1573.9 749.9,1567.6 753.0,1561.2 756.0,1554.7 759.0,1548.0 762.0,1541.2 765.1,1534.3 768.1,1527.3 771.1,1520.2 774.1,1512.9 777.2,1505.5 780.2,1498.1 783.2,1490.5 786.2,1482.8 789.3,1475.0 792.3,1467.1 795.3,1459.1 798.3,1451.1 801.4,1442.9 804.4,1434.7 807.4,1426.3 810.4,1417.9 813.5,1409.4 816.5,1400.9 819.5,1392.3 822.5,1383.6 825.6,1374.8 828.6,1366.0 831.6,1357.2 834.6,1348.2 837.7,1339.3 840.7,1330.3 843.7,1321.2 846.7,1312.1 849.8,1303.0 852.8,1293.9 855.8,1284.7 858.8,1275.6 861.9,1266.4 864.9,1257.1 867.9,1247.9 870.9,1238.7 874.0,1229.5 877.0,1220.3 880.0,1211.0 883.1,1201.8 886.1,1192.7 889.1,1183.5 892.1,1174.4 895.2,1165.3 898.2,1156.2 901.2,1147.1 904.2,1138.1 907.3,1129.2 910.3,1120.2 913.3,1111.4 916.3,1102.6 919.4,1093.8 922.4,1085.1 925.4,1076.5 928.4,1068.0 931.5,1059.5 934.5,1051.1 937.5,1042.7 940.5,1034.5 943.6,1026.3 946.6,1018.3 949.6,1010.3 952.6,1002.4 955.7,994.6 958.7,986.9 961.7,979.3 964.7,971.9 967.8,964.5 970.8,957.2 973.8,950.1 976.8,943.1 979.9,936.2 982.9,929.4 985.9,922.7 988.9,916.2 992.0,909.8 995.0,903.5 998.0,897.3 1001.0,891.3 1004.1,885.4 1007.1,879.7 1010.1,874.1 1013.1,868.6 1016.2,863.3 1019.2,858.1 1022.2,853.1 1025.2,848.1 1028.3,843.4 1031.3,838.8 1034.3,834.3 1037.3,830.0 1040.4,825.8 1043.4,821.8 1046.4,817.9 1049.4,814.2 1052.5,810.6 1055.5,807.2 1058.5,803.9 1061.5,800.7 1064.6,797.7 1067.6,794.9 1070.6,792.2 1073.6,789.7 1076.7,787.2 1079.7,785.0 1082.7,782.9 1085.7,780.9 1088.8,779.1 1091.8,777.4 1094.8,775.9 1097.8,774.5 1100.9,773.2 1103.9,772.1 1106.9,771.1 1109.9,770.3 1113.0,769.6 1116.0,769.0 1119.0,768.5 1122.0,768.2 1125.1,768.0 1128.1,768.0 1131.1,768.0 1134.1,768.2 1137.2,768.5 1140.2,769.0 1143.2,769.5 1146.2,770.2 1149.3,771.0 1152.3,771.9 1155.3,772.9 1158.3,774.0 1161.4,775.2 1164.4,776.6 1167.4,778.0 1170.4,779.5 1173.5,781.2 1176.5,782.9 1179.5,784.7 1182.6,786.7 1185.6,788.7 1188.6,790.8 1191.6,792.9 1194.7,795.2 1197.7,797.6 1200.7,800.0 1203.7,802.5 1206.8,805.1 1209.8,807.7 1212.8,810.4 1215.8,813.2 1218.9,816.1 1221.9,819.0 1224.9,822.0 1227.9,825.0 1231.0,828.1 1234.0,831.2 1237.0,834.4 1240.0,837.7 1243.1,841.0 1246.1,844.3 1249.1,847.7 1252.1,851.1 1255.2,854.6 1258.2,858.1 1261.2,861.6 1264.2,865.2 1267.3,868.8 1270.3,872.5 1273.3,876.1 1276.3,879.8 1279.4,883.5 1282.4,887.3 1285.4,891.0 1288.4,894.8 1291.5,898.6 1294.5,902.4 1297.5,906.2 1300.5,910.0 1303.6,913.8 1306.6,917.7 1309.6,921.5 1312.6,925.4 1315.7,929.2 1318.7,933.1 1321.7,937.0 1324.7,940.8 1327.8,944.7 1330.8,948.5 1333.8,952.4 1336.8,956.2 1339.9,960.0 1342.9,963.8 1345.9,967.6 1348.9,971.4 1352.0,975.2 1355.0,979.0 1358.0,982.7 1361.0,986.5 1364.1,990.2 1367.1,993.9 1370.1,997.6 1373.1,1001.2 1376.2,1004.9 1379.2,1008.5 1382.2,1012.1 1385.2,1015.7 1388.3,1019.2 1391.3,1022.7 1394.3,1026.2 1397.3,1029.7 1400.4,1033.1 1403.4,1036.5 1406.4,1039.9 1409.4,1043.3 1412.5,1046.6 1415.5,1049.9 1418.5,1053.2 1421.5,1056.4 1424.6,1059.6 1427.6,1062.8 1430.6,1065.9 1433.6,1069.0 1436.7,1072.1 1439.7,1075.1 1442.7,1078.1 1445.7,1081.1 1448.8,1084.0 1451.8,1086.9 1454.8,1089.8 1457.8,1092.6 1460.9,1095.4 1463.9,1098.2 1466.9,1100.9 1469.9,1103.6 1473.0,1106.3 1476.0,1108.9"/>
<polyline stroke="#77AC30" points="265.9,1498.4 268.9,1501.4 272.0,1504.4 275.0,1507.5 278.0,1510.5 281.0,1513.6 284.1,1516.6 287.1,1519.7 290.1,1522.7 293.1,1525.8 296.2,1528.9 299.2,1532.0 302.2,1535.0 305.2,1538.1 308.3,1541.2 311.3,1544.3 314.3,1547.4 317.3,1550.5 320.4,1553.6 323.4,1556.6 326.4,1559.7 329.4,1562.8 332.5,1565.9 335.5,1568.9 338.5,1572.0 341.5,1575.0 344.6,1578.1 347.6,1581.1 350.6,1584.1 353.6,1587.1 356.7,1590.1 359.7,1593.1 362.7,1596.1 365.7,1599.1 368.8,1602.0 371.8,1604.9 374.8,1607.9 377.8,1610.7 380.9,1613.6 383.9,1616.5 386.9,1619.3 389.9,1622.1 393.0,1624.9 396.0,1627.6 399.0,1630.4 402.0,1633.1 405.1,1635.8 408.1,1638.4 411.1,1641.0 414.1,1643.6 417.2,1646.2 420.2,1648.7 423.2,1651.2 426.2,1653.6 429.3,1656.0 432.3,1658.4 435.3,1660.8 438.3,1663.1 441.4,1665.3 444.4,1667.5 447.4,1669.7 450.4,1671.8 453.5,1673.9 456.5,1675.9 459.5,1677.9 462.5,1679.8 465.6,1681.7 468.6,1683.6 471.6,1685.3 474.6,1687.1 477.7,1688.7 480.7,1690.3 483.7,1691.9 486.7,1693.4 489.8,1694.8 492.8,1696.2 495.8,1697.5 498.8,1698.8 501.9,1700.0 504.9,1701.1 507.9,1702.2 510.9,1703.1 514.0,1704.1 517.0,1704.9 520.0,1705.7 523.0,1706.4 526.1,1707.0 529.1,1707.6 532.1,1708.1 535.1,1708.5 538.2,1708.9 541.2,1709.1 544.2,1709.3 547.2,1709.4 550.3,1709.4 553.3,1709.4 556.3,1709.2 559.3,1709.0 562.4,1708.7 565.4,1708.3 568.4,1707.8 571.5,1707.3 574.5,1706.6 577.5,1705.9 580.5,1705.1 583.6,1704.2 586.6,1703.2 589.6,1702.1 592.6,1700.9 595.7,1699.7 598.7,1698.3 601.7,1696.9 604.7,1695.3 607.8,1693.7 610.8,1692.0 613.8,1690.2 616.8,1688.2 619.9,1686.2 622.9,1684.1 625.9,1681.9 628.9,1679.7 632.0,1677.3 635.0,1674.8 638.0,1672.2 641.0,1669.6 644.1,1666.8 647.1,1664.0 650.1,1661.0 653.1,1658.0 656.2,1654.8 659.2,1651.6 662.2,1648.3 665.2,1644.8 668.3,1641.3 671.3,1637.7 674.3,1634.0 677.3,1630.2 680.4,1626.3 683.4,1622.3 686.4,1618.3 689.4,1614.1 692.5,1609.9 695.5,1605.5 698.5,1601.1 701.5,1596.6 704.6,1592.0 707.6,1587.3 710.6,1582.5 713.6,1577.6 716.7,1572.7 719.7,1567.6 722.7,1562.5 725.7,1557.3 728.8,1552.0 731.8,1546.7 734.8,1541.2 737.8,1535.7 740.9,1530.1 743.9,1524.5 746.9,1518.7 749.9,1512.9 753.0,1507.0 756.0,1501.1 759.0,1495.0 762.0,1489.0 765.1,1482.8 768.1,1476.6 771.1,1470.3 774.1,1463.9 777.2,1457.5 780.2,1451.1 783.2,1444.6 786.2,1438.0 789.3,1431.3 792.3,1424.7 795.3,1417.9 798.3,1411.2 801.4,1404.3 804.4,1397.5 807.4,1390.5 810.4,1383.6 813.5,1376.6 816.5,1369.5 819.5,1362.5 822.5,1355.4 825.6,1348.2 828.6,1341.1 831.6,1333.9 834.6,1326.7 837.7,1319.4 840.7,1312.1 843.7,1304.9 846.7,1297.6 849.8,1290.2 852.8,1282.9 855.8,1275.6 858.8,1268.2 861.9,1260.8 864.9,1253.5 867.9,1246.1 870.9,1238.7 874.0,1231.3 877.0,1223.9 880.0,1216.6 883.1,1209.2 886.1,1201.8 889.1,1194.5 892.1,1187.2 895.2,1179.8 898.2,1172.5 901.2,1165.3 904.2,1158.0 907.3,1150.7 910.3,1143.5 913.3,1136.3 916.3,1129.2 919.4,1122.0 922.4,1114.9 925.4,1107.9 928.4,1100.8 931.5,1093.8 934.5,1086.9 937.5,1079.9 940.5,1073.1 943.6,1066.2 946.6,1059.5 949.6,1052.7 952.6,1046.1 955.7,1039.4 958.7,1032.8 961.7,1026.3 964.7,1019.9 967.8,1013.5 970.8,1007.1 973.8,1000.8 976.8,994.6 979.9,988.4 982.9,982.4 985.9,976.3 988.9,970.4 992.0,964.5 995.0,958.7 998.0,952.9 1001.0,947.3 1004.1,941.7 1007.1,936.2 1010.1,930.7 1013.1,925.4 1016.2,920.1 1019.2,914.9 1022.2,909.8 1025.2,904.7 1028.3,899.8 1031.3,894.9 1034.3,890.1 1037.3,885.4 1040.4,880.8 1043.4,876.3 1046.4,871.9 1049.4,867.5 1052.5,863.3 1055.5,859.1 1058.5,855.1 1061.5,851.1 1064.6,847.2 1067.6,843.4 1070.6,839.7 1073.6,836.1 1076.7,832.6 1079.7,829.1 1082.7,825.8 1085.7,822.6 1088.8,819.4 1091.8,816.4 1094.8,813.4 1097.8,810.6 1100.9,807.8 1103.9,805.2 1106.9,802.6 1109.9,800.1 1113.0,797.7 1116.0,795.5 1119.0,793.3 1122.0,791.2 1125.1,789.2 1128.1,787.2 1131.1,785.4 1134.1,783.7 1137.2,782.1 1140.2,780.5 1143.2,779.1 1146.2,777.7 1149.3,776.5 1152.3,775.3 1155.3,774.2 1158.3,773.2 1161.4,772.3 1164.4,771.5 1167.4,770.8 1170.4,770.1 1173.5,769.6 1176.5,769.1 1179.5,768.7 1182.6,768.4 1185.6,768.2 1188.6,768.0 1191.6,768.0 1194.7,768.0 1197.7,768.1 1200.7,768.3 1203.7,768.5 1206.8,768.9 1209.8,769.3 1212.8,769.8 1215.8,770.4 1218.9,771.0 1221.9,771.7 1224.9,772.5 1227.9,773.3 1231.0,774.3 1234.0,775.2 1237.0,776.3 1240.0,777.4 1243.1,778.6 1246.1,779.9 1249.1,781.2 1252.1,782.6 1255.2,784.0 1258.2,785.5 1261.2,787.1 1264.2,788.7 1267.3,790.3 1270.3,792.1 1273.3,793.8 1276.3,795.7 1279.4,797.6 1282.4,799.5 1285.4,801.5 1288.4,803.5 1291.5,805.6 1294.5,807.7 1297.5,809.9 1300.5,812.1 1303.6,814.3 1306.6,816.6 1309.6,819.0 1312.6,821.4 1315.7,823.8 1318.7,826.2 1321.7,828.7 1324.7,831.2 1327.8,833.8 1330.8,836.4 1333.8,839.0 1336.8,841.6 1339.9,844.3 1342.9,847.0 1345.9,849.8 1348.9,852.5 1352.0,855.3 1355.0,858.1 1358.0,860.9 1361.0,863.8 1364.1,866.7 1367.1,869.5 1370.1,872.5 1373.1,875.4 1376.2,878.3 1379.2,881.3 1382.2,884.3 1385.2,887.3 1388.3,890.3 1391.3,893.3 1394.3,896.3 1397.3,899.3 1400.4,902.4 1403.4,905.4 1406.4,908.5 1409.4,911.5 1412.5,914.6 1415.5,917.7 1418.5,920.8 1421.5,923.8 1424.6,926.9 1427.6,930.0 1430.6,933.1 1433.6,936.2 1436.7,939.3 1439.7,942.4 1442.7,945.4 1445.7,948.5 1448.8,951.6 1451.8,954.7 1454.8,957.7 1457.8,960.8 1460.9,963.8 1463.9,966.9 1466.9,969.9 1469.9,973.0 1473.0,976.0 1476.0,979.0"/>
<polyline stroke="#4DBEEE" points="265.9,1600.1 268.9,1602.5 272.0,1604.9 275.0,1607.4 278.0,1609.8 281.0,1612.2 284.1,1614.6 287.1,1616.9 290.1,1619.3 293.1,1621.6 296.2,1624.0 299.2,1626.3 302.2,1628.6 305.2,1630.8 308.3,1633.1 311.3,1635.3 314.3,1637.5 317.3,1639.7 320.4,1641.9 323.4,1644.0 326.4,1646.2 329.4,1648.3 332.5,1650.4 335.5,1652.4 338.5,1654.4 341.5,1656.4 344.6,1658.4 347.6,1660.4 350.6,1662.3 353.6,1664.2 356.7,1666.1 359.7,1667.9 362.7,1669.7 365.7,1671.5 368.8,1673.2 371.8,1674.9 374.8,1676.6 377.8,1678.2 380.9,1679.8 383.9,1681.4 386.9,1683.0 389.9,1684.5 393.0,1685.9 396.0,1687.3 399.0,1688.7 402.0,1690.1 405.1,1691.4 408.1,1692.7 411.1,1693.9 414.1,1695.1 417.2,1696.2 420.2,1697.3 423.2,1698.4 426.2,1699.4 429.3,1700.4 432.3,1701.3 435.3,1702.2 438.3,1703.0 441.4,1703.8 444.4,1704.5 447.4,1705.2 450.4,1705.8 453.5,1706.4 456.5,1706.9 459.5,1707.4 462.5,1707.9 465.6,1708.2 468.6,1708.6 471.6,1708.9 474.6,1709.1 477.7,1709.2 480.7,1709.4 483.7,1709.4 486.7,1709.4 489.8,1709.4 492.8,1709.3 495.8,1709.1 498.8,1708.9 501.9,1708.6 504.9,1708.2 507.9,1707.8 510.9,1707.4 514.0,1706.9 517.0,1706.3 520.0,1705.6 523.0,1704.9 526.1,1704.2 529.1,1703.4 532.1,1702.5 535.1,1701.5 538.2,1700.5 541.2,1699.4 544.2,1698.3 547.2,1697.1 550.3,1695.8 553.3,1694.5 556.3,1693.1 559.3,1691.7 562.4,1690.2 565.4,1688.6 568.4,1686.9 571.5,1685.2 574.5,1683.4 577.5,1681.6 580.5,1679.7 583.6,1677.7 586.6,1675.6 589.6,1673.5 592.6,1671.4 595.7,1669.1 598.7,1666.8 601.7,1664.4 604.7,1662.0 607.8,1659.5 610.8,1656.9 613.8,1654.3 616.8,1651.6 619.9,1648.8 622.9,1646.0 625.9,1643.1 628.9,1640.1 632.0,1637.1 635.0,1634.0 638.0,1630.9 641.0,1627.6 644.1,1624.3 647.1,1621.0 650.1,1617.6 653.1,1614.1 656.2,1610.6 659.2,1607.0 662.2,1603.3 665.2,1599.6 668.3,1595.8 671.3,1592.0 674.3,1588.1 677.3,1584.1 680.4,1580.1 683.4,1576.0 686.4,1571.8 689.4,1567.6 692.5,1563.4 695.5,1559.1 698.5,1554.7 701.5,1550.3 704.6,1545.8 707.6,1541.2 710.6,1536.7 713.6,1532.0 716.7,1527.3 719.7,1522.6 722.7,1517.8 725.7,1512.9 728.8,1508.0 731.8,1503.1 734.8,1498.1 737.8,1493.0 740.9,1487.9 743.9,1482.8 746.9,1477.6 749.9,1472.4 753.0,1467.1 756.0,1461.8 759.0,1456.5 762.0,1451.1 765.1,1445.6 768.1,1440.2 771.1,1434.7 774.1,1429.1 777.2,1423.5 780.2,1417.9 783.2,1412.3 786.2,1406.6 789.3,1400.9 792.3,1395.2 795.3,1389.4 798.3,1383.6 801.4,1377.8 804.4,1371.9 807.4,1366.0 810.4,1360.1 813.5,1354.2 816.5,1348.2 819.5,1342.3 822.5,1336.3 825.6,1330.3 828.6,1324.2 831.6,1318.2 834.6,1312.1 837.7,1306.1 840.7,1300.0 843.7,1293.9 846.7,1287.8 849.8,1281.7 852.8,1275.6 855.8,1269.4 858.8,1263.3 861.9,1257.1 864.9,1251.0 867.9,1244.8 870.9,1238.7 874.0,1232.6 877.0,1226.4 880.0,1220.3 883.1,1214.1 886.1,1208.0 889.1,1201.8 892.1,1195.7 895.2,1189.6 898.2,1183.5 901.2,1177.4 904.2,1171.3 907.3,1165.3 910.3,1159.2 913.3,1153.2 916.3,1147.1 919.4,1141.1 922.4,1135.1 925.4,1129.2 928.4,1123.2 931.5,1117.3 934.5,1111.4 937.5,1105.5 940.5,1099.6 943.6,1093.8 946.6,1088.0 949.6,1082.2 952.6,1076.5 955.7,1070.8 958.7,1065.1 961.7,1059.5 964.7,1053.9 967.8,1048.3 970.8,1042.7 973.8,1037.2 976.8,1031.8 979.9,1026.3 982.9,1020.9 985.9,1015.6 988.9,1010.3 992.0,1005.0 995.0,999.8 998.0,994.6 1001.0,989.5 1004.1,984.4 1007.1,979.3 1010.1,974.3 1013.1,969.4 1016.2,964.5 1019.2,959.6 1022.2,954.8 1025.2,950.1 1028.3,945.4 1031.3,940.7 1034.3,936.2 1037.3,931.6 1040.4,927.1 1043.4,922.7 1046.4,918.3 1049.4,914.0 1052.5,909.8 1055.5,905.6 1058.5,901.4 1061.5,897.3 1064.6,893.3 1067.6,889.3 1070.6,885.4 1073.6,881.6 1076.7,877.8 1079.7,874.1 1082.7,870.4 1085.7,866.8 1088.8,863.3 1091.8,859.8 1094.8,856.4 1097.8,853.1 1100.9,849.8 1103.9,846.5 1106.9,843.4 1109.9,840.3 1113.0,837.3 1116.0,834.3 1119.0,831.4 1122.0,828.6 1125.1,825.8 1128.1,823.1 1131.1,820.5 1134.1,817.9 1137.2,815.4 1140.2,813.0 1143.2,810.6 1146.2,808.3 1149.3,806.0 1152.3,803.9 1155.3,801.8 1158.3,799.7 1161.4,797.7 1164.4,795.8 1167.4,794.0 1170.4,792.2 1173.5,790.5 1176.5,788.8 1179.5,787.2 1182.6,785.7 1185.6,784.3 1188.6,782.9 1191.6,781.6 1194.7,780.3 1197.7,779.1 1200.7,778.0 1203.7,776.9 1206.8,775.9 1209.8,774.9 1212.8,774.0 1215.8,773.2 1218.9,772.5 1221.9,771.8 1224.9,771.1 1227.9,770.5 1231.0,770.0 1234.0,769.6 1237.0,769.2 1240.0,768.8 1243.1,768.5 1246.1,768.3 1249.1,768.1 1252.1,768.0 1255.2,768.0 1258.2,768.0 1261.2,768.0 1264.2,768.2 1267.3,768.3 1270.3,768.5 1273.3,768.8 1276.3,769.2 1279.4,769.5 1282.4,770.0 1285.4,770.5 1288.4,771.0 1291.5,771.6 1294.5,772.2 1297.5,772.9 1300.5,773.6 1303.6,774.4 1306.6,775.2 1309.6,776.1 1312.6,777.0 1315.7,778.0 1318.7,779.0 1321.7,780.1 1324.7,781.2 1327.8,782.3 1330.8,783.5 1333.8,784.7 1336.8,786.0 1339.9,787.3 1342.9,788.7 1345.9,790.1 1348.9,791.5 1352.0,792.9 1355.0,794.4 1358.0,796.0 1361.0,797.6 1364.1,799.2 1367.1,800.8 1370.1,802.5 1373.1,804.2 1376.2,805.9 1379.2,807.7 1382.2,809.5 1385.2,811.3 1388.3,813.2 1391.3,815.1 1394.3,817.0 1397.3,819.0 1400.4,821.0 1403.4,823.0 1406.4,825.0 1409.4,827.0 1412.5,829.1 1415.5,831.2 1418.5,833.4 1421.5,835.5 1424.6,837.7 1427.6,839.9 1430.6,842.1 1433.6,844.3 1436.7,846.6 1439.7,848.8 1442.7,851.1 1445.7,853.4 1448.8,855.8 1451.8,858.1 1454.8,860.5 1457.8,862.8 1460.9,865.2 1463.9,867.6 1466.9,870.0 1469.9,872.5 1473.0,874.9 1476.0,877.3"/>
<polyline stroke="#A2142F" points="265.9,1663.4 268.9,1665.0 272.0,1666.6 275.0,1668.2 278.0,1669.7 281.0,1671.2 284.1,1672.7 287.1,1674.2 290.1,1675.6 293.1,1677.1 296.2,1678.5 299.2,1679.8 302.2,1681.2 305.2,1682.5 308.3,1683.8 311.3,1685.1 314.3,1686.3 317.3,1687.5 320.4,1688.7 323.4,1689.9 326.4,1691.0 329.4,1692.1 332.5,1693.2 335.5,1694.2 338.5,1695.2 341.5,1696.2 344.6,1697.2 347.6,1698.1 350.6,1699.0 353.6,1699.8 356.7,1700.6 359.7,1701.4 362.7,1702.2 365.7,1702.9 368.8,1703.5 371.8,1704.2 374.8,1704.8 377.8,1705.4 380.9,1705.9 383.9,1706.4 386.9,1706.9 389.9,1707.3 393.0,1707.7 396.0,1708.0 399.0,1708.3 402.0,1708.6 405.1,1708.9 408.1,1709.0 411.1,1709.2 414.1,1709.3 417.2,1709.4 420.2,1709.4 423.2,1709.4 426.2,1709.4 429.3,1709.3 432.3,1709.1 435.3,1709.0 438.3,1708.8 441.4,1708.5 444.4,1708.2 447.4,1707.8 450.4,1707.5 453.5,1707.0 456.5,1706.5 459.5,1706.0 462.5,1705.5 465.6,1704.8 468.6,1704.2 471.6,1703.5 474.6,1702.7 477.7,1701.9 480.7,1701.1 483.7,1700.2 486.7,1699.3 489.8,1698.3 492.8,1697.3 495.8,1696.2 498.8,1695.1 501.9,1693.9 504.9,1692.7 507.9,1691.5 510.9,1690.2 514.0,1688.8 517.0,1687.4 520.0,1685.9 523.0,1684.4 526.1,1682.9 529.1,1681.3 532.1,1679.7 535.1,1678.0 538.2,1676.2 541.2,1674.4 544.2,1672.6 547.2,1670.7 550.3,1668.8 553.3,1666.8 556.3,1664.8 559.3,1662.7 562.4,1660.6 565.4,1658.4 568.4,1656.2 571.5,1653.9 574.5,1651.6 577.5,1649.2 580.5,1646.8 583.6,1644.3 586.6,1641.8 589.6,1639.3 592.6,1636.7 595.7,1634.0 598.7,1631.3 601.7,1628.6 604.7,1625.8 607.8,1622.9 610.8,1620.0 613.8,1617.1 616.8,1614.1 619.9,1611.1 622.9,1608.0 625.9,1604.9 628.9,1601.7 632.0,1598.5 635.0,1595.3 638.0,1592.0 641.0,1588.6 644.1,1585.2 647.1,1581.8 650.1,1578.3 653.1,1574.8 656.2,1571.2 659.2,1567.6 662.2,1564.0 665.2,1560.3 668.3,1556.6 671.3,1552.8 674.3,1549.0 677.3,1545.1 680.4,1541.2 683.4,1537.3 686.4,1533.3 689.4,1529.3 692.5,1525.3 695.5,1521.2 698.5,1517.1 701.5,1512.9 704.6,1508.7 707.6,1504.5 710.6,1500.2 713.6,1495.9 716.7,1491.6 719.7,1487.2 722.7,1482.8 725.7,1478.4 728.8,1473.9 731.8,1469.4 734.8,1464.9 737.8,1460.3 740.9,1455.7 743.9,1451.1 746.9,1446.4 749.9,1441.7 753.0,1437.0 756.0,1432.3 759.0,1427.5 762.0,1422.7 765.1,1417.9 768.1,1413.1 771.1,1408.2 774.1,1403.3 777.2,1398.4 780.2,1393.5 783.2,1388.6 786.2,1383.6 789.3,1378.6 792.3,1373.6 795.3,1368.5 798.3,1363.5 801.4,1358.4 804.4,1353.3 807.4,1348.2 810.4,1343.1 813.5,1338.0 816.5,1332.8 819.5,1327.7 822.5,1322.5 825.6,1317.3 828.6,1312.1 831.6,1306.9 834.6,1301.7 837.7,1296.5 840.7,1291.3 843.7,1286.0 846.7,1280.8 849.8,1275.6 852.8,1270.3 855.8,1265.0 858.8,1259.8 861.9,1254.5 864.9,1249.2 867.9,1244.0 870.9,1238.7 874.0,1233.4 877.0,1228.2 880.0,1222.9 883.1,1217.6 886.1,1212.4 889.1,1207.1 892.1,1201.8 895.2,1196.6 898.2,1191.4 901.2,1186.1 904.2,1180.9 907.3,1175.7 910.3,1170.5 913.3,1165.3 916.3,1160.1 919.4,1154.9 922.4,1149.7 925.4,1144.6 928.4,1139.4 931.5,1134.3 934.5,1129.2 937.5,1124.1 940.5,1119.0 943.6,1113.9 946.6,1108.9 949.6,1103.8 952.6,1098.8 955.7,1093.8 958.7,1088.8 961.7,1083.9 964.7,1079.0 967.8,1074.1 970.8,1069.2 973.8,1064.3 976.8,1059.5 979.9,1054.7 982.9,1049.9 985.9,1045.1 988.9,1040.4 992.0,1035.7 995.0,1031.0 998.0,1026.3 1001.0,1021.7 1004.1,1017.1 1007.1,1012.5 1010.1,1008.0 1013.1,1003.5 1016.2,999.0 1019.2,994.6 1022.2,990.2 1025.2,985.8 1028.3,981.5 1031.3,977.2 1034.3,972.9 1037.3,968.7 1040.4,964.5 1043.4,960.3 1046.4,956.2 1049.4,952.1 1052.5,948.1 1055.5,944.1 1058.5,940.1 1061.5,936.2 1064.6,932.3 1067.6,928.4 1070.6,924.6 1073.6,920.8 1076.7,917.1 1079.7,913.4 1082.7,909.8 1085.7,906.2 1088.8,902.6 1091.8,899.1 1094.8,895.6 1097.8,892.2 1100.9,888.8 1103.9,885.4 1106.9,882.1 1109.9,878.9 1113.0,875.7 1116.0,872.5 1119.0,869.4 1122.0,866.3 1125.1,863.3 1128.1,860.3 1131.1,857.4 1134.1,854.5 1137.2,851.6 1140.2,848.8 1143.2,846.1 1146.2,843.4 1149.3,840.7 1152.3,838.1 1155.3,835.6 1158.3,833.1 1161.4,830.6 1164.4,828.2 1167.4,825.8 1170.4,823.5 1173.5,821.2 1176.5,819.0 1179.5,816.8 1182.6,814.7 1185.6,812.6 1188.6,810.6 1191.6,808.6 1194.7,806.7 1197.7,804.8 1200.7,803.0 1203.7,801.2 1206.8,799.4 1209.8,797.7 1212.8,796.1 1215.8,794.5 1218.9,793.0 1221.9,791.5 1224.9,790.0 1227.9,788.6 1231.0,787.2 1234.0,785.9 1237.0,784.7 1240.0,783.5 1243.1,782.3 1246.1,781.2 1249.1,780.1 1252.1,779.1 1255.2,778.1 1258.2,777.2 1261.2,776.3 1264.2,775.5 1267.3,774.7 1270.3,773.9 1273.3,773.2 1276.3,772.6 1279.4,771.9 1282.4,771.4 1285.4,770.9 1288.4,770.4 1291.5,769.9 1294.5,769.6 1297.5,769.2 1300.5,768.9 1303.6,768.6 1306.6,768.4 1309.6,768.3 1312.6,768.1 1315.7,768.0 1318.7,768.0 1321.7,768.0 1324.7,768.0 1327.8,768.1 1330.8,768.2 1333.8,768.4 1336.8,768.5 1339.9,768.8 1342.9,769.1 1345.9,769.4 1348.9,769.7 1352.0,770.1 1355.0,770.5 1358.0,771.0 1361.0,771.5 1364.1,772.0 1367.1,772.6 1370.1,773.2 1373.1,773.9 1376.2,774.5 1379.2,775.2 1382.2,776.0 1385.2,776.8 1388.3,777.6 1391.3,778.4 1394.3,779.3 1397.3,780.2 1400.4,781.2 1403.4,782.2 1406.4,783.2 1409.4,784.2 1412.5,785.3 1415.5,786.4 1418.5,787.5 1421.5,788.7 1424.6,789.9 1427.6,791.1 1430.6,792.3 1433.6,793.6 1436.7,794.9 1439.7,796.2 1442.7,797.6 1445.7,798.9 1448.8,800.3 1451.8,801.8 1454.8,803.2 1457.8,804.7 1460.9,806.2 1463.9,807.7 1466.9,809.2 1469.9,810.8 1473.0,812.4 1476.0,814.0"/>
<polyline stroke="#0072BD" points="265.9,1696.2 268.9,1697.0 272.0,1697.9 275.0,1698.6 278.0,1699.4 281.0,1700.1 284.1,1700.8 287.1,1701.5 290.1,1702.2 293.1,1702.8 296.2,1703.4 299.2,1704.0 302.2,1704.5 305.2,1705.0 308.3,1705.5 311.3,1706.0 314.3,1706.4 317.3,1706.8 320.4,1707.2 323.4,1707.5 326.4,1707.9 329.4,1708.2 332.5,1708.4 335.5,1708.6 338.5,1708.9 341.5,1709.0 344.6,1709.2 347.6,1709.3 350.6,1709.4 353.6,1709.4 356.7,1709.4 359.7,1709.4 362.7,1709.4 365.7,1709.3 368.8,1709.2 371.8,1709.0 374.8,1708.9 377.8,1708.7 380.9,1708.4 383.9,1708.1 386.9,1707.8 389.9,1707.5 393.0,1707.1 396.0,1706.7 399.0,1706.3 402.0,1705.8 405.1,1705.3 408.1,1704.8 411.1,1704.2 414.1,1703.6 417.2,1702.9 420.2,1702.2 423.2,1701.5 426.2,1700.8 429.3,1700.0 432.3,1699.2 435.3,1698.3 438.3,1697.4 441.4,1696.5 444.4,1695.5 447.4,1694.5 450.4,1693.5 453.5,1692.4 456.5,1691.3 459.5,1690.2 462.5,1689.0 465.6,1687.7 468.6,1686.5 471.6,1685.2 474.6,1683.9 477.7,1682.5 480.7,1681.1 483.7,1679.7 486.7,1678.2 489.8,1676.7 492.8,1675.1 495.8,1673.5 498.8,1671.9 501.9,1670.2 504.9,1668.5 507.9,1666.8 510.9,1665.0 514.0,1663.2 517.0,1661.4 520.0,1659.5 523.0,1657.6 526.1,1655.6 529.1,1653.6 532.1,1651.6 535.1,1649.5 538.2,1647.4 541.2,1645.3 544.2,1643.1 547.2,1640.9 550.3,1638.6 553.3,1636.3 556.3,1634.0 559.3,1631.6 562.4,1629.3 565.4,1626.8 568.4,1624.3 571.5,1621.8 574.5,1619.3 577.5,1616.7 580.5,1614.1 583.6,1611.5 586.6,1608.8 589.6,1606.1 592.6,1603.3 595.7,1600.5 598.7,1597.7 601.7,1594.9 604.7,1592.0 607.8,1589.0 610.8,1586.1 613.8,1583.1 616.8,1580.1 619.9,1577.0 622.9,1573.9 625.9,1570.8 628.9,1567.6 632.0,1564.4 635.0,1561.2 638.0,1558.0 641.0,1554.7 644.1,1551.4 647.1,1548.0 650.1,1544.6 653.1,1541.2 656.2,1537.8 659.2,1534.3 662.2,1530.8 665.2,1527.3 668.3,1523.8 671.3,1520.2 674.3,1516.6 677.3,1512.9 680.4,1509.2 683.4,1505.5 686.4,1501.8 689.4,1498.1 692.5,1494.3 695.5,1490.5 698.5,1486.7 701.5,1482.8 704.6,1478.9 707.6,1475.0 710.6,1471.1 713.6,1467.1 716.7,1463.1 719.7,1459.1 722.7,1455.1 725.7,1451.1 728.8,1447.0 731.8,1442.9 734.8,1438.8 737.8,1434.7 740.9,1430.5 743.9,1426.3 746.9,1422.1 749.9,1417.9 753.0,1413.7 756.0,1409.4 759.0,1405.2 762.0,1400.9 765.1,1396.6 768.1,1392.3 771.1,1387.9 774.1,1383.6 777.2,1379.2 780.2,1374.8 783.2,1370.4 786.2,1366.0 789.3,1361.6 792.3,1357.2 795.3,1352.7 798.3,1348.2 801.4,1343.8 804.4,1339.3 807.4,1334.8 810.4,1330.3 813.5,1325.8 816.5,1321.2 819.5,1316.7 822.5,1312.1 825.6,1307.6 828.6,1303.0 831.6,1298.5 834.6,1293.9 837.7,1289.3 840.7,1284.7 843.7,1280.1 846.7,1275.6 849.8,1271.0 852.8,1266.4 855.8,1261.7 858.8,1257.1 861.9,1252.5 864.9,1247.9 867.9,1243.3 870.9,1238.7 874.0,1234.1 877.0,1229.5 880.0,1224.9 883.1,1220.3 886.1,1215.7 889.1,1211.0 892.1,1206.4 895.2,1201.8 898.2,1197.3 901.2,1192.7 904.2,1188.1 907.3,1183.5 910.3,1178.9 913.3,1174.4 916.3,1169.8 919.4,1165.3 922.4,1160.7 925.4,1156.2 928.4,1151.6 931.5,1147.1 934.5,1142.6 937.5,1138.1 940.5,1133.6 943.6,1129.2 946.6,1124.7 949.6,1120.2 952.6,1115.8 955.7,1111.4 958.7,1107.0 961.7,1102.6 964.7,1098.2 967.8,1093.8 970.8,1089.5 973.8,1085.1 976.8,1080.8 979.9,1076.5 982.9,1072.2 985.9,1068.0 988.9,1063.7 992.0,1059.5 995.0,1055.3 998.0,1051.1 1001.0,1046.9 1004.1,1042.7 1007.1,1038.6 1010.1,1034.5 1013.1,1030.4 1016.2,1026.3 1019.2,1022.3 1022.2,1018.3 1025.2,1014.3 1028.3,1010.3 1031.3,1006.3 1034.3,1002.4 1037.3,998.5 1040.4,994.6 1043.4,990.7 1046.4,986.9 1049.4,983.1 1052.5,979.3 1055.5,975.6 1058.5,971.9 1061.5,968.2 1064.6,964.5 1067.6,960.8 1070.6,957.2 1073.6,953.6 1076.7,950.1 1079.7,946.6 1082.7,943.1 1085.7,939.6 1088.8,936.2 1091.8,932.8 1094.8,929.4 1097.8,926.0 1100.9,922.7 1103.9,919.4 1106.9,916.2 1109.9,913.0 1113.0,909.8 1116.0,906.6 1119.0,903.5 1122.0,900.4 1125.1,897.3 1128.1,894.3 1131.1,891.3 1134.1,888.4 1137.2,885.4 1140.2,882.5 1143.2,879.7 1146.2,876.9 1149.3,874.1 1152.3,871.3 1155.3,868.6 1158.3,865.9 1161.4,863.3 1164.4,860.7 1167.4,858.1 1170.4,855.6 1173.5,853.1 1176.5,850.6 1179.5,848.1 1182.6,845.8 1185.6,843.4 1188.6,841.1 1191.6,838.8 1194.7,836.5 1197.7,834.3 1200.7,832.1 1203.7,830.0 1206.8,827.9 1209.8,825.8 1212.8,823.8 1215.8,821.8 1218.9,819.8 1221.9,817.9 1224.9,816.0 1227.9,814.2 1231.0,812.4 1234.0,810.6 1237.0,808.9 1240.0,807.2 1243.1,805.5 1246.1,803.9 1249.1,802.3 1252.1,800.7 1255.2,799.2 1258.2,797.7 1261.2,796.3 1264.2,794.9 1267.3,793.5 1270.3,792.2 1273.3,790.9 1276.3,789.7 1279.4,788.4 1282.4,787.2 1285.4,786.1 1288.4,785.0 1291.5,783.9 1294.5,782.9 1297.5,781.9 1300.5,780.9 1303.6,780.0 1306.6,779.1 1309.6,778.2 1312.6,777.4 1315.7,776.6 1318.7,775.9 1321.7,775.2 1324.7,774.5 1327.8,773.8 1330.8,773.2 1333.8,772.6 1336.8,772.1 1339.9,771.6 1342.9,771.1 1345.9,770.7 1348.9,770.3 1352.0,769.9 1355.0,769.6 1358.0,769.3 1361.0,769.0 1364.1,768.7 1367.1,768.5 1370.1,768.4 1373.1,768.2 1376.2,768.1 1379.2,768.0 1382.2,768.0 1385.2,768.0 1388.3,768.0 1391.3,768.0 1394.3,768.1 1397.3,768.2 1400.4,768.4 1403.4,768.5 1406.4,768.8 1409.4,769.0 1412.5,769.2 1415.5,769.5 1418.5,769.9 1421.5,770.2 1424.6,770.6 1427.6,771.0 1430.6,771.4 1433.6,771.9 1436.7,772.4 1439.7,772.9 1442.7,773.4 1445.7,774.0 1448.8,774.6 1451.8,775.2 1454.8,775.9 1457.8,776.6 1460.9,777.3 1463.9,778.0 1466.9,778.8 1469.9,779.5 1473.0,780.4 1476.0,781.2"/>
<polyline stroke="#D95319" points="265.9,1708.5 268.9,1708.7 272.0,1708.9 275.0,1709.0 278.0,1709.1 281.0,1709.2 284.1,1709.3 287.1,1709.4 290.1,1709.4 293.1,1709.4 296.2,1709.4 299.2,1709.4 302.2,1709.3 305.2,1709.2 308.3,1709.1 311.3,1708.9 314.3,1708.8 317.3,1708.6 320.4,1708.4 323.4,1708.1 326.4,1707.8 329.4,1707.5 332.5,1707.2 335.5,1706.9 338.5,1706.5 341.5,1706.1 344.6,1705.6 347.6,1705.2 350.6,1704.7 353.6,1704.2 356.7,1703.6 359.7,1703.1 362.7,1702.5 365.7,1701.9 368.8,1701.2 371.8,1700.5 374.8,1699.8 377.8,1699.1 380.9,1698.3 383.9,1697.5 386.9,1696.7 389.9,1695.8 393.0,1695.0 396.0,1694.1 399.0,1693.1 402.0,1692.2 405.1,1691.2 408.1,1690.2 411.1,1689.1 414.1,1688.0 417.2,1686.9 420.2,1685.8 423.2,1684.6 426.2,1683.4 429.3,1682.2 432.3,1680.9 435.3,1679.7 438.3,1678.3 441.4,1677.0 444.4,1675.6 447.4,1674.2 450.4,1672.8 453.5,1671.4 456.5,1669.9 459.5,1668.4 462.5,1666.8 465.6,1665.2 468.6,1663.6 471.6,1662.0 474.6,1660.3 477.7,1658.6 480.7,1656.9 483.7,1655.2 486.7,1653.4 489.8,1651.6 492.8,1649.7 495.8,1647.9 498.8,1646.0 501.9,1644.1 504.9,1642.1 507.9,1640.1 510.9,1638.1 514.0,1636.1 517.0,1634.0 520.0,1631.9 523.0,1629.8 526.1,1627.6 529.1,1625.4 532.1,1623.2 535.1,1621.0 538.2,1618.7 541.2,1616.4 544.2,1614.1 547.2,1611.8 550.3,1609.4 553.3,1607.0 556.3,1604.5 559.3,1602.1 562.4,1599.6 565.4,1597.1 568.4,1594.5 571.5,1592.0 574.5,1589.4 577.5,1586.7 580.5,1584.1 583.6,1581.4 586.6,1578.7 589.6,1576.0 592.6,1573.2 595.7,1570.4 598.7,1567.6 601.7,1564.8 604.7,1561.9 607.8,1559.1 610.8,1556.2 613.8,1553.2 616.8,1550.3 619.9,1547.3 622.9,1544.3 625.9,1541.2 628.9,1538.2 632.0,1535.1 635.0,1532.0 638.0,1528.9 641.0,1525.7 644.1,1522.6 647.1,1519.4 650.1,1516.2 653.1,1512.9 656.2,1509.7 659.2,1506.4 662.2,1503.1 665.2,1499.7 668.3,1496.4 671.3,1493.0 674.3,1489.6 677.3,1486.2 680.4,1482.8 683.4,1479.4 686.4,1475.9 689.4,1472.4 692.5,1468.9 695.5,1465.4 698.5,1461.8 701.5,1458.3 704.6,1454.7 707.6,1451.1 710.6,1447.5 713.6,1443.8 716.7,1440.2 719.7,1436.5 722.7,1432.8 725.7,1429.1 728.8,1425.4 731.8,1421.7 734.8,1417.9 737.8,1414.2 740.9,1410.4 743.9,1406.6 746.9,1402.8 749.9,1399.0 753.0,1395.2 756.0,1391.3 759.0,1387.4 762.0,1383.6 765.1,1379.7 768.1,1375.8 771.1,1371.9 774.1,1368.0 777.2,1364.1 780.2,1360.1 783.2,1356.2 786.2,1352.2 789.3,1348.2 792.3,1344.3 795.3,1340.3 798.3,1336.3 801.4,1332.3 804.4,1328.3 807.4,1324.2 810.4,1320.2 813.5,1316.2 816.5,1312.1 819.5,1308.1 822.5,1304.1 825.6,1300.0 828.6,1295.9 831.6,1291.9 834.6,1287.8 837.7,1283.7 840.7,1279.6 843.7,1275.6 846.7,1271.5 849.8,1267.4 852.8,1263.3 855.8,1259.2 858.8,1255.1 861.9,1251.0 864.9,1246.9 867.9,1242.8 870.9,1238.7 874.0,1234.6 877.0,1230.5 880.0,1226.4 883.1,1222.3 886.1,1218.2 889.1,1214.1 892.1,1210.0 895.2,1205.9 898.2,1201.8 901.2,1197.8 904.2,1193.7 907.3,1189.6 910.3,1185.5 913.3,1181.5 916.3,1177.4 919.4,1173.3 922.4,1169.3 925.4,1165.3 928.4,1161.2 931.5,1157.2 934.5,1153.2 937.5,1149.1 940.5,1145.1 943.6,1141.1 946.6,1137.1 949.6,1133.1 952.6,1129.2 955.7,1125.2 958.7,1121.2 961.7,1117.3 964.7,1113.3 967.8,1109.4 970.8,1105.5 973.8,1101.6 976.8,1097.7 979.9,1093.8 982.9,1090.0 985.9,1086.1 988.9,1082.2 992.0,1078.4 995.0,1074.6 998.0,1070.8 1001.0,1067.0 1004.1,1063.2 1007.1,1059.5 1010.1,1055.7 1013.1,1052.0 1016.2,1048.3 1019.2,1044.6 1022.2,1040.9 1025.2,1037.2 1028.3,1033.6 1031.3,1029.9 1034.3,1026.3 1037.3,1022.7 1040.4,1019.1 1043.4,1015.6 1046.4,1012.0 1049.4,1008.5 1052.5,1005.0 1055.5,1001.5 1058.5,998.0 1061.5,994.6 1064.6,991.2 1067.6,987.8 1070.6,984.4 1073.6,981.0 1076.7,977.7 1079.7,974.3 1082.7,971.0 1085.7,967.7 1088.8,964.5 1091.8,961.2 1094.8,958.0 1097.8,954.8 1100.9,951.7 1103.9,948.5 1106.9,945.4 1109.9,942.3 1113.0,939.2 1116.0,936.2 1119.0,933.1 1122.0,930.1 1125.1,927.1 1128.1,924.2 1131.1,921.2 1134.1,918.3 1137.2,915.5 1140.2,912.6 1143.2,909.8 1146.2,907.0 1149.3,904.2 1152.3,901.4 1155.3,898.7 1158.3,896.0 1161.4,893.3 1164.4,890.7 1167.4,888.0 1170.4,885.4 1173.5,882.9 1176.5,880.3 1179.5,877.8 1182.6,875.3 1185.6,872.9 1188.6,870.4 1191.6,868.0 1194.7,865.6 1197.7,863.3 1200.7,861.0 1203.7,858.7 1206.8,856.4 1209.8,854.2 1212.8,852.0 1215.8,849.8 1218.9,847.6 1221.9,845.5 1224.9,843.4 1227.9,841.3 1231.0,839.3 1234.0,837.3 1237.0,835.3 1240.0,833.3 1243.1,831.4 1246.1,829.5 1249.1,827.7 1252.1,825.8 1255.2,824.0 1258.2,822.2 1261.2,820.5 1264.2,818.8 1267.3,817.1 1270.3,815.4 1273.3,813.8 1276.3,812.2 1279.4,810.6 1282.4,809.0 1285.4,807.5 1288.4,806.0 1291.5,804.6 1294.5,803.2 1297.5,801.8 1300.5,800.4 1303.6,799.1 1306.6,797.7 1309.6,796.5 1312.6,795.2 1315.7,794.0 1318.7,792.8 1321.7,791.6 1324.7,790.5 1327.8,789.4 1330.8,788.3 1333.8,787.2 1336.8,786.2 1339.9,785.2 1342.9,784.3 1345.9,783.3 1348.9,782.4 1352.0,781.6 1355.0,780.7 1358.0,779.9 1361.0,779.1 1364.1,778.3 1367.1,777.6 1370.1,776.9 1373.1,776.2 1376.2,775.5 1379.2,774.9 1382.2,774.3 1385.2,773.8 1388.3,773.2 1391.3,772.7 1394.3,772.2 1397.3,771.8 1400.4,771.3 1403.4,770.9 1406.4,770.5 1409.4,770.2 1412.5,769.9 1415.5,769.6 1418.5,769.3 1421.5,769.0 1424.6,768.8 1427.6,768.6 1430.6,768.5 1433.6,768.3 1436.7,768.2 1439.7,768.1 1442.7,768.0 1445.7,768.0 1448.8,768.0 1451.8,768.0 1454.8,768.0 1457.8,768.1 1460.9,768.2 1463.9,768.3 1466.9,768.4 1469.9,768.5 1473.0,768.7 1476.0,768.9"/>
<polyline stroke="#EDB120" points="265.9,1707.8 268.9,1707.6 272.0,1707.3 275.0,1707.0 278.0,1706.6 281.0,1706.3 284.1,1705.9 287.1,1705.5 290.1,1705.1 293.1,1704.7 296.2,1704.2 299.2,1703.7 302.2,1703.2 305.2,1702.7 308.3,1702.1 311.3,1701.5 314.3,1700.9 317.3,1700.3 320.4,1699.7 323.4,1699.0 326.4,1698.3 329.4,1697.6 332.5,1696.9 335.5,1696.1 338.5,1695.3 341.5,1694.5 344.6,1693.7 347.6,1692.8 350.6,1692.0 353.6,1691.1 356.7,1690.2 359.7,1689.2 362.7,1688.2 365.7,1687.3 368.8,1686.2 371.8,1685.2 374.8,1684.1 377.8,1683.1 380.9,1681.9 383.9,1680.8 386.9,1679.7 389.9,1678.5 393.0,1677.3 396.0,1676.1 399.0,1674.8 402.0,1673.5 405.1,1672.2 408.1,1670.9 411.1,1669.6 414.1,1668.2 417.2,1666.8 420.2,1665.4 423.2,1664.0 426.2,1662.5 429.3,1661.0 432.3,1659.5 435.3,1658.0 438.3,1656.4 441.4,1654.8 444.4,1653.2 447.4,1651.6 450.4,1649.9 453.5,1648.3 456.5,1646.6 459.5,1644.8 462.5,1643.1 465.6,1641.3 468.6,1639.5 471.6,1637.7 474.6,1635.9 477.7,1634.0 480.7,1632.1 483.7,1630.2 486.7,1628.3 489.8,1626.3 492.8,1624.3 495.8,1622.3 498.8,1620.3 501.9,1618.3 504.9,1616.2 507.9,1614.1 510.9,1612.0 514.0,1609.9 517.0,1607.7 520.0,1605.5 523.0,1603.3 526.1,1601.1 529.1,1598.8 532.1,1596.6 535.1,1594.3 538.2,1592.0 541.2,1589.6 544.2,1587.3 547.2,1584.9 550.3,1582.5 553.3,1580.1 556.3,1577.6 559.3,1575.2 562.4,1572.7 565.4,1570.2 568.4,1567.6 571.5,1565.1 574.5,1562.5 577.5,1559.9 580.5,1557.3 583.6,1554.7 586.6,1552.0 589.6,1549.4 592.6,1546.7 595.7,1544.0 598.7,1541.2 601.7,1538.5 604.7,1535.7 607.8,1532.9 610.8,1530.1 613.8,1527.3 616.8,1524.5 619.9,1521.6 622.9,1518.7 625.9,1515.8 628.9,1512.9 632.0,1510.0 635.0,1507.0 638.0,1504.1 641.0,1501.1 644.1,1498.1 647.1,1495.0 650.1,1492.0 653.1,1489.0 656.2,1485.9 659.2,1482.8 662.2,1479.7 665.2,1476.6 668.3,1473.4 671.3,1470.3 674.3,1467.1 677.3,1463.9 680.4,1460.8 683.4,1457.5 686.4,1454.3 689.4,1451.1 692.5,1447.8 695.5,1444.6 698.5,1441.3 701.5,1438.0 704.6,1434.7 707.6,1431.3 710.6,1428.0 713.6,1424.7 716.7,1421.3 719.7,1417.9 722.7,1414.5 725.7,1411.2 728.8,1407.7 731.8,1404.3 734.8,1400.9 737.8,1397.5 740.9,1394.0 743.9,1390.5 746.9,1387.1 749.9,1383.6 753.0,1380.1 756.0,1376.6 759.0,1373.1 762.0,1369.5 765.1,1366.0 768.1,1362.5 771.1,1358.9 774.1,1355.4 777.2,1351.8 780.2,1348.2 783.2,1344.7 786.2,1341.1 789.3,1337.5 792.3,1333.9 795.3,1330.3 798.3,1326.7 801.4,1323.0 804.4,1319.4 807.4,1315.8 810.4,1312.1 813.5,1308.5 816.5,1304.9 819.5,1301.2 822.5,1297.6 825.6,1293.9 828.6,1290.2 831.6,1286.6 834.6,1282.9 837.7,1279.2 840.7,1275.6 843.7,1271.9 846.7,1268.2 849.8,1264.5 852.8,1260.8 855.8,1257.1 858.8,1253.5 861.9,1249.8 864.9,1246.1 867.9,1242.4 870.9,1238.7 874.0,1235.0 877.0,1231.3 880.0,1227.6 883.1,1223.9 886.1,1220.3 889.1,1216.6 892.1,1212.9 895.2,1209.2 898.2,1205.5 901.2,1201.8 904.2,1198.2 907.3,1194.5 910.3,1190.8 913.3,1187.2 916.3,1183.5 919.4,1179.8 922.4,1176.2 925.4,1172.5 928.4,1168.9 931.5,1165.3 934.5,1161.6 937.5,1158.0 940.5,1154.4 943.6,1150.7 946.6,1147.1 949.6,1143.5 952.6,1139.9 955.7,1136.3 958.7,1132.7 961.7,1129.2 964.7,1125.6 967.8,1122.0 970.8,1118.5 973.8,1114.9 976.8,1111.4 979.9,1107.9 982.9,1104.3 985.9,1100.8 988.9,1097.3 992.0,1093.8 995.0,1090.3 998.0,1086.9 1001.0,1083.4 1004.1,1079.9 1007.1,1076.5 1010.1,1073.1 1013.1,1069.7 1016.2,1066.2 1019.2,1062.9 1022.2,1059.5 1025.2,1056.1 1028.3,1052.7 1031.3,1049.4 1034.3,1046.1 1037.3,1042.7 1040.4,1039.4 1043.4,1036.1 1046.4,1032.8 1049.4,1029.6 1052.5,1026.3 1055.5,1023.1 1058.5,1019.9 1061.5,1016.6 1064.6,1013.5 1067.6,1010.3 1070.6,1007.1 1073.6,1004.0 1076.7,1000.8 1079.7,997.7 1082.7,994.6 1085.7,991.5 1088.8,988.4 1091.8,985.4 1094.8,982.4 1097.8,979.3 1100.9,976.3 1103.9,973.3 1106.9,970.4 1109.9,967.4 1113.0,964.5 1116.0,961.6 1119.0,958.7 1122.0,955.8 1125.1,952.9 1128.1,950.1 1131.1,947.3 1134.1,944.5 1137.2,941.7 1140.2,938.9 1143.2,936.2 1146.2,933.4 1149.3,930.7 1152.3,928.0 1155.3,925.4 1158.3,922.7 1161.4,920.1 1164.4,917.5 1167.4,914.9 1170.4,912.3 1173.5,909.8 1176.5,907.2 1179.5,904.7 1182.6,902.2 1185.6,899.8 1188.6,897.3 1191.6,894.9 1194.7,892.5 1197.7,890.1 1200.7,887.8 1203.7,885.4 1206.8,883.1 1209.8,880.8 1212.8,878.6 1215.8,876.3 1218.9,874.1 1221.9,871.9 1224.9,869.7 1227.9,867.5 1231.0,865.4 1234.0,863.3 1237.0,861.2 1240.0,859.1 1243.1,857.1 1246.1,855.1 1249.1,853.1 1252.1,851.1 1255.2,849.1 1258.2,847.2 1261.2,845.3 1264.2,843.4 1267.3,841.5 1270.3,839.7 1273.3,837.9 1276.3,836.1 1279.4,834.3 1282.4,832.6 1285.4,830.8 1288.4,829.1 1291.5,827.5 1294.5,825.8 1297.5,824.2 1300.5,822.6 1303.6,821.0 1306.6,819.4 1309.6,817.9 1312.6,816.4 1315.7,814.9 1318.7,813.4 1321.7,812.0 1324.7,810.6 1327.8,809.2 1330.8,807.8 1333.8,806.5 1336.8,805.2 1339.9,803.9 1342.9,802.6 1345.9,801.3 1348.9,800.1 1352.0,798.9 1355.0,797.7 1358.0,796.6 1361.0,795.5 1364.1,794.3 1367.1,793.3 1370.1,792.2 1373.1,791.2 1376.2,790.1 1379.2,789.2 1382.2,788.2 1385.2,787.2 1388.3,786.3 1391.3,785.4 1394.3,784.6 1397.3,783.7 1400.4,782.9 1403.4,782.1 1406.4,781.3 1409.4,780.5 1412.5,779.8 1415.5,779.1 1418.5,778.4 1421.5,777.7 1424.6,777.1 1427.6,776.5 1430.6,775.9 1433.6,775.3 1436.7,774.7 1439.7,774.2 1442.7,773.7 1445.7,773.2 1448.8,772.7 1451.8,772.3 1454.8,771.9 1457.8,771.5 1460.9,771.1 1463.9,770.8 1466.9,770.4 1469.9,770.1 1473.0,769.8 1476.0,769.6"/>
</g>
</g>
<g class="legend"><rect x="292.1" y="785.35" width="259.75" height="413.75" fill="#fff" stroke="#262626" stroke-width="2.0"/>
<line x1="310" x2="412" y1="810.15" y2="810.15" stroke="#0072BD" stroke-width="7.1"/>
<text class="lg" x="419.2" y="821">SC=1.7</text>
<line x1="310" x2="412" y1="850.65" y2="850.65" stroke="#D95319" stroke-width="7.1"/>
<text class="lg" x="419.2" y="862">SC=3.4</text>
<line x1="310" x2="412" y1="891.15" y2="891.15" stroke="#EDB120" stroke-width="7.1"/>
<text class="lg" x="419.2" y="902">SC=5.1</text>
<line x1="310" x2="412" y1="931.65" y2="931.65" stroke="#7E2F8E" stroke-width="7.1"/>
<text class="lg" x="419.2" y="943">SC=6.8</text>
<line x1="310" x2="412" y1="972.15" y2="972.15" stroke="#77AC30" stroke-width="7.1"/>
<text class="lg" x="419.2" y="983">SC=8.5</text>
<line x1="310" x2="412" y1="1012.65" y2="1012.65" stroke="#4DBEEE" stroke-width="7.1"/>
<text class="lg" x="419.2" y="1024">SC=10.2</text>
<line x1="310" x2="412" y1="1053.15" y2="1053.15" stroke="#A2142F" stroke-width="7.1"/>
<text class="lg" x="419.2" y="1064">SC=11.9</text>
<line x1="310" x2="412" y1="1093.65" y2="1093.65" stroke="#0072BD" stroke-width="7.1"/>
<text class="lg" x="419.2" y="1105">SC=13.6</text>
<line x1="310" x2="412" y1="1134.15" y2="1134.15" stroke="#D95319" stroke-width="7.1"/>
<text class="lg" x="419.2" y="1145">SC=15.3</text>
<line x1="310" x2="412" y1="1174.65" y2="1174.65" stroke="#EDB120" stroke-width="7.1"/>
<text class="lg" x="419.2" y="1186">SC=17</text>
</g>
<text class="pl"><tspan x="8.2" y="37" font-size="56px">a</tspan><tspan x="35.6" y="37" font-size="56px">)</tspan></text>
<text class="pl"><tspan x="834.2" y="37" font-size="54px">b</tspan><tspan x="863" y="37" font-size="56px">)</tspan></text>
<text class="pl"><tspan x="162.3" y="778" font-size="56px">c</tspan><tspan x="186.8" y="777" font-size="54px">)</tspan></text>
<g class="ti" text-anchor="middle">
<text x="420" y="661.6">Gaussian function</text>
<text x="420" y="713.1">family</text>
<text x="1275.6" y="661.6">Hyperbolic tangent</text>
<text x="1275.6" y="713.1">function family</text>
<text x="1169" y="1508.5">Family of hyperbolic tangent</text>
<text x="1169" y="1560">Gaussian functions</text>
</g>
<g class="arrows">
<line x1="695.6" y1="544.4" x2="747.75" y2="596.58" stroke="#F49D56" stroke-width="9.6" stroke-linecap="round"/>
<polygon points="782.25,631.1 734.39,607.12 758.29,583.22" fill="#F49D56"/>
<line x1="986.9" y1="544.75" x2="935.34" y2="596.82" stroke="#F49D56" stroke-width="9.6" stroke-linecap="round"/>
<polygon points="901,631.5 924.73,583.51 948.75,607.29" fill="#F49D56"/>
<line x1="844" y1="736.1" x2="844" y2="798.1" stroke="#F49D56" stroke-width="9.6" stroke-linecap="round"/>
<polygon points="844,846.9 827.1,796.1 860.9,796.1" fill="#F49D56"/>
<ellipse cx="843.8" cy="666.3" rx="55.8" ry="54.6" fill="none" stroke="#F49D56" stroke-width="7.6"/>
<path d="M816.4 638.6L872.1 694.5M872.1 638.6L816.4 694.5" stroke="#000" stroke-width="9.4" fill="none"/>
</g>
</svg>
</body>
</html>
